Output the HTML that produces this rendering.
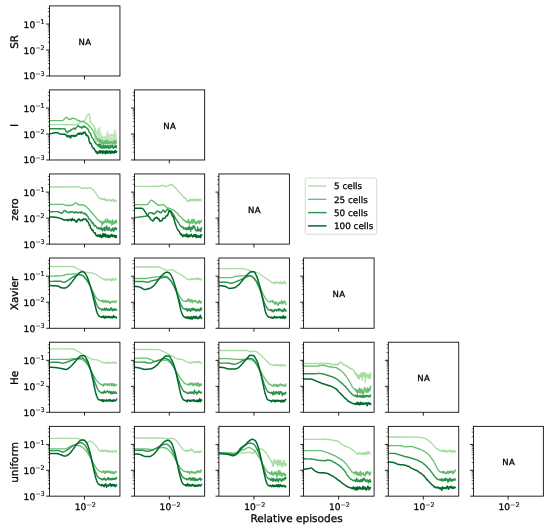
<!DOCTYPE html>
<html lang="en">
<head>
<meta charset="utf-8">
<title>Relative episodes</title>
<style>
html,body{margin:0;padding:0;background:#fff;}
body{width:550px;height:528px;overflow:hidden;}
svg{display:block;}
</style>
</head>
<body>
<svg width="550" height="528" viewBox="0 0 550 528" font-family="'DejaVu Sans', 'Liberation Sans', sans-serif">
<style>text{stroke:#000;stroke-width:0.28px;stroke-linejoin:round;text-rendering:geometricPrecision;}</style>
<rect width="550" height="528" fill="#fff"/>
<text x="84.97" y="44.54" font-size="8.5" letter-spacing="0.4" text-anchor="middle" fill="#000">NA</text>
<rect x="49.5" y="5.9" width="70.45" height="70.08" fill="none" stroke="#000" stroke-width="0.85"/>
<path d="M49.5 75.98h-3.4M49.5 50.01h-3.4M49.5 24.05h-3.4" stroke="#000" stroke-width="0.85" fill="none"/>
<path d="M49.5 68.16h-1.7M49.5 63.59h-1.7M49.5 60.35h-1.7M49.5 57.83h-1.7M49.5 55.77h-1.7M49.5 54.04h-1.7M49.5 52.53h-1.7M49.5 51.2h-1.7M49.5 42.2h-1.7M49.5 37.63h-1.7M49.5 34.38h-1.7M49.5 31.87h-1.7M49.5 29.81h-1.7M49.5 28.07h-1.7M49.5 26.57h-1.7M49.5 25.24h-1.7M49.5 16.23h-1.7M49.5 11.66h-1.7M49.5 8.42h-1.7" stroke="#000" stroke-width="0.6" fill="none"/>
<path d="M84.51 75.98v3.4" stroke="#000" stroke-width="0.85" fill="none"/>
<text x="44.6" y="79.48" font-size="9.1" text-anchor="end" fill="#000">10<tspan dy="-3.4" font-size="6.4" stroke-width="0.15">−3</tspan></text>
<text x="44.6" y="53.51" font-size="9.1" text-anchor="end" fill="#000">10<tspan dy="-3.4" font-size="6.4" stroke-width="0.15">−2</tspan></text>
<text x="44.6" y="27.55" font-size="9.1" text-anchor="end" fill="#000">10<tspan dy="-3.4" font-size="6.4" stroke-width="0.15">−1</tspan></text>
<text transform="translate(17.7 41.84) rotate(-90)" font-size="10.5" text-anchor="middle" fill="#000">SR</text>
<g fill="none" stroke-linejoin="round" stroke-linecap="butt">
<polygon points="94.1,126.9 94.3,126.3 94.5,127.5 94.6,127.2 94.8,127.8 95,129.2 95.1,128.8 95.3,130.1 95.5,130.1 95.6,130.7 95.8,131.9 96,131.4 96.1,132.9 96.3,133.3 96.5,133.2 96.6,132.3 96.8,133.3 97,133.1 97.1,132.8 97.3,131.2 97.5,132.1 97.6,131.2 97.8,129.4 98,129.3 98.1,128.4 98.3,129.2 98.5,129 98.6,128.8 98.8,127.8 99,127.6 99.1,127.4 99.3,127.2 99.5,127.9 99.6,128 99.8,128.6 100,130 100.1,130.2 100.3,132 100.5,132.6 100.6,132.5 100.8,133.7 101,134.1 101.1,133.8 101.3,133.9 101.5,134.4 101.6,134.8 101.8,135.3 102,135.6 102.1,136.5 102.3,135.9 102.5,137.1 102.6,137.1 102.8,137.6 103,137 103.1,136.6 103.3,138 103.5,137.1 103.6,137.1 103.8,138.1 104,138 104.1,137.3 104.3,137.4 104.5,138.5 104.6,137.4 104.8,138 105,136.8 105.1,137.8 105.3,136.5 105.5,137.1 105.6,136.3 105.8,136.9 106,137.2 106.1,135.6 106.3,135.7 106.5,135.9 106.6,135 106.8,133.7 107,133.5 107.1,132.7 107.3,132.8 107.5,131.4 107.6,132.2 107.8,132.1 108,132.8 108.1,132.8 108.3,133.9 108.5,134.5 108.6,134.7 108.8,134.6 109,136.2 109.1,136 109.3,135.2 109.5,136 109.6,135 109.8,135.4 110,135.7 110.1,135.1 110.3,134.5 110.5,134.5 110.6,134 110.8,134.3 111,134.4 111.1,134.2 111.3,134 111.5,134.9 111.6,134.3 111.8,135.2 112,135.4 112.1,134.4 112.3,135.1 112.5,135.3 112.6,134.9 112.8,134.9 113,136.1 113.1,135.5 113.3,136 113.5,134.3 113.6,134.6 113.8,134.3 114,133.6 114.1,131.4 114.3,131.6 114.5,130.5 114.6,130.7 114.8,129.3 115,129.8 115.1,130.8 115.3,130.9 115.5,131.6 115.6,133.1 115.8,132.9 116,133.2 116.1,134.4 116.3,134.5 116.5,134.4 116.6,135.3 116.8,136.1 116.8,141.9 94.1,141.9" fill="#a8dca2" fill-opacity="0.5" stroke="none"/>
<polygon points="94.1,129.6 94.3,129.8 94.5,129.6 94.6,130.3 94.8,131.2 95,131.4 95.1,132.5 95.3,132.4 95.5,132 95.6,133.5 95.8,133.8 96,133.7 96.1,134.9 96.3,135.8 96.5,134.6 96.6,135.6 96.8,136 97,135.2 97.1,134.3 97.3,133.9 97.5,133.9 97.6,133.4 97.8,132.6 98,131.2 98.1,132.3 98.3,132.1 98.5,129.9 98.6,129.9 98.8,129.3 99,130.6 99.1,130.5 99.3,128.5 99.5,129.2 99.6,129.6 99.8,131.2 100,133.4 100.1,132.5 100.3,133.4 100.5,134.7 100.6,135.2 100.8,136.1 101,136 101.1,135.8 101.3,136.7 101.5,138.5 101.6,138.3 101.8,137.3 102,138.8 102.1,137.9 102.3,139.3 102.5,137.9 102.6,140.1 102.8,138.7 103,139.5 103.1,140.2 103.3,140 103.5,139.3 103.6,139.4 103.8,139.6 104,139.2 104.1,139.6 104.3,139.4 104.5,140.2 104.6,139.9 104.8,140.3 105,139.4 105.1,138.7 105.3,139.2 105.5,140.1 105.6,139 105.8,139.1 106,139.6 106.1,138.5 106.3,139.4 106.5,138.9 106.6,136.9 106.8,137 107,135.2 107.1,134.4 107.3,134.5 107.5,134.5 107.6,135.2 107.8,133.6 108,135.3 108.1,135.4 108.3,135.2 108.5,137.6 108.6,137.7 108.8,137 109,138.8 109.1,137.2 109.3,137.2 109.5,137.7 109.6,138.8 109.8,136.9 110,138.5 110.1,137.9 110.3,136.4 110.5,137.4 110.6,137 110.8,137.3 111,137.7 111.1,137.5 111.3,138.3 111.5,136.6 111.6,137.9 111.8,137 112,137.8 112.1,138.1 112.3,138.5 112.5,137.3 112.6,138 112.8,139 113,138.9 113.1,137.7 113.3,138.9 113.5,137.3 113.6,136.7 113.8,136.7 114,135.3 114.1,134.6 114.3,133.7 114.5,133 114.6,131.9 114.8,131.5 115,133.2 115.1,132.9 115.3,133.8 115.5,134.8 115.6,134.2 115.8,135.1 116,135.9 116.1,136.6 116.3,138.1 116.5,137.2 116.6,137.3 116.8,138.1 116.8,141.9 94.1,141.9" fill="#a8dca2" fill-opacity="0.45" stroke="none"/>
<path d="M94.1 126.9L94.3 126.3L94.5 127.5L94.6 127.2L94.8 127.8L95 129.2L95.1 128.8L95.3 130.1L95.5 130.1L95.6 130.7L95.8 131.9L96 131.4L96.1 132.9L96.3 133.3L96.5 133.2L96.6 132.3L96.8 133.3L97 133.1L97.1 132.8L97.3 131.2L97.5 132.1L97.6 131.2L97.8 129.4L98 129.3L98.1 128.4L98.3 129.2L98.5 129L98.6 128.8L98.8 127.8L99 127.6L99.1 127.4L99.3 127.2L99.5 127.9L99.6 128L99.8 128.6L100 130L100.1 130.2L100.3 132L100.5 132.6L100.6 132.5L100.8 133.7L101 134.1L101.1 133.8L101.3 133.9L101.5 134.4L101.6 134.8L101.8 135.3L102 135.6L102.1 136.5L102.3 135.9L102.5 137.1L102.6 137.1L102.8 137.6L103 137L103.1 136.6L103.3 138L103.5 137.1L103.6 137.1L103.8 138.1L104 138L104.1 137.3L104.3 137.4L104.5 138.5L104.6 137.4L104.8 138L105 136.8L105.1 137.8L105.3 136.5L105.5 137.1L105.6 136.3L105.8 136.9L106 137.2L106.1 135.6L106.3 135.7L106.5 135.9L106.6 135L106.8 133.7L107 133.5L107.1 132.7L107.3 132.8L107.5 131.4L107.6 132.2L107.8 132.1L108 132.8L108.1 132.8L108.3 133.9L108.5 134.5L108.6 134.7L108.8 134.6L109 136.2L109.1 136L109.3 135.2L109.5 136L109.6 135L109.8 135.4L110 135.7L110.1 135.1L110.3 134.5L110.5 134.5L110.6 134L110.8 134.3L111 134.4L111.1 134.2L111.3 134L111.5 134.9L111.6 134.3L111.8 135.2L112 135.4L112.1 134.4L112.3 135.1L112.5 135.3L112.6 134.9L112.8 134.9L113 136.1L113.1 135.5L113.3 136L113.5 134.3L113.6 134.6L113.8 134.3L114 133.6L114.1 131.4L114.3 131.6L114.5 130.5L114.6 130.7L114.8 129.3L115 129.8L115.1 130.8L115.3 130.9L115.5 131.6L115.6 133.1L115.8 132.9L116 133.2L116.1 134.4L116.3 134.5L116.5 134.4L116.6 135.3L116.8 136.1" stroke="#a8dca2" stroke-width="0.8" stroke-opacity="0.7"/>
<path d="M49.7 124.7L50 124.7L50.3 124.7L50.7 124.7L51 124.7L51.3 124.7L51.7 124.7L52 124.7L52.3 124.7L52.7 124.7L53 124.7L53.3 124.7L53.7 124.7L54 124.7L54.3 124.7L54.7 124.7L55 124.7L55.3 124.7L55.7 124.7L56 124.7L56.3 124.7L56.7 124.7L57 124.7L57.3 124.7L57.7 124.7L58 124.7L58.3 124.7L58.7 124.7L59 124.7L59.3 124.7L59.7 124.7L60 124.7L60.3 124.7L60.7 124.7L61 124.7L61.3 124.7L61.7 124.7L62 124.7L62.3 124.7L62.7 124.7L63 124.7L63.3 124.7L63.7 124.8L64 124.7L64.3 124.7L64.7 124.8L65 124.8L65.3 124.8L65.7 124.7L66 124.8L66.3 124.7L66.7 124.8L67 124.7L67.3 124.8L67.7 124.7L68 124.8L68.3 124.7L68.7 124.7L69 124.7L69.3 124.5L69.7 124.7L70 124.7L70.3 124.8L70.7 124.8L71 124.7L71.3 124.6L71.7 124.6L72 124.5L72.3 124.6L72.7 124.5L73 124.7L73.3 124.9L73.7 124.8L74 124.7L74.3 124.7L74.7 124.7L75 124.8L75.3 124.7L75.7 124.6L76 124.6L76.3 124.5L76.7 124.3L77 124.3L77.3 124.2L77.7 124L78 123.9L78.3 123.8L78.7 123.8L79 123.6L79.3 123.3L79.7 123.3L80 123L80.3 122.8L80.7 122.6L81 122.4L81.3 122.1L81.7 121.9L82 121.8L82.3 121.7L82.7 121.7L83 121.5L83.3 121.4L83.7 121L84 120.8L84.3 120.5L84.7 120.2L85 119.9L85.3 119.5L85.7 118.9L86 118L86.3 117.2L86.7 116.5L87 115.7L87.3 115.3L87.7 114.8L88 114.3L88.3 114.2L88.7 113.9L89 114.4L89.3 114.9L89.7 116.3L90 118.7L90.3 121.3L90.7 122.5L91 122.9L91.3 123.4L91.7 123.6L92 124L92.3 124.1L92.6 124.4L92.8 124.7L93 125.1L93.1 125.3L93.3 125.5L93.5 125.6L93.6 125.9L93.8 126.3L94 126.5L94.1 127L94.3 127L94.5 127.6L94.6 127.7L94.8 128.2L95 128.8L95.1 129.3L95.3 129.9L95.5 130.3L95.6 130.8L95.8 131.4L96 132" stroke="#a8dca2" stroke-width="1.32"/>
<path d="M98.4 140.5L99.2 141.2L100 141.6L100.8 141.8L101.6 142L102.4 142.2L103.2 142.3L104 142.3L104.8 142.4L105.6 142.4L106.4 142.5L107.2 142.5L108 142.5L108.8 142.6L109.6 142.6L110.4 142.6L111.2 142.7L112 142.7L112.8 142.7L113.6 142.7L114.4 142.7L115.2 142.7L116 142.7L116.8 142.7" stroke="#68be70" stroke-width="2.93" stroke-opacity="0.45"/>
<path d="M49.7 120.6L50 120.6L50.3 120.6L50.7 120.6L51 120.6L51.3 120.6L51.7 120.6L52 120.6L52.3 120.6L52.7 120.6L53 120.6L53.3 120.6L53.7 120.6L54 120.6L54.3 120.6L54.7 120.6L55 120.6L55.3 120.6L55.7 120.6L56 120.6L56.3 120.6L56.7 120.6L57 120.6L57.3 120.6L57.7 120.6L58 120.6L58.3 120.6L58.7 120.6L59 120.6L59.3 120.6L59.7 120.6L60 120.6L60.3 120.6L60.7 120.6L61 120.6L61.3 120.6L61.7 120.6L62 120.6L62.3 120.6L62.7 120.4L63 120.3L63.3 120.1L63.7 119.8L64 119.3L64.3 119L64.7 118.7L65 118.5L65.3 118L65.7 117.6L66 117.5L66.3 117.4L66.7 117.6L67 117.5L67.3 117.7L67.7 118L68 118.2L68.3 118.9L68.7 119.3L69 119.5L69.3 119.2L69.7 119.6L70 119.1L70.3 119.4L70.7 119.1L71 118.9L71.3 118.6L71.7 118.8L72 118.4L72.3 118.2L72.7 118.3L73 118.1L73.3 118.2L73.7 118.4L74 118.6L74.3 118.7L74.7 118.5L75 118.7L75.3 118.9L75.7 119L76 119L76.3 119.6L76.7 120.2L77 120L77.3 120L77.7 120.1L78 120.3L78.3 120.8L78.7 120.5L79 120.8L79.3 120.7L79.7 121.4L80 121.2L80.3 121.4L80.7 121.3L81 121.4L81.3 121.3L81.7 121.2L82 121.3L82.3 121.3L82.7 121.3L83 121.2L83.3 121.8L83.7 121.9L84 122.2L84.3 122.2L84.7 122.4L85 122.5L85.3 122.7L85.7 122.8L86 123.4L86.3 123.2L86.7 123.6L87 124.1L87.3 124.2L87.7 124.4L88 124.7L88.3 124.8L88.7 125.7L89 126L89.3 126L89.7 126.3L90 126.5L90.3 127.2L90.7 127.2L91 127.6L91.3 128.4L91.7 128.7L92 129.3L92.3 129.9L92.7 130.1L93 130.8L93.3 131.6L93.7 132.1L94 132.9L94.3 133.7L94.7 134.5L94.8 134.7L95 134.8L95.2 135L95.3 136L95.5 136.2L95.7 136.5L95.8 136.4L96 137L96.2 137.3L96.3 137.9L96.5 138.2L96.7 138.5L96.8 138.9L97 139.1L97.2 138.9L97.3 138.8L97.5 139.5L97.7 139.7L97.8 139.4L98 139.4L98.2 140.9L98.3 139.9L98.5 140.7L98.7 140.2L98.8 139.2L99 139.5L99.2 139.3L99.3 140.6L99.5 140L99.7 140.9L99.8 140.4L100 141.1L100.2 142.4L100.3 139.9L100.5 140.2L100.7 142.7L100.8 142.2L101 142.3L101.2 141.5L101.3 142.2L101.5 141.2L101.7 143.8L101.8 142.8L102 141.4L102.2 139.9L102.3 143.8L102.5 142.4L102.7 143.4L102.8 145L103 144.5L103.2 144.7L103.3 143.1L103.5 144.6L103.7 142.6L103.8 142.2L104 142.4L104.2 141.5L104.3 143.5L104.5 142.9L104.7 140.8L104.8 141.4L105 142L105.2 142.3L105.3 143.8L105.5 143.7L105.7 143.5L105.8 143L106 142.9L106.2 141.2L106.3 141.7L106.5 139.9L106.7 143.4L106.8 141L107 140.4L107.2 141.7L107.3 141.9L107.5 143.1L107.7 140.8L107.8 141.2L108 143.8L108.2 144L108.3 143.5L108.5 143.3L108.7 142.4L108.8 144.2L109 144.3L109.2 143.4L109.3 142L109.5 142.4L109.7 142.8L109.8 142.4L110 141.5L110.2 142.8L110.3 142.9L110.5 142.5L110.7 142.7L110.8 142.2L111 142.3L111.2 143L111.3 142.8L111.5 141.8L111.7 143.7L111.8 143.4L112 143.7L112.2 144.4L112.3 144.3L112.5 144.5L112.7 144.2L112.8 143.5L113 143.7L113.2 141.6L113.3 143.4L113.5 141.9L113.7 141.6L113.8 140.9L114 141.8L114.2 140.8L114.3 143L114.5 143.6L114.7 143.5L114.8 141.1L115 143.3L115.2 143.2L115.3 140.4L115.5 140.6L115.7 141L115.8 142.1L116 141.3L116.2 142.8L116.3 141.9L116.5 143L116.7 143.3" stroke="#68be70" stroke-width="1.32"/>
<path d="M98.4 145.3L99.2 145.7L100 146L100.8 146.3L101.6 146.4L102.4 146.6L103.2 146.7L104 146.8L104.8 146.9L105.6 146.9L106.4 147L107.2 147L108 147L108.8 147L109.6 147L110.4 147L111.2 147L112 147L112.8 147L113.6 147L114.4 147L115.2 147L116 147L116.8 147" stroke="#2b934b" stroke-width="1.86" stroke-opacity="0.45"/>
<path d="M49.7 128.8L50 128.8L50.3 128.8L50.7 128.8L51 128.8L51.3 128.8L51.7 128.8L52 128.8L52.3 128.8L52.7 128.8L53 128.8L53.3 128.8L53.7 128.8L54 128.8L54.3 128.8L54.7 128.8L55 128.8L55.3 128.8L55.7 128.8L56 128.8L56.3 128.8L56.7 128.8L57 128.8L57.3 128.8L57.7 128.8L58 128.8L58.3 128.8L58.7 128.8L59 128.8L59.3 128.8L59.7 128.8L60 128.8L60.3 128.8L60.7 128.8L61 128.8L61.3 128.8L61.7 128.8L62 128.8L62.3 128.8L62.7 128.8L63 128.9L63.3 128.9L63.7 128.9L64 128.6L64.3 128.5L64.7 128.8L65 128.9L65.3 129.6L65.7 130.5L66 131.5L66.3 131.8L66.7 131.9L67 132.1L67.3 132.8L67.7 132.7L68 132.1L68.3 131.2L68.7 130.9L69 131.1L69.3 131.2L69.7 131.1L70 131.3L70.3 130.6L70.7 129.9L71 130.4L71.3 129.6L71.7 129.7L72 129.1L72.3 129.1L72.7 129L73 128.9L73.3 128.4L73.7 128.3L74 128.1L74.3 128.4L74.7 128.9L75 129.5L75.3 129L75.7 128L76 127.9L76.3 127.9L76.7 127.3L77 126.8L77.3 126.3L77.7 125.9L78 125.6L78.3 125.5L78.7 126.1L79 126.3L79.3 126.5L79.7 127.1L80 126.8L80.3 127.2L80.7 127.2L81 127.4L81.3 127L81.7 127.6L82 128.4L82.3 127.3L82.7 127.4L83 126.2L83.3 126.3L83.7 126.9L84 126.3L84.3 126.5L84.7 127L85 126.3L85.3 127.3L85.7 127.2L86 127.5L86.3 127.7L86.7 127.9L87 128.6L87.3 129.1L87.7 128.8L88 129L88.3 129.6L88.7 130.8L89 131.8L89.3 132.3L89.7 132.9L90 132.8L90.3 132.9L90.7 133.4L91 135.5L91.3 135.8L91.7 137.4L92 137.6L92.3 137.7L92.7 138L93 138.8L93.3 139.4L93.7 139.9L94 140.7L94.3 141.4L94.7 142.2L94.8 141.8L95 142.3L95.2 142.9L95.3 142.4L95.5 143.4L95.7 143.5L95.8 143.6L96 143.2L96.2 143.7L96.3 144L96.5 144.6L96.7 144.2L96.8 144.4L97 144.6L97.2 145.1L97.3 145.1L97.5 145L97.7 145.6L97.8 145.9L98 144.6L98.2 144.9L98.3 145.2L98.5 145.2L98.7 145.1L98.8 146.5L99 144L99.2 143.9L99.3 145.8L99.5 145.5L99.7 146L99.8 146.9L100 145.6L100.2 147.7L100.3 146.5L100.5 144.5L100.7 146.2L100.8 145.9L101 146.8L101.2 147.5L101.3 147.9L101.5 146.1L101.7 147.7L101.8 146.9L102 146.2L102.2 146.8L102.3 146.4L102.5 148.4L102.7 147.2L102.8 146.5L103 147.8L103.2 147.1L103.3 147.7L103.5 145.8L103.7 147.6L103.8 147.8L104 146.1L104.2 146.9L104.3 146.2L104.5 147.5L104.7 145.8L104.8 148.2L105 146.2L105.2 147.5L105.3 147.6L105.5 146.3L105.7 145.3L105.8 147.1L106 145.8L106.2 146.9L106.3 147.2L106.5 147.9L106.7 147L106.8 146.3L107 147.2L107.2 147.8L107.3 147.6L107.5 147.4L107.7 147.2L107.8 145.5L108 147.4L108.2 147.8L108.3 146.8L108.5 148.6L108.7 146.4L108.8 147.7L109 146.6L109.2 146.8L109.3 147.8L109.5 145.9L109.7 147.6L109.8 146.3L110 147.3L110.2 148L110.3 147.1L110.5 146.8L110.7 145.3L110.8 147L111 146.3L111.2 146.7L111.3 146L111.5 147.4L111.7 147.1L111.8 146.5L112 146.1L112.2 146.3L112.3 147.3L112.5 145.4L112.7 147.8L112.8 146.2L113 147.1L113.2 147.4L113.3 147.1L113.5 147.4L113.7 147.7L113.8 148.2L114 146.6L114.2 146.1L114.3 146.8L114.5 146.5L114.7 147.1L114.8 147.3L115 146.9L115.2 144.9L115.3 145.3L115.5 146.9L115.7 146L115.8 147.4L116 146.9L116.2 145.7L116.3 147.3L116.5 147.9L116.7 147.8" stroke="#2b934b" stroke-width="1.4"/>
<path d="M98.4 152.3L99.2 152.3L100 152.4L100.8 152.4L101.6 152.4L102.4 152.4L103.2 152.4L104 152.4L104.8 152.4L105.6 152.4L106.4 152.4L107.2 152.4L108 152.4L108.8 152.4L109.6 152.3L110.4 152.3L111.2 152.3L112 152.3L112.8 152.2L113.6 152.2L114.4 152.2L115.2 152.1L116 152.1L116.8 152" stroke="#00682a" stroke-width="1.2" stroke-opacity="0.45"/>
<path d="M49.7 134L50 133.9L50.3 133.8L50.7 133.7L51 133.6L51.3 133.5L51.7 133.4L52 133.4L52.3 133.3L52.7 133.2L53 133.1L53.3 133.1L53.7 133L54 133L54.3 132.9L54.7 132.9L55 132.8L55.3 132.8L55.7 132.7L56 132.7L56.3 132.7L56.7 132.7L57 132.6L57.3 132.6L57.7 132.7L58 132.9L58.3 133.1L58.7 133.3L59 133.6L59.3 133.8L59.7 133.9L60 134L60.3 134.1L60.7 134.1L61 134.2L61.3 134.2L61.7 134.3L62 134.3L62.3 134.2L62.7 134.3L63 134.4L63.3 134.3L63.7 134.3L64 134.4L64.3 134.1L64.7 134.6L65 134.4L65.3 134.6L65.7 134.5L66 135L66.3 135.2L66.7 136L67 136.7L67.3 135.9L67.7 136.3L68 135.4L68.3 136.4L68.7 136.4L69 137L69.3 136.9L69.7 135.8L70 136.7L70.3 137.1L70.7 138L71 136.4L71.3 135.6L71.7 135.6L72 135.9L72.3 135.9L72.7 135.9L73 135.4L73.3 135.9L73.7 136.2L74 136.7L74.3 135.4L74.7 135.9L75 135.6L75.3 135.4L75.7 136L76 135.9L76.3 135.9L76.7 135.5L77 134.8L77.3 134L77.7 133.8L78 134.4L78.3 133.7L78.7 133.9L79 133L79.3 133.2L79.7 134.3L80 134L80.3 133.8L80.7 133.1L81 133L81.3 134.4L81.7 133.6L82 134L82.3 132.9L82.7 133.2L83 133.6L83.3 133.1L83.7 132.2L84 133L84.3 133L84.7 132L85 132L85.3 132.7L85.7 133.8L86 134.7L86.3 135.5L86.7 134.8L87 135.4L87.3 135.4L87.7 135.6L88 136.5L88.3 137L88.7 138L89 139.6L89.3 141.7L89.7 142.1L90 143.6L90.3 143.4L90.7 143.3L91 143.6L91.3 143.9L91.7 145.7L92 146.2L92.3 146.8L92.7 147.1L93 147.6L93.3 148.6L93.7 148.8L94 148.6L94.3 148.6L94.7 149.9L94.8 149.7L95 150.2L95.2 150.4L95.3 150.6L95.5 151.3L95.7 151.3L95.8 151.1L96 151.8L96.2 152.5L96.3 152.5L96.5 152.8L96.7 152.3L96.8 151.6L97 151.9L97.2 152L97.3 153.3L97.5 153.8L97.7 153.7L97.8 153.3L98 153.4L98.2 152.5L98.3 151.9L98.5 151.9L98.7 151.8L98.8 152.3L99 152.6L99.2 151L99.3 152.5L99.5 151.5L99.7 152.2L99.8 151L100 152.1L100.2 150.7L100.3 152.7L100.5 152.9L100.7 152.4L100.8 151.5L101 150.9L101.2 151.6L101.3 151.6L101.5 151.8L101.7 150.9L101.8 152L102 152.3L102.2 152L102.3 152.8L102.5 152.4L102.7 153.4L102.8 152.3L103 151.5L103.2 151L103.3 150.9L103.5 152.1L103.7 151.2L103.8 152.8L104 152L104.2 152.6L104.3 151.2L104.5 152L104.7 151.5L104.8 152.6L105 152.7L105.2 153.5L105.3 153L105.5 152.6L105.7 153.5L105.8 151.5L106 152L106.2 150.5L106.3 152.1L106.5 151L106.7 151.6L106.8 153.1L107 152.6L107.2 153.3L107.3 153.1L107.5 151.7L107.7 152.8L107.8 151.3L108 151.7L108.2 151.7L108.3 151.9L108.5 152.7L108.7 152.7L108.8 152.5L109 152.9L109.2 152.7L109.3 151L109.5 151L109.7 151.2L109.8 151.4L110 151.1L110.2 151.6L110.3 152.5L110.5 152.3L110.7 152.3L110.8 153.6L111 153.1L111.2 152.2L111.3 151.2L111.5 151.9L111.7 152.5L111.8 152.3L112 152.6L112.2 151.4L112.3 151.2L112.5 151.7L112.7 151.6L112.8 152.7L113 152.7L113.2 151.8L113.3 152.6L113.5 152.9L113.7 151.9L113.8 152.7L114 152.7L114.2 153.1L114.3 153.1L114.5 151.2L114.7 151.9L114.8 151.1L115 151.7L115.2 152L115.3 150.8L115.5 150.6L115.7 151.9L115.8 152.3L116 152.4L116.2 151.4L116.3 152.3L116.5 151.4L116.7 152.2" stroke="#00682a" stroke-width="1.48"/>
</g>
<rect x="49.5" y="89.9" width="70.45" height="70.08" fill="none" stroke="#000" stroke-width="0.85"/>
<path d="M49.5 159.98h-3.4M49.5 134.01h-3.4M49.5 108.05h-3.4" stroke="#000" stroke-width="0.85" fill="none"/>
<path d="M49.5 152.16h-1.7M49.5 147.59h-1.7M49.5 144.35h-1.7M49.5 141.83h-1.7M49.5 139.77h-1.7M49.5 138.04h-1.7M49.5 136.53h-1.7M49.5 135.2h-1.7M49.5 126.2h-1.7M49.5 121.63h-1.7M49.5 118.38h-1.7M49.5 115.87h-1.7M49.5 113.81h-1.7M49.5 112.07h-1.7M49.5 110.57h-1.7M49.5 109.24h-1.7M49.5 100.23h-1.7M49.5 95.66h-1.7M49.5 92.42h-1.7" stroke="#000" stroke-width="0.6" fill="none"/>
<path d="M84.51 159.98v3.4" stroke="#000" stroke-width="0.85" fill="none"/>
<text x="44.6" y="163.48" font-size="9.1" text-anchor="end" fill="#000">10<tspan dy="-3.4" font-size="6.4" stroke-width="0.15">−3</tspan></text>
<text x="44.6" y="137.51" font-size="9.1" text-anchor="end" fill="#000">10<tspan dy="-3.4" font-size="6.4" stroke-width="0.15">−2</tspan></text>
<text x="44.6" y="111.55" font-size="9.1" text-anchor="end" fill="#000">10<tspan dy="-3.4" font-size="6.4" stroke-width="0.15">−1</tspan></text>
<text transform="translate(17.7 125.54) rotate(-90)" font-size="10.5" text-anchor="middle" fill="#000">I</text>
<text x="169.78" y="128.54" font-size="8.5" letter-spacing="0.4" text-anchor="middle" fill="#000">NA</text>
<rect x="134.4" y="89.9" width="70.27" height="70.08" fill="none" stroke="#000" stroke-width="0.85"/>
<path d="M134.4 159.98h-3.4M134.4 134.01h-3.4M134.4 108.05h-3.4" stroke="#000" stroke-width="0.85" fill="none"/>
<path d="M134.4 152.16h-1.7M134.4 147.59h-1.7M134.4 144.35h-1.7M134.4 141.83h-1.7M134.4 139.77h-1.7M134.4 138.04h-1.7M134.4 136.53h-1.7M134.4 135.2h-1.7M134.4 126.2h-1.7M134.4 121.63h-1.7M134.4 118.38h-1.7M134.4 115.87h-1.7M134.4 113.81h-1.7M134.4 112.07h-1.7M134.4 110.57h-1.7M134.4 109.24h-1.7M134.4 100.23h-1.7M134.4 95.66h-1.7M134.4 92.42h-1.7" stroke="#000" stroke-width="0.6" fill="none"/>
<path d="M169.32 159.98v3.4" stroke="#000" stroke-width="0.85" fill="none"/>
<g fill="none" stroke-linejoin="round" stroke-linecap="butt">
<path d="M49.7 187L50 187L50.3 187L50.7 187L51 187L51.3 187L51.7 187L52 187L52.3 187L52.7 187L53 187L53.3 187L53.7 187L54 187L54.3 187L54.7 187L55 187L55.3 187L55.7 187L56 187L56.3 187L56.7 187L57 187L57.3 187L57.7 187L58 187L58.3 187L58.7 187L59 187L59.3 187L59.7 187L60 187L60.3 187L60.7 187L61 187L61.3 187L61.7 187L62 187L62.3 187L62.7 187L63 187L63.3 187L63.7 187L64 187L64.3 186.9L64.7 187L65 187L65.3 187.1L65.7 187L66 187.1L66.3 186.9L66.7 187L67 187L67.3 186.9L67.7 187L68 186.9L68.3 186.9L68.7 186.9L69 187L69.3 186.9L69.7 186.9L70 186.9L70.3 186.8L70.7 186.9L71 187L71.3 187L71.7 186.8L72 186.7L72.3 186.8L72.7 186.8L73 187L73.3 186.9L73.7 186.8L74 186.8L74.3 186.9L74.7 186.7L75 186.6L75.3 186.8L75.7 186.9L76 186.7L76.3 186.8L76.7 186.7L77 186.6L77.3 186.6L77.7 186.3L78 186.4L78.3 186.4L78.7 186.7L79 186.6L79.3 187L79.7 187.3L80 187.5L80.3 187.6L80.7 187.5L81 188.1L81.3 188.1L81.7 188.4L82 188.1L82.3 188.1L82.7 188.3L83 188.3L83.3 188L83.7 188.3L84 187.9L84.3 187.8L84.7 188.1L85 188L85.3 188L85.7 188L86 188L86.3 188.2L86.7 188.2L87 188.4L87.3 188.3L87.7 188.5L88 188.2L88.3 188.3L88.7 188L89 188.2L89.3 188.2L89.7 188.1L90 187.7L90.3 187.7L90.7 187.6L91 187.9L91.3 188.5L91.7 188.7L92 188.9L92.3 188.9L92.7 189.4L93 189.6L93.3 190.2L93.7 190.4L94 190.6L94.3 191.2L94.7 191.5L95 192.2L95.3 192.5L95.7 192.8L96 193.2L96.3 193.9L96.7 194.5L97 195.1L97.3 195.7L97.4 196L97.6 196L97.7 196.3L97.9 196.3L98.1 196.9L98.2 197.3L98.4 197.4L98.6 197.7L98.7 197.8L98.9 197.6L99.1 197.9L99.2 197.8L99.4 198.1L99.6 198.1L99.7 198.4L99.9 198.3L100.1 198.3L100.2 198.6L100.4 198.7L100.6 198.8L100.7 198.9L100.9 198.9L101.1 199L101.2 198.9L101.4 199.4L101.6 199.7L101.7 199.6L101.9 198.6L102.1 199.1L102.2 199.2L102.4 199.2L102.6 199L102.7 199.4L102.9 199.2L103.1 199L103.2 199.6L103.4 199.5L103.6 199.4L103.7 199.4L103.9 198.6L104.1 198.8L104.2 198.5L104.4 198.3L104.6 199.3L104.7 199.1L104.9 199.5L105.1 200.1L105.2 199.6L105.4 199L105.6 199.2L105.7 199.1L105.9 199.5L106.1 199.6L106.2 201L106.4 200.5L106.6 200.5L106.7 200.2L106.9 200.8L107.1 200.5L107.2 200.4L107.4 200.2L107.6 200L107.7 200.4L107.9 200.5L108.1 200.2L108.2 200.2L108.4 199.8L108.6 200L108.7 199.3L108.9 199.5L109.1 200L109.2 199.5L109.4 200.5L109.6 200.4L109.7 200.2L109.9 200.3L110.1 200.2L110.2 200.5L110.4 200.4L110.6 200.5L110.7 200.1L110.9 200.2L111.1 200.2L111.2 200.7L111.4 201.4L111.6 201.2L111.7 201.2L111.9 200.7L112.1 199.8L112.2 199.9L112.4 199.3L112.6 199.8L112.7 199.4L112.9 199.3L113.1 199.7L113.2 199.4L113.4 200.6L113.6 200.9L113.7 201.3L113.9 201.7L114.1 200.9L114.2 201.1L114.4 200.9L114.6 200.8L114.7 200.6L114.9 200L115.1 200.3L115.2 200.4L115.4 200.3L115.6 200.7L115.7 200.8L115.9 201L116.1 201.5L116.2 201.6L116.4 201.6L116.6 201.3L116.7 201.5" stroke="#a8dca2" stroke-width="1.32"/>
<path d="M49.7 204.4L50 204.4L50.3 204.4L50.7 204.4L51 204.4L51.3 204.4L51.7 204.4L52 204.4L52.3 204.4L52.7 204.4L53 204.4L53.3 204.4L53.7 204.4L54 204.4L54.3 204.4L54.7 204.4L55 204.4L55.3 204.4L55.7 204.4L56 204.4L56.3 204.4L56.7 204.4L57 204.4L57.3 204.4L57.7 204.4L58 204.4L58.3 204.4L58.7 204.4L59 204.4L59.3 204.4L59.7 204.4L60 204.4L60.3 204.4L60.7 204.4L61 204.4L61.3 204.4L61.7 204.4L62 204.4L62.3 204.4L62.7 204.4L63 204.4L63.3 204.4L63.7 204.5L64 204.7L64.3 204.8L64.7 205L65 205L65.3 205.2L65.7 205.1L66 205.4L66.3 205.4L66.7 205.7L67 205.5L67.3 205.5L67.7 205.5L68 205.6L68.3 205.3L68.7 205.3L69 205.2L69.3 205.3L69.7 205.7L70 205.4L70.3 205.4L70.7 205.2L71 205.5L71.3 205.3L71.7 205.2L72 205L72.3 205L72.7 204.8L73 204.8L73.3 204.5L73.7 204.2L74 203.9L74.3 203.5L74.7 203.2L75 203L75.3 202.9L75.7 202.9L76 202.8L76.3 202.9L76.7 203.4L77 203.5L77.3 204.2L77.7 204.5L78 204.3L78.3 204.4L78.7 204.5L79 204.6L79.3 204.6L79.7 205L80 205.2L80.3 205L80.7 204.8L81 204.7L81.3 204.7L81.7 204.9L82 205.1L82.3 205.1L82.7 204.7L83 204.7L83.3 205.1L83.7 205.1L84 205.3L84.3 205.5L84.7 205.4L85 205.8L85.3 205.8L85.7 206.3L86 206.4L86.3 206.7L86.7 207L87 207.4L87.3 207.7L87.7 208.1L88 208.3L88.3 208.8L88.7 208.7L89 209.3L89.3 209.6L89.7 210.6L90 210.8L90.3 211.1L90.7 211.2L91 211.6L91.3 212.2L91.7 212.5L92 212.6L92.3 213L92.7 213.4L93 214.3L93.3 214.5L93.7 214.7L94 215.1L94.3 215.7L94.7 216.2L95 216.3L95.3 216.6L95.7 217.1L96 217.5L96.3 217.9L96.7 218.3L97 218.9L97.3 219.6L97.4 219.5L97.6 219.8L97.7 219.7L97.9 219.7L98.1 220L98.2 220.2L98.4 220.2L98.6 220.5L98.7 220.6L98.9 220.9L99.1 220.6L99.2 220.9L99.4 221.3L99.6 221.4L99.7 221.3L99.9 221.4L100.1 221.7L100.2 221.9L100.4 222.1L100.6 222.1L100.7 222.3L100.9 221.7L101.1 221.7L101.2 221.1L101.4 222.3L101.6 221.8L101.7 224.1L101.9 223.4L102.1 225.3L102.2 223.9L102.4 222.9L102.6 223L102.7 221.8L102.9 221.8L103.1 221.7L103.2 222.8L103.4 222.9L103.6 223L103.7 223.7L103.9 221.6L104.1 221.6L104.2 221.2L104.4 221.8L104.6 222.4L104.7 221.9L104.9 221.6L105.1 222.1L105.2 221.9L105.4 219.6L105.6 221.2L105.7 219L105.9 220.2L106.1 221.1L106.2 220.6L106.4 222.2L106.6 222.6L106.7 222L106.9 222.3L107.1 222.2L107.2 221.2L107.4 220.9L107.6 220.2L107.7 219L107.9 221.5L108.1 222.1L108.2 221.4L108.4 222.7L108.6 221.9L108.7 221.5L108.9 222.2L109.1 222.7L109.2 222.8L109.4 222.9L109.6 222.3L109.7 220.5L109.9 221.4L110.1 222L110.2 221.7L110.4 222L110.6 220.9L110.7 221.9L110.9 223L111.1 223.7L111.2 224.2L111.4 223.2L111.6 223.1L111.7 225L111.9 223.2L112.1 223L112.2 221.2L112.4 219.6L112.6 222.3L112.7 222.7L112.9 221.7L113.1 224.2L113.2 221.8L113.4 221.3L113.6 223.5L113.7 221.6L113.9 222.8L114.1 223.1L114.2 223.4L114.4 223L114.6 222L114.7 222.6L114.9 221.1L115.1 221.3L115.2 222.9L115.4 220.4L115.6 221.5L115.7 220.6L115.9 221.3L116.1 221.1L116.2 220.2L116.4 221.6L116.6 222.8L116.7 222.1" stroke="#68be70" stroke-width="1.32"/>
<path d="M49.7 211.9L50 211.8L50.3 211.8L50.7 211.8L51 211.7L51.3 211.7L51.7 211.7L52 211.7L52.3 211.7L52.7 211.6L53 211.6L53.3 211.6L53.7 211.6L54 211.6L54.3 211.6L54.7 211.6L55 211.6L55.3 211.6L55.7 211.6L56 211.6L56.3 211.6L56.7 211.6L57 211.6L57.3 211.6L57.7 211.6L58 211.7L58.3 211.8L58.7 212L59 212.1L59.3 212.3L59.7 212.5L60 212.6L60.3 212.8L60.7 212.9L61 213.1L61.3 213.2L61.7 213.2L62 213.2L62.3 213.1L62.7 212.8L63 212.3L63.3 211.8L63.7 211.3L64 210.8L64.3 210.6L64.7 210.5L65 210.7L65.3 210.8L65.7 210.7L66 211.4L66.3 211.5L66.7 212L67 212.1L67.3 212.4L67.7 212.2L68 212.6L68.3 212.4L68.7 212.8L69 212.4L69.3 212.5L69.7 211.7L70 212.5L70.3 212.3L70.7 212.2L71 211.6L71.3 211.8L71.7 211.5L72 211.8L72.3 212.1L72.7 212.1L73 211.9L73.3 212.2L73.7 212.5L74 212.3L74.3 212.6L74.7 213.2L75 212.7L75.3 212.5L75.7 211.6L76 212.2L76.3 212.1L76.7 212.5L77 212.4L77.3 212.7L77.7 213.1L78 212.2L78.3 212.8L78.7 212.5L79 212.5L79.3 212.2L79.7 212.1L80 212.3L80.3 213L80.7 212.4L81 213L81.3 211.8L81.7 212.5L82 212.1L82.3 212.6L82.7 212.8L83 213.2L83.3 213.4L83.7 213.5L84 213.7L84.3 213.9L84.7 213L85 213.2L85.3 213.6L85.7 213.8L86 214.7L86.3 214.3L86.7 215.1L87 215.2L87.3 216.1L87.7 216.2L88 217.1L88.3 217.8L88.7 217.8L89 219.3L89.3 219.1L89.7 219.1L90 219.5L90.3 220.1L90.7 220.4L91 221.6L91.3 221.7L91.7 221.5L92 222.8L92.3 222.9L92.7 223.6L93 222.6L93.3 224L93.7 224L94 225.6L94.3 225.8L94.7 226.1L95 225.2L95.3 226.1L95.7 225.9L96 226.5L96.3 226.7L96.7 227.2L96.7 227.6L96.9 227.5L97.1 227.9L97.2 228.3L97.4 227.9L97.6 228.1L97.7 228.5L97.9 228.5L98.1 227.9L98.2 228.4L98.4 228.4L98.6 228.5L98.7 228.2L98.9 228.2L99.1 227.5L99.2 228L99.4 228.3L99.6 228.9L99.7 228.4L99.9 229.2L100.1 228.9L100.2 228.9L100.4 228.9L100.6 229.1L100.7 229.2L100.9 228.9L101.1 228.8L101.2 227.1L101.4 228.4L101.6 228.4L101.7 228.8L101.9 229.2L102.1 229.8L102.2 229.4L102.4 230.9L102.6 229.1L102.7 229.7L102.9 228.4L103.1 229.8L103.2 228.5L103.4 229.1L103.6 228.5L103.7 228.6L103.9 228.9L104.1 227.8L104.2 229.3L104.4 230.7L104.6 229.2L104.7 229.3L104.9 227.5L105.1 228L105.2 228.7L105.4 230.2L105.6 227.5L105.7 229.4L105.9 228.7L106.1 229.1L106.2 227.5L106.4 226.6L106.6 225.9L106.7 227L106.9 227.2L107.1 227L107.2 229.5L107.4 229L107.6 229.2L107.7 230.4L107.9 229.7L108.1 230L108.2 230.3L108.4 229.2L108.6 229.2L108.7 228.9L108.9 227.8L109.1 227.4L109.2 228L109.4 228.7L109.6 228.9L109.7 229L109.9 230.1L110.1 229L110.2 230L110.4 229.8L110.6 229.7L110.7 230.2L110.9 230L111.1 231.1L111.2 231.1L111.4 230.8L111.6 230.1L111.7 229.7L111.9 229.7L112.1 230.4L112.2 228.5L112.4 228.7L112.6 227.9L112.7 228.7L112.9 228.6L113.1 228.4L113.2 229.3L113.4 230.6L113.6 231.3L113.7 230L113.9 230L114.1 229L114.2 228.1L114.4 228.9L114.6 228.2L114.7 230L114.9 229.6L115.1 228L115.2 227.7L115.4 228.3L115.6 228L115.7 227.4L115.9 228.2L116.1 229.1L116.2 229.3L116.4 229.6L116.6 228.3L116.7 227.8" stroke="#2b934b" stroke-width="1.4"/>
<path d="M49.7 216.9L50 216.9L50.3 216.9L50.7 216.9L51 216.9L51.3 216.9L51.7 217L52 217L52.3 217L52.7 217L53 217.1L53.3 217.1L53.7 217.1L54 217.1L54.3 217.2L54.7 217.2L55 217.2L55.3 217.3L55.7 217.3L56 217.3L56.3 217.4L56.7 217.4L57 217.5L57.3 217.6L57.7 217.7L58 217.7L58.3 217.8L58.7 217.9L59 218L59.3 218.1L59.7 218.2L60 218.3L60.3 218.4L60.7 218.5L61 218.6L61.3 218.7L61.7 218.9L62 219L62.3 219.1L62.7 219.2L63 219.4L63.3 219.6L63.7 219.9L64 219.9L64.3 220.1L64.7 220.2L65 220L65.3 219.9L65.7 219.8L66 219.9L66.3 219.7L66.7 219.9L67 219.7L67.3 219.9L67.7 219.6L68 220.7L68.3 220.4L68.7 220.1L69 219.5L69.3 219.6L69.7 219.6L70 219.6L70.3 220.1L70.7 219.5L71 220.5L71.3 220.8L71.7 220.1L72 218.8L72.3 218.5L72.7 218.9L73 219.8L73.3 220.2L73.7 220.3L74 220.2L74.3 219.4L74.7 220.4L75 220.6L75.3 221.2L75.7 221.3L76 221L76.3 222.3L76.7 221.6L77 221.6L77.3 220.2L77.7 220.1L78 219.3L78.3 219.3L78.7 219L79 219.7L79.3 219.1L79.7 219.8L80 220.5L80.3 220.2L80.7 220.7L81 220.6L81.3 220.4L81.7 220L82 220.7L82.3 220L82.7 219.5L83 219.3L83.3 218.9L83.7 219.5L84 219.2L84.3 219.5L84.7 219.4L85 219.3L85.3 219.5L85.7 219L86 219.1L86.3 219.3L86.7 220.1L87 221.3L87.3 220.8L87.7 221.5L88 222L88.3 222L88.7 223.3L89 223.9L89.3 225.3L89.7 224.9L90 225.5L90.3 226.7L90.7 228.4L91 228.6L91.3 228.5L91.7 229.2L92 230.2L92.3 229.9L92.7 230.1L93 231L93.3 230.9L93.7 232.1L94 232.4L94.3 232.9L94.7 233.1L95 233L95.3 232.8L95.4 234L95.5 234.1L95.7 234.8L95.9 234.8L96 235.4L96.2 235.4L96.4 235.3L96.5 235.3L96.7 235.8L96.9 235.7L97 235.3L97.2 235.6L97.4 236.1L97.5 236.3L97.7 235.4L97.9 235L98 235.5L98.2 235.6L98.4 236.3L98.5 236L98.7 236L98.9 235.5L99 235.6L99.2 236.3L99.4 235.4L99.5 236.8L99.7 236.5L99.9 235.4L100 234.9L100.2 234.6L100.4 235.7L100.5 236.1L100.7 236.7L100.9 235.9L101 236L101.2 235.7L101.4 236.7L101.5 236L101.7 237.5L101.9 236.6L102 236.7L102.2 237.1L102.4 236.1L102.5 234.7L102.7 234.1L102.9 234.8L103 233.5L103.2 235.4L103.4 234.6L103.5 236.5L103.7 236.4L103.9 236.5L104 235.5L104.2 235.8L104.4 234.1L104.5 235.3L104.7 235L104.9 235.8L105 235.8L105.2 236.4L105.4 234.1L105.5 234.3L105.7 235.6L105.9 236.6L106 236.5L106.2 237L106.4 235.8L106.5 235.5L106.7 236.1L106.9 235.2L107 236.1L107.2 235.3L107.4 236.2L107.5 237L107.7 235.9L107.9 235.9L108 236.2L108.2 236L108.4 235.2L108.5 236L108.7 236.5L108.9 237.6L109 236.3L109.2 236.1L109.4 236.4L109.5 235.7L109.7 237.1L109.9 235.7L110 236L110.2 236.5L110.4 235.9L110.5 236.8L110.7 235.8L110.9 235.5L111 235.1L111.2 234.4L111.4 236L111.5 235.4L111.7 236.1L111.9 234.6L112 234.7L112.2 235.3L112.4 236.5L112.5 235.6L112.7 236.7L112.9 235.6L113 236.1L113.2 236.1L113.4 235.4L113.5 235.6L113.7 235.5L113.9 236L114 235.9L114.2 235.6L114.4 235.3L114.5 235.3L114.7 237.2L114.9 237.2L115 236.6L115.2 235.9L115.4 235.6L115.5 236L115.7 236.6L115.9 237.5L116 237.6L116.2 235.8L116.4 237.1L116.5 236.7L116.7 236.7" stroke="#00682a" stroke-width="1.48"/>
</g>
<rect x="49.5" y="173.95" width="70.45" height="70.15" fill="none" stroke="#000" stroke-width="0.85"/>
<path d="M49.5 244.1h-3.4M49.5 218.11h-3.4M49.5 192.12h-3.4" stroke="#000" stroke-width="0.85" fill="none"/>
<path d="M49.5 236.28h-1.7M49.5 231.7h-1.7M49.5 228.45h-1.7M49.5 225.93h-1.7M49.5 223.87h-1.7M49.5 222.13h-1.7M49.5 220.63h-1.7M49.5 219.3h-1.7M49.5 210.28h-1.7M49.5 205.71h-1.7M49.5 202.46h-1.7M49.5 199.94h-1.7M49.5 197.88h-1.7M49.5 196.14h-1.7M49.5 194.64h-1.7M49.5 193.31h-1.7M49.5 184.29h-1.7M49.5 179.72h-1.7M49.5 176.47h-1.7" stroke="#000" stroke-width="0.6" fill="none"/>
<path d="M84.51 244.1v3.4" stroke="#000" stroke-width="0.85" fill="none"/>
<text x="44.6" y="247.6" font-size="9.1" text-anchor="end" fill="#000">10<tspan dy="-3.4" font-size="6.4" stroke-width="0.15">−3</tspan></text>
<text x="44.6" y="221.61" font-size="9.1" text-anchor="end" fill="#000">10<tspan dy="-3.4" font-size="6.4" stroke-width="0.15">−2</tspan></text>
<text x="44.6" y="195.62" font-size="9.1" text-anchor="end" fill="#000">10<tspan dy="-3.4" font-size="6.4" stroke-width="0.15">−1</tspan></text>
<text transform="translate(17.7 209.47) rotate(-90)" font-size="10.5" text-anchor="middle" fill="#000">zero</text>
<g fill="none" stroke-linejoin="round" stroke-linecap="butt">
<path d="M134.4 186.4L134.7 186.4L135.1 186.4L135.4 186.4L135.7 186.4L136.1 186.4L136.4 186.4L136.7 186.4L137.1 186.4L137.4 186.4L137.7 186.4L138.1 186.4L138.4 186.4L138.7 186.4L139.1 186.4L139.4 186.4L139.7 186.4L140.1 186.4L140.4 186.4L140.7 186.4L141.1 186.4L141.4 186.4L141.7 186.4L142.1 186.4L142.4 186.4L142.7 186.4L143.1 186.4L143.4 186.4L143.7 186.3L144.1 186.3L144.4 186.3L144.7 186.3L145.1 186.3L145.4 186.3L145.7 186.3L146.1 186.3L146.4 186.3L146.7 186.3L147.1 186.3L147.4 186.3L147.7 186.4L148.1 186.4L148.4 186.3L148.7 186.3L149.1 186.2L149.4 186.2L149.7 186.3L150.1 186.4L150.4 186.5L150.7 186.5L151.1 186.4L151.4 186.5L151.7 186.4L152.1 186.4L152.4 186.3L152.7 186.1L153.1 186.1L153.4 186.2L153.7 186.2L154.1 186.1L154.4 186.2L154.7 186L155.1 186.3L155.4 186.1L155.7 186.4L156.1 186.3L156.4 186.5L156.7 186.2L157.1 186.3L157.4 186.3L157.7 186.4L158.1 186.1L158.4 186.4L158.7 186.4L159.1 186.2L159.4 186.1L159.7 186L160.1 185.9L160.4 185.8L160.7 185.7L161.1 185.9L161.4 185.6L161.7 185.4L162.1 185.5L162.4 185.4L162.7 185.6L163.1 185.5L163.4 185.3L163.7 185.8L164.1 186.1L164.4 186.1L164.7 186.4L165.1 186.4L165.4 186.4L165.7 186.6L166.1 186.5L166.4 186.5L166.7 186.1L167.1 186.2L167.4 186.1L167.7 186.2L168.1 186L168.4 185.6L168.7 185.4L169.1 185.3L169.4 185.1L169.7 184.9L170.1 185L170.4 184.8L170.7 184.8L171.1 184.8L171.4 184.5L171.7 184.6L172.1 184.4L172.4 184.9L172.7 185.1L173.1 185.6L173.4 185.9L173.7 186L174.1 186.3L174.4 186.9L174.7 187.3L175.1 187.7L175.4 187.8L175.7 188.1L176.1 188.3L176.4 189L176.7 189.2L177.1 189.5L177.4 190.1L177.7 190.5L178.1 191.1L178.4 191.3L178.7 191.7L179.1 191.9L179.4 192.3L179.7 192.9L180.1 193.1L180.4 193.5L180.7 193.7L181.1 194L181.4 194.6L181.7 194.9L182.1 195.5L182.4 195.8L182.7 196.1L183.1 196.3L183.4 196.5L183.7 197L183.8 197L183.9 197.3L184.1 197.6L184.3 197.5L184.4 197.5L184.6 197.5L184.8 197.6L184.9 198L185.1 198.1L185.3 198.3L185.4 198.4L185.6 198.7L185.8 199L185.9 199.1L186.1 199L186.3 199.4L186.4 199.5L186.6 199.7L186.8 200.1L186.9 200.5L187.1 200.3L187.3 200.9L187.4 201.5L187.6 201.5L187.8 201L187.9 201.2L188.1 200.9L188.3 201.2L188.4 200.7L188.6 200.2L188.8 200.2L188.9 200.6L189.1 201L189.3 200.1L189.4 200.1L189.6 200.6L189.8 199.6L189.9 199.5L190.1 199.9L190.3 199.1L190.4 199.8L190.6 199.8L190.8 200.8L190.9 200.8L191.1 200.1L191.3 199.5L191.4 200.1L191.6 200.2L191.8 200.9L191.9 200.9L192.1 200L192.3 199.6L192.4 199.8L192.6 200.3L192.8 200L192.9 199.4L193.1 199.3L193.3 199.3L193.4 199.7L193.6 199.7L193.8 200.4L193.9 201.1L194.1 200.6L194.3 199.9L194.4 199.3L194.6 199.1L194.8 199.4L194.9 199.2L195.1 200.1L195.3 200.1L195.4 199.5L195.6 199.2L195.8 200.5L195.9 200L196.1 199.7L196.3 199.8L196.4 200.5L196.6 199.8L196.8 200.3L196.9 200L197.1 199.4L197.3 200.6L197.4 200L197.6 200.4L197.8 201.2L197.9 199.8L198.1 200.1L198.3 200.2L198.4 199.6L198.6 199.6L198.8 199.7L198.9 199.4L199.1 199.6L199.3 200.2L199.4 199.6L199.6 199.6L199.8 199.7L199.9 200.5L200.1 200.2L200.3 199.4L200.4 199.2L200.6 200.1L200.8 199.5L200.9 199.7L201.1 200L201.3 200.7L201.4 201L201.6 200.6L201.8 200.6" stroke="#a8dca2" stroke-width="1.32"/>
<path d="M134.4 204.6L134.7 204.6L135.1 204.6L135.4 204.6L135.7 204.6L136.1 204.6L136.4 204.6L136.7 204.6L137.1 204.6L137.4 204.6L137.7 204.6L138.1 204.6L138.4 204.6L138.7 204.6L139.1 204.6L139.4 204.6L139.7 204.6L140.1 204.6L140.4 204.6L140.7 204.6L141.1 204.6L141.4 204.6L141.7 204.6L142.1 204.6L142.4 204.6L142.7 204.6L143.1 204.6L143.4 204.6L143.7 204.6L144.1 204.6L144.4 204.6L144.7 204.6L145.1 204.6L145.4 204.6L145.7 204.6L146.1 204.6L146.4 204.6L146.7 204.7L147.1 204.7L147.4 204.5L147.7 204.3L148.1 203.9L148.4 203.5L148.7 203L149.1 202.5L149.4 202.1L149.7 201.6L150.1 201.2L150.4 200.8L150.7 200.5L151.1 200.3L151.4 200.2L151.7 200.2L152.1 200.3L152.4 200.4L152.7 200.9L153.1 201.2L153.4 201.3L153.7 201.6L154.1 201.9L154.4 202.3L154.7 202.3L155.1 202.8L155.4 202.9L155.7 203.5L156.1 203.8L156.4 203.9L156.7 204.1L157.1 204.4L157.4 204.7L157.7 204.8L158.1 204.9L158.4 205.3L158.7 205.5L159.1 205.3L159.4 205.4L159.7 205.4L160.1 205.2L160.4 204.9L160.7 204.9L161.1 204.9L161.4 204.8L161.7 205L162.1 204.9L162.4 204.7L162.7 204.6L163.1 204.4L163.4 204.6L163.7 204.8L164.1 205L164.4 205.1L164.7 205.4L165.1 205.9L165.4 206.3L165.7 206.6L166.1 206.7L166.4 207.1L166.7 207.3L167.1 207.5L167.4 208.1L167.7 208.1L168.1 208L168.4 208L168.7 208.1L169.1 208.5L169.4 208.5L169.7 208.6L170.1 208.6L170.4 208.6L170.7 208.8L171.1 208.9L171.4 209.2L171.7 209.2L172.1 209.6L172.4 209.7L172.7 209.8L173.1 209.9L173.4 210.2L173.7 210.3L174.1 210.5L174.4 210.7L174.7 210.9L175.1 211.2L175.4 211.6L175.7 212L176.1 212.3L176.4 212.3L176.7 212.9L177.1 212.8L177.4 213.3L177.7 213.7L178.1 214.4L178.4 214.6L178.7 215.2L179.1 215.4L179.4 215.9L179.7 216.1L180.1 216.5L180.4 216.7L180.7 216.9L181.1 217.4L181.4 217.5L181.7 217.9L182.1 218.3L182.4 218.6L182.7 219.4L183.1 219.6L183.1 219.7L183.3 219.4L183.4 219.7L183.6 220.1L183.8 220.3L183.9 220.4L184.1 220.5L184.3 220.3L184.4 220.6L184.6 220.6L184.8 220.5L184.9 220.8L185.1 221L185.3 221.3L185.4 221.1L185.6 221.1L185.8 221.5L185.9 221.8L186.1 221.9L186.3 222.3L186.4 221.5L186.6 221.2L186.8 221.5L186.9 221.6L187.1 221.9L187.3 221.4L187.4 222.4L187.6 221.7L187.8 222.7L187.9 222.2L188.1 220.4L188.3 220.5L188.4 219.5L188.6 219.6L188.8 221.6L188.9 222.4L189.1 223.3L189.3 224.5L189.4 223.4L189.6 223.9L189.8 223.4L189.9 221.6L190.1 222.1L190.3 221.9L190.4 222.4L190.6 222.4L190.8 222.7L190.9 222.4L191.1 222.2L191.3 221.8L191.4 219.8L191.6 220.9L191.8 222.5L191.9 223L192.1 223.4L192.3 223.7L192.4 223.1L192.6 222.4L192.8 222L192.9 219.4L193.1 219.3L193.3 220.1L193.4 221L193.6 222.2L193.8 221.7L193.9 219.9L194.1 220L194.3 220.7L194.4 219.8L194.6 222.4L194.8 222.2L194.9 222.7L195.1 223.5L195.3 221.8L195.4 222.8L195.6 223.8L195.8 222.2L195.9 222.9L196.1 222L196.3 222.1L196.4 222.6L196.6 222.3L196.8 223.8L196.9 222.6L197.1 222L197.3 222.2L197.4 221.5L197.6 221.5L197.8 221L197.9 222.7L198.1 222.7L198.3 221.8L198.4 221.9L198.6 221.4L198.8 221.2L198.9 220.5L199.1 223.3L199.3 223.7L199.4 223.3L199.6 223.5L199.8 222.9L199.9 221.2L200.1 221.4L200.3 222.1L200.4 222.4L200.6 222.2L200.8 222.2L200.9 222.2L201.1 222L201.3 221.7L201.4 220.2L201.6 220.7L201.8 220.7" stroke="#68be70" stroke-width="1.32"/>
<path d="M134.4 217.7L134.7 217.7L135.1 217.6L135.4 217.6L135.7 217.5L136.1 217.5L136.4 217.4L136.7 217.4L137.1 217.4L137.4 217.3L137.7 217.3L138.1 217.2L138.4 217.2L138.7 217.1L139.1 217.1L139.4 217L139.7 217L140.1 216.9L140.4 216.9L140.7 216.8L141.1 216.8L141.4 216.7L141.7 216.7L142.1 216.7L142.4 216.6L142.7 216.6L143.1 216.5L143.4 216.5L143.7 216.5L144.1 216.4L144.4 216.4L144.7 216.4L145.1 216.3L145.4 216.3L145.7 216.2L146.1 216.2L146.4 216.1L146.7 216L147.1 215.9L147.4 215.6L147.7 215.2L148.1 214.5L148.4 214L148.7 213.3L149.1 213L149.4 212.8L149.7 212.8L150.1 212.7L150.4 212.7L150.7 212.6L151.1 212.7L151.4 213L151.7 212.8L152.1 212.8L152.4 212.8L152.7 213.5L153.1 213.7L153.4 214.1L153.7 213.6L154.1 213.6L154.4 213.4L154.7 213.9L155.1 213.5L155.4 212.8L155.7 212.5L156.1 211.7L156.4 211.4L156.7 211.7L157.1 210.9L157.4 211.1L157.7 210.9L158.1 211.3L158.4 211.5L158.7 212L159.1 211.6L159.4 211.7L159.7 212.3L160.1 212.5L160.4 212.3L160.7 212.9L161.1 212.4L161.4 212.3L161.7 211.6L162.1 211.5L162.4 211.1L162.7 211L163.1 210.1L163.4 210.3L163.7 210.3L164.1 210.5L164.4 211.2L164.7 212.2L165.1 212.2L165.4 211.9L165.7 211.5L166.1 211.1L166.4 210.7L166.7 209.8L167.1 209.2L167.4 209.5L167.7 209.2L168.1 210L168.4 210.3L168.7 210.3L169.1 210.2L169.4 210.1L169.7 210.6L170.1 210.6L170.4 211.7L170.7 211.6L171.1 211.4L171.4 211.2L171.7 212.4L172.1 212.9L172.4 213.3L172.7 213.6L173.1 213.9L173.4 214.5L173.7 215.3L174.1 215.3L174.4 216L174.7 216.6L175.1 218.3L175.4 217.9L175.7 218.8L176.1 219.1L176.4 219.6L176.7 220.2L177.1 220.5L177.4 221L177.7 221.9L178.1 222.1L178.4 222.4L178.7 222.8L179.1 223.8L179.4 224.4L179.7 225L180.1 225.2L180.4 226L180.7 226.1L181.1 226L181.4 226.4L181.7 227.1L182.1 227L182.4 227.2L182.4 227.1L182.6 227.4L182.7 227.1L182.9 227L183.1 227L183.2 227.8L183.4 227.7L183.6 228.7L183.7 228.9L183.9 228.6L184.1 228.2L184.2 227.9L184.4 228.5L184.6 228.2L184.7 228.8L184.9 228.4L185.1 228.6L185.2 228.3L185.4 228.9L185.6 228.5L185.7 227.9L185.9 228.1L186.1 229L186.2 229.6L186.4 229.8L186.6 229.1L186.7 228.4L186.9 228.2L187.1 227.7L187.2 227.7L187.4 228.3L187.6 229L187.7 228.7L187.9 229.5L188.1 229.2L188.2 227.9L188.4 228.9L188.6 229.4L188.7 227.4L188.9 227.5L189.1 226.2L189.2 227.9L189.4 228.1L189.6 227.8L189.7 229.3L189.9 227.6L190.1 227.3L190.2 228.5L190.4 229.2L190.6 230.1L190.7 231.2L190.9 229.3L191.1 228.4L191.2 228.7L191.4 228.1L191.6 227.7L191.7 227.5L191.9 227L192.1 229.2L192.2 229.1L192.4 228L192.6 228.5L192.7 228L192.9 227.6L193.1 227.4L193.2 227L193.4 225.6L193.6 226.7L193.7 227.7L193.9 227.1L194.1 227.2L194.2 226.8L194.4 227.1L194.6 227.9L194.7 226.1L194.9 228.7L195.1 228.8L195.2 229.4L195.4 229.5L195.6 229.1L195.7 229.9L195.9 230.7L196.1 230.1L196.2 230L196.4 230.5L196.6 230.5L196.7 230.3L196.9 230.2L197.1 230.6L197.2 231.1L197.4 229.8L197.6 229.7L197.7 226.9L197.9 229.3L198.1 229L198.2 230.1L198.4 229.4L198.6 229.4L198.7 230.9L198.9 229.7L199.1 230L199.2 230.3L199.4 229.5L199.6 230.4L199.7 230L199.9 230.8L200.1 229.5L200.2 229.1L200.4 228.9L200.6 230L200.7 230.9L200.9 231.6L201.1 230.2L201.2 229.4L201.4 227.8L201.6 228.3L201.7 227.5" stroke="#2b934b" stroke-width="1.4"/>
<path d="M134.4 208.2L134.7 208.2L135.1 208.2L135.4 208.2L135.7 208.2L136.1 208.2L136.4 208.2L136.7 208.2L137.1 208.2L137.4 208.2L137.7 208.2L138.1 208.2L138.4 208.2L138.7 208.2L139.1 208.2L139.4 208.2L139.7 208.2L140.1 208.2L140.4 208.2L140.7 208.2L141.1 208.2L141.4 208.2L141.7 208.2L142.1 208.3L142.4 208.5L142.7 208.7L143.1 209L143.4 209.4L143.7 209.8L144.1 210.2L144.4 210.7L144.7 211.2L145.1 211.7L145.4 212.2L145.7 212.7L146.1 213.2L146.4 213.7L146.7 214.2L147.1 214.7L147.4 215.1L147.7 215.5L148.1 215.7L148.4 216.2L148.7 216.6L149.1 216.9L149.4 217.3L149.7 217.8L150.1 218L150.4 218.6L150.7 219.1L151.1 219.6L151.4 220L151.7 220.1L152.1 220L152.4 220.6L152.7 220.8L153.1 221L153.4 220.6L153.7 220.3L154.1 219.8L154.4 218.5L154.7 218.6L155.1 218L155.4 218.2L155.7 218.2L156.1 217.3L156.4 217.4L156.7 217.4L157.1 217.5L157.4 218L157.7 218.7L158.1 218.5L158.4 219.2L158.7 219.1L159.1 219.1L159.4 220.4L159.7 221.2L160.1 221.3L160.4 220.9L160.7 220.8L161.1 220.9L161.4 221L161.7 220.7L162.1 220.3L162.4 219.7L162.7 218.5L163.1 218.5L163.4 218.3L163.7 218.5L164.1 218.2L164.4 218.1L164.7 218L165.1 217.8L165.4 217.8L165.7 216.9L166.1 216.1L166.4 215.8L166.7 215.6L167.1 215.2L167.4 215.6L167.7 215.2L168.1 213.9L168.4 213L168.7 211.9L169.1 211.6L169.4 211.2L169.7 210.9L170.1 210.9L170.4 211L170.7 211.7L171.1 212.9L171.4 212.9L171.7 214.3L172.1 214.9L172.4 216L172.7 216.4L173.1 216.2L173.4 216.5L173.7 217.6L174.1 219.5L174.4 220.4L174.7 221.8L175.1 223.1L175.4 223.5L175.7 225.1L176.1 225.6L176.4 226.8L176.7 227.6L177.1 228.6L177.4 228.9L177.7 229.7L178.1 230.1L178.4 230.4L178.7 230.4L179.1 231.4L179.4 231.4L179.7 232.7L180.1 233L180.4 234.2L180.7 233.8L181 233.6L181.2 234.4L181.4 234.6L181.5 235L181.7 234.5L181.9 234.7L182 234.7L182.2 235.4L182.4 235.5L182.5 236.4L182.7 236.4L182.9 235.8L183 236L183.2 235L183.4 236.1L183.5 235.9L183.7 235.3L183.9 235.6L184 235.4L184.2 235.6L184.4 235.5L184.5 235.1L184.7 235.6L184.9 235.2L185 235.2L185.2 236.5L185.4 235.5L185.5 236.3L185.7 236L185.9 236L186 236L186.2 234.4L186.4 234.4L186.5 234.2L186.7 233.8L186.9 234.5L187 234.8L187.2 236.4L187.4 236L187.5 235.2L187.7 235.1L187.9 235.1L188 237.1L188.2 236.1L188.4 236.3L188.5 237.1L188.7 235.5L188.9 236.9L189 235.6L189.2 236.8L189.4 236.1L189.5 235.9L189.7 235.6L189.9 235.8L190 235.1L190.2 235.2L190.4 235.5L190.5 236L190.7 235.1L190.9 235.9L191 234.9L191.2 234.9L191.4 234.2L191.5 235.6L191.7 235.6L191.9 235.5L192 235.9L192.2 236.2L192.4 236.6L192.5 236.9L192.7 236.4L192.9 236L193 235.8L193.2 236.1L193.4 235.7L193.5 235.5L193.7 236.6L193.9 236.1L194 234.6L194.2 235.8L194.4 235.1L194.5 236.1L194.7 235.7L194.9 235.3L195 235.6L195.2 236.2L195.4 235.8L195.5 235.1L195.7 234.6L195.9 235.4L196 235.9L196.2 237.6L196.4 236L196.5 236.2L196.7 235.2L196.9 235.6L197 237.2L197.2 236.7L197.4 236.9L197.5 237.1L197.7 236.7L197.9 236.1L198 236.8L198.2 236.7L198.4 237.2L198.5 237.1L198.7 236.4L198.9 235.9L199 235.6L199.2 236.3L199.4 236.4L199.5 235.9L199.7 236.7L199.9 236.4L200 237.3L200.2 237.7L200.4 237.6L200.5 237.6L200.7 235.8L200.9 234.8L201 235.9L201.2 235.7L201.4 235.8L201.5 235.6L201.7 234.2" stroke="#00682a" stroke-width="1.48"/>
</g>
<rect x="134.4" y="173.95" width="70.27" height="70.15" fill="none" stroke="#000" stroke-width="0.85"/>
<path d="M134.4 244.1h-3.4M134.4 218.11h-3.4M134.4 192.12h-3.4" stroke="#000" stroke-width="0.85" fill="none"/>
<path d="M134.4 236.28h-1.7M134.4 231.7h-1.7M134.4 228.45h-1.7M134.4 225.93h-1.7M134.4 223.87h-1.7M134.4 222.13h-1.7M134.4 220.63h-1.7M134.4 219.3h-1.7M134.4 210.28h-1.7M134.4 205.71h-1.7M134.4 202.46h-1.7M134.4 199.94h-1.7M134.4 197.88h-1.7M134.4 196.14h-1.7M134.4 194.64h-1.7M134.4 193.31h-1.7M134.4 184.29h-1.7M134.4 179.72h-1.7M134.4 176.47h-1.7" stroke="#000" stroke-width="0.6" fill="none"/>
<path d="M169.32 244.1v3.4" stroke="#000" stroke-width="0.85" fill="none"/>
<text x="254.39" y="212.62" font-size="8.5" letter-spacing="0.4" text-anchor="middle" fill="#000">NA</text>
<rect x="218.9" y="173.95" width="70.49" height="70.15" fill="none" stroke="#000" stroke-width="0.85"/>
<path d="M218.9 244.1h-3.4M218.9 218.11h-3.4M218.9 192.12h-3.4" stroke="#000" stroke-width="0.85" fill="none"/>
<path d="M218.9 236.28h-1.7M218.9 231.7h-1.7M218.9 228.45h-1.7M218.9 225.93h-1.7M218.9 223.87h-1.7M218.9 222.13h-1.7M218.9 220.63h-1.7M218.9 219.3h-1.7M218.9 210.28h-1.7M218.9 205.71h-1.7M218.9 202.46h-1.7M218.9 199.94h-1.7M218.9 197.88h-1.7M218.9 196.14h-1.7M218.9 194.64h-1.7M218.9 193.31h-1.7M218.9 184.29h-1.7M218.9 179.72h-1.7M218.9 176.47h-1.7" stroke="#000" stroke-width="0.6" fill="none"/>
<path d="M253.93 244.1v3.4" stroke="#000" stroke-width="0.85" fill="none"/>
<g fill="none" stroke-linejoin="round" stroke-linecap="butt">
<path d="M49.7 266.5L50.2 266.5L50.7 266.5L51.2 266.5L51.7 266.5L52.2 266.5L52.7 266.5L53.2 266.5L53.7 266.5L54.2 266.5L54.7 266.5L55.2 266.5L55.7 266.5L56.2 266.5L56.7 266.5L57.2 266.5L57.7 266.5L58.2 266.5L58.7 266.5L59.2 266.5L59.7 266.5L60.2 266.5L60.7 266.5L61.2 266.5L61.7 266.5L62.2 266.5L62.7 266.5L63.2 266.5L63.7 266.5L64.2 266.5L64.7 266.5L65.2 266.5L65.7 266.5L66.2 266.6L66.7 266.6L67.2 266.5L67.7 266.5L68.2 266.6L68.7 266.5L69.2 266.6L69.7 266.7L70.2 266.7L70.7 266.6L71.2 266.6L71.7 266.6L72.2 266.5L72.7 266.5L73.2 266.6L73.7 266.7L74.2 266.9L74.7 267.2L75.2 267.4L75.7 267.8L76.2 268.2L76.7 268.5L77.2 268.8L77.7 269L78.2 269.2L78.7 269.3L79.2 269.7L79.7 269.8L80.2 270.1L80.7 270.2L81.2 270.5L81.7 270.6L82.2 270.8L82.7 271L83.2 271.3L83.7 271.6L84.2 271.8L84.7 272L85.2 272.2L85.7 272.3L86.2 272.3L86.7 272.4L87.2 272.4L87.7 272.5L88.2 272.6L88.7 272.5L89.2 272.5L89.7 272.6L90.2 272.7L90.7 272.8L91.2 272.9L91.7 273.1L92.2 273.1L92.7 273.3L93.2 273.4L93.7 273.5L94.2 273.6L94.7 273.8L95.2 274L95.7 274.2L96.2 274.4L96.7 274.8L97.2 275L97.7 275.6L98.2 276L98.7 276.3L99.2 276.7L99.7 277L100.1 277.4L100.3 277.4L100.5 277.4L100.6 277.5L100.8 277.7L101 277.8L101.1 277.8L101.3 278L101.5 278L101.6 278.2L101.8 278.3L102 278.5L102.1 278.6L102.3 278.6L102.5 278.6L102.6 278.9L102.8 279L103 279.1L103.1 279L103.3 278.9L103.5 278.7L103.6 278.7L103.8 278.8L104 279.1L104.1 279.4L104.3 279.2L104.5 279.3L104.6 279.6L104.8 279.5L105 279.6L105.1 280.3L105.3 279.5L105.5 279.7L105.6 279.3L105.8 278.8L106 279.2L106.1 279.5L106.3 279.4L106.5 279.5L106.6 280.2L106.8 279.6L107 279.6L107.1 279.9L107.3 279.4L107.5 279.7L107.6 279.5L107.8 279.6L108 279.8L108.1 279.3L108.3 279.3L108.5 279.4L108.6 279L108.8 279.4L109 279.6L109.1 279.6L109.3 279.6L109.5 279.5L109.6 279.2L109.8 279.5L110 279.8L110.1 280.3L110.3 280L110.5 279.6L110.6 279.4L110.8 279.5L111 279.8L111.1 279.7L111.3 280.3L111.5 280.7L111.6 280.2L111.8 279.9L112 279.5L112.1 279.1L112.3 278.6L112.5 278.7L112.6 279.3L112.8 279.5L113 280L113.1 279.6L113.3 279.5L113.5 279.6L113.6 279.3L113.8 279L114 279L114.1 279.9L114.3 279.7L114.5 280.2L114.6 280.5L114.8 279.6L115 279.5L115.1 279.8L115.3 279L115.5 278.9L115.6 279L115.8 278.5L116 278.9L116.1 278.9L116.3 279.7L116.5 279.6L116.6 279.7" stroke="#a8dca2" stroke-width="1.32"/>
<path d="M49.7 276.1L50.2 276.1L50.7 276.1L51.2 276.1L51.7 276.1L52.2 276.1L52.7 276.1L53.2 276.1L53.7 276.1L54.2 276.1L54.7 276L55.2 276L55.7 276L56.2 276L56.7 276L57.2 276L57.7 276L58.2 275.9L58.7 275.9L59.2 275.9L59.7 275.9L60.2 275.9L60.7 275.8L61.2 275.8L61.7 275.8L62.2 275.7L62.7 275.6L63.2 275.5L63.7 275.3L64.2 275.1L64.7 274.9L65.2 274.8L65.7 274.6L66.2 274.5L66.7 274.4L67.2 274.5L67.7 274.5L68.2 274.4L68.7 274.4L69.2 274.3L69.7 274.2L70.2 274.2L70.7 274.1L71.2 274.1L71.7 274.1L72.2 274.1L72.7 273.9L73.2 274L73.7 274L74.2 273.9L74.7 274L75.2 274.1L75.7 274.1L76.2 274L76.7 274.1L77.2 274.2L77.7 274.3L78.2 274.2L78.7 274.2L79.2 274.3L79.7 274.3L80.2 274.5L80.7 274.6L81.2 274.7L81.7 275L82.2 275.4L82.7 275.8L83.2 276.3L83.7 276.8L84.2 277.3L84.7 277.7L85.2 278.2L85.7 278.7L86.2 279.4L86.7 280.1L87.2 280.8L87.7 281.6L88.2 282.3L88.7 283.1L89.2 284L89.7 284.9L90.2 286L90.7 287.1L91.2 288.1L91.7 289.2L92.2 290.2L92.7 291.2L93.2 292.1L93.7 293.2L94.2 294.1L94.7 295.1L95.2 296L95.7 296.9L96.2 297.4L96.7 298.1L97.2 298.6L97.7 299.1L98.1 299.4L98.3 299.6L98.4 299.8L98.6 299.9L98.8 300L98.9 300.2L99.1 300.2L99.3 300.2L99.4 300.3L99.6 300.5L99.8 300.6L99.9 300.6L100.1 300.6L100.3 300.6L100.4 300.7L100.6 300.6L100.8 300.8L100.9 300.7L101.1 301L101.3 300.9L101.4 301.2L101.6 301.2L101.8 300.9L101.9 300.5L102.1 300.9L102.3 301.4L102.4 300.4L102.6 300.7L102.8 300.4L102.9 300.2L103.1 301.7L103.3 302.5L103.4 301.7L103.6 301.9L103.8 301.7L103.9 301.5L104.1 301.5L104.3 300.8L104.4 300.8L104.6 301.5L104.8 302L104.9 302.3L105.1 301.9L105.3 301.4L105.4 300.4L105.6 301.3L105.8 301.2L105.9 301.1L106.1 300.6L106.3 301.1L106.4 301.4L106.6 302L106.8 302.4L106.9 301.6L107.1 301.7L107.3 301.1L107.4 302L107.6 301.2L107.8 302.3L107.9 301.5L108.1 301.8L108.3 301.5L108.4 302L108.6 301.4L108.8 301.1L108.9 301.5L109.1 301.2L109.3 302.7L109.4 302.4L109.6 302.8L109.8 303.4L109.9 303L110.1 302.7L110.3 302.7L110.4 303.1L110.6 301.9L110.8 302.1L110.9 302L111.1 301.6L111.3 302.1L111.4 301.8L111.6 301.7L111.8 301.7L111.9 301.8L112.1 302.1L112.3 301.1L112.4 301.1L112.6 301.7L112.8 301.4L112.9 301.5L113.1 302L113.3 301.5L113.4 301.9L113.6 301.8L113.8 301.5L113.9 301.1L114.1 301.1L114.3 301.8L114.4 301.4L114.6 302L114.8 302.5L114.9 302.1L115.1 302.8L115.3 302.3L115.4 301.7L115.6 301.9L115.8 301.9L115.9 301.5L116.1 301.8L116.3 301.2L116.4 300.8L116.6 300.6L116.8 301" stroke="#68be70" stroke-width="1.32"/>
<path d="M49.7 281.5L50.2 281.5L50.7 281.5L51.2 281.4L51.7 281.4L52.2 281.4L52.7 281.4L53.2 281.4L53.7 281.3L54.2 281.3L54.7 281.3L55.2 281.3L55.7 281.3L56.2 281.3L56.7 281.3L57.2 281.3L57.7 281.3L58.2 281.3L58.7 281.3L59.2 281.3L59.7 281.3L60.2 281.3L60.7 281.4L61.2 281.5L61.7 281.7L62.2 281.8L62.7 282L63.2 282.1L63.7 282.2L64.2 282.2L64.7 282.1L65.2 282L65.7 281.7L66.2 281.4L66.7 281.1L67.2 280.7L67.7 280.4L68.2 280.2L68.7 279.9L69.2 279.6L69.7 279.2L70.2 279L70.7 278.6L71.2 278.2L71.7 277.8L72.2 277.5L72.7 277.3L73.2 276.9L73.7 276.8L74.2 276.4L74.7 276.3L75.2 276L75.7 275.8L76.2 275.4L76.7 275.3L77.2 275.1L77.7 274.9L78.2 274.8L78.7 274.8L79.2 274.8L79.7 274.8L80.2 274.9L80.7 274.9L81.2 275L81.7 275.1L82.2 275.4L82.7 275.6L83.2 275.9L83.7 276.2L84.2 276.9L84.7 277.4L85.2 278.1L85.7 278.7L86.2 279.4L86.7 280.1L87.2 280.8L87.7 281.6L88.2 282.4L88.7 283.2L89.2 284.2L89.7 285.1L90.2 286.3L90.7 287.3L91.2 288.5L91.7 289.9L92.2 291.3L92.7 292.8L93.2 294.2L93.7 295.7L94.2 297L94.7 298.6L95.2 300.3L95.7 302L96.2 303.4L96.7 304.5L97.2 305.5L97.7 306.4L98.1 307L98.3 307.3L98.4 307.6L98.6 307.8L98.8 308L98.9 308.2L99.1 308.3L99.3 308.4L99.4 308.6L99.6 308.6L99.8 308.6L99.9 308.8L100.1 308.8L100.3 308.8L100.4 308.8L100.6 308.9L100.8 309.2L100.9 309L101.1 309.2L101.3 309.2L101.4 309.3L101.6 310.1L101.8 309.9L101.9 309.8L102.1 309.8L102.3 309.2L102.4 309.7L102.6 309L102.8 309.4L102.9 309.4L103.1 310.1L103.3 309.7L103.4 309.7L103.6 309.5L103.8 309.7L103.9 309.3L104.1 309L104.3 309L104.4 308.7L104.6 308.1L104.8 308.8L104.9 309.9L105.1 309.2L105.3 310.5L105.4 309.9L105.6 309.4L105.8 309L105.9 309.4L106.1 308.8L106.3 308.4L106.4 308.2L106.6 308.7L106.8 308.7L106.9 309L107.1 309.2L107.3 310.3L107.4 309.8L107.6 309.5L107.8 309.7L107.9 309.1L108.1 309.3L108.3 309.1L108.4 309.2L108.6 309.1L108.8 310.3L108.9 310.4L109.1 310.2L109.3 310.2L109.4 310.2L109.6 309.4L109.8 310L109.9 309.5L110.1 310.1L110.3 309.7L110.4 309.6L110.6 309.1L110.8 308.2L110.9 307.7L111.1 308.7L111.3 308.4L111.4 308.3L111.6 309.3L111.8 310L111.9 308.6L112.1 309.3L112.3 309L112.4 309.8L112.6 310.9L112.8 309.9L112.9 310.3L113.1 310.2L113.3 309L113.4 309.3L113.6 309.8L113.8 309.6L113.9 310.3L114.1 310.4L114.3 310.1L114.4 309.6L114.6 309.3L114.8 308.8L114.9 309L115.1 309.9L115.3 309.9L115.4 309.9L115.6 309.5L115.8 309.2L115.9 309.4L116.1 310.3L116.3 309.6L116.4 310.3L116.6 309.7L116.8 308.9" stroke="#2b934b" stroke-width="1.4"/>
<path d="M49.7 285.6L50.2 285.6L50.7 285.6L51.2 285.6L51.7 285.7L52.2 285.7L52.7 285.7L53.2 285.7L53.7 285.7L54.2 285.7L54.7 285.8L55.2 285.8L55.7 285.8L56.2 285.8L56.7 285.9L57.2 285.9L57.7 286L58.2 286.2L58.7 286.4L59.2 286.7L59.7 287L60.2 287.3L60.7 287.5L61.2 287.7L61.7 287.8L62.2 287.9L62.7 287.9L63.2 288L63.7 288.1L64.2 288.1L64.7 288.1L65.2 288L65.7 287.9L66.2 287.6L66.7 287.4L67.2 287L67.7 286.6L68.2 286.2L68.7 285.7L69.2 285.3L69.7 284.7L70.2 284.1L70.7 283.5L71.2 282.8L71.7 282.2L72.2 281.6L72.7 280.9L73.2 280.4L73.7 279.6L74.2 278.9L74.7 278.1L75.2 277.5L75.7 276.8L76.2 276.1L76.7 275.5L77.2 275L77.7 274.5L78.2 273.9L78.7 273.4L79.2 273L79.7 272.7L80.2 272.4L80.7 272.1L81.2 271.9L81.7 271.8L82.2 271.7L82.7 271.6L83.2 271.8L83.7 272.1L84.2 272.4L84.7 272.9L85.2 273.4L85.7 274.1L86.2 275L86.7 276L87.2 277.1L87.7 278.4L88.2 279.6L88.7 281L89.2 282.5L89.7 284.1L90.2 285.9L90.7 287.6L91.2 289.5L91.7 291.3L92.2 293.2L92.7 295.2L93.2 297.2L93.7 299.4L94.2 301.3L94.7 303.5L95.2 305.5L95.7 307.7L96.2 309.7L96.7 311.6L97.2 313.1L97.7 314L98.1 314.8L98.3 315L98.4 315.2L98.6 315.4L98.8 315.6L98.9 315.9L99.1 316L99.3 316.2L99.4 316.4L99.6 316.5L99.8 316.5L99.9 316.6L100.1 316.7L100.3 316.8L100.4 316.7L100.6 316.6L100.8 316.7L100.9 316.8L101.1 316.7L101.3 317L101.4 317L101.6 317.3L101.8 317.2L101.9 316.8L102.1 317.2L102.3 316.9L102.4 316.7L102.6 317.3L102.8 316.9L102.9 316.7L103.1 317L103.3 317.1L103.4 316L103.6 316.3L103.8 316.5L103.9 317.4L104.1 317.5L104.3 317.7L104.4 318.2L104.6 318.1L104.8 317.7L104.9 317.8L105.1 317.6L105.3 317.6L105.4 316.7L105.6 316.1L105.8 316.5L105.9 317.6L106.1 317.5L106.3 317.6L106.4 317.4L106.6 317.3L106.8 316.8L106.9 317L107.1 317.3L107.3 317.4L107.4 317.1L107.6 317.4L107.8 317L107.9 316.6L108.1 316.7L108.3 316.8L108.4 316.5L108.6 316.8L108.8 316.6L108.9 316.8L109.1 317.6L109.3 317.1L109.4 316.7L109.6 316.6L109.8 316.5L109.9 316.6L110.1 317.4L110.3 317.1L110.4 317.1L110.6 317.6L110.8 317.1L110.9 317.9L111.1 317.6L111.3 317.3L111.4 317.5L111.6 317.4L111.8 316.9L111.9 316.7L112.1 317.1L112.3 317.5L112.4 317.6L112.6 317.6L112.8 317.9L112.9 317.2L113.1 316.9L113.3 316.4L113.4 315.8L113.6 315.5L113.8 316.2L113.9 316.5L114.1 316.5L114.3 317.4L114.4 317.4L114.6 316.9L114.8 316.9L114.9 317L115.1 316.8L115.3 317L115.4 317L115.6 317.3L115.8 317.4L115.9 317.3L116.1 317.7L116.3 317.9L116.4 317.6L116.6 317.2L116.8 317.3" stroke="#00682a" stroke-width="1.48"/>
</g>
<rect x="49.5" y="258" width="70.45" height="70.26" fill="none" stroke="#000" stroke-width="0.85"/>
<path d="M49.5 328.26h-3.4M49.5 302.23h-3.4M49.5 276.2h-3.4" stroke="#000" stroke-width="0.85" fill="none"/>
<path d="M49.5 320.42h-1.7M49.5 315.84h-1.7M49.5 312.59h-1.7M49.5 310.06h-1.7M49.5 308h-1.7M49.5 306.26h-1.7M49.5 304.75h-1.7M49.5 303.42h-1.7M49.5 294.39h-1.7M49.5 289.81h-1.7M49.5 286.55h-1.7M49.5 284.03h-1.7M49.5 281.97h-1.7M49.5 280.23h-1.7M49.5 278.72h-1.7M49.5 277.39h-1.7M49.5 268.36h-1.7M49.5 263.78h-1.7M49.5 260.52h-1.7" stroke="#000" stroke-width="0.6" fill="none"/>
<path d="M84.51 328.26v3.4" stroke="#000" stroke-width="0.85" fill="none"/>
<text x="44.6" y="331.76" font-size="9.1" text-anchor="end" fill="#000">10<tspan dy="-3.4" font-size="6.4" stroke-width="0.15">−3</tspan></text>
<text x="44.6" y="305.73" font-size="9.1" text-anchor="end" fill="#000">10<tspan dy="-3.4" font-size="6.4" stroke-width="0.15">−2</tspan></text>
<text x="44.6" y="279.7" font-size="9.1" text-anchor="end" fill="#000">10<tspan dy="-3.4" font-size="6.4" stroke-width="0.15">−1</tspan></text>
<text transform="translate(17.7 293.53) rotate(-90)" font-size="10.5" text-anchor="middle" fill="#000">Xavier</text>
<g fill="none" stroke-linejoin="round" stroke-linecap="butt">
<path d="M134.4 267L134.9 267L135.4 267L135.9 267L136.4 267L136.9 267L137.4 267L137.9 267L138.4 267L138.9 267L139.4 267L139.9 267L140.4 267L140.9 267L141.4 267L141.9 267L142.4 267L142.9 267L143.4 267L143.9 267L144.4 267L144.9 267L145.4 267L145.9 267L146.4 267L146.9 266.9L147.4 267L147.9 267L148.4 267L148.9 267L149.4 267L149.9 266.9L150.4 266.9L150.9 266.9L151.4 267L151.9 267L152.4 267L152.9 266.9L153.4 267L153.9 267L154.4 267.1L154.9 267L155.4 267L155.9 266.9L156.4 267L156.9 266.9L157.4 266.9L157.9 266.9L158.4 267.1L158.9 267.1L159.4 267.2L159.9 267.3L160.4 267.6L160.9 267.8L161.4 268.1L161.9 268.4L162.4 268.6L162.9 268.7L163.4 268.9L163.9 269.1L164.4 269.4L164.9 269.6L165.4 269.9L165.9 270L166.4 270.2L166.9 270.4L167.4 270.4L167.9 270.3L168.4 270.3L168.9 270.1L169.4 270L169.9 269.9L170.4 269.8L170.9 269.6L171.4 269.6L171.9 269.6L172.4 269.6L172.9 270L173.4 270.2L173.9 270.7L174.4 271L174.9 271.3L175.4 271.6L175.9 271.9L176.4 272.1L176.9 272.4L177.4 272.6L177.9 273L178.4 273.4L178.9 273.6L179.4 273.9L179.9 274.2L180.4 274.6L180.9 274.7L181.4 275.1L181.9 275.3L182.4 275.8L182.9 276.1L183.4 276.4L183.9 276.7L184.4 277L184.9 277.3L185.4 277.5L185.8 277.8L186 278L186.2 278.1L186.3 278.3L186.5 278.4L186.7 278.6L186.8 278.8L187 279L187.2 279L187.3 279.2L187.5 279.2L187.7 279.3L187.8 279.4L188 279.4L188.2 279.5L188.3 279.6L188.5 279.5L188.7 279.6L188.8 279.6L189 279.6L189.2 279.7L189.3 279.8L189.5 279.6L189.7 279.4L189.8 279.2L190 279.8L190.2 278.9L190.3 279.2L190.5 279.1L190.7 279.2L190.8 279.3L191 279.3L191.2 278.8L191.3 278.5L191.5 278.7L191.7 278.8L191.8 279.2L192 279.3L192.2 278.7L192.3 279.3L192.5 279L192.7 278.7L192.8 278.6L193 279.2L193.2 279.7L193.3 279.4L193.5 279.2L193.7 279.3L193.8 279.1L194 279L194.2 279L194.3 279.1L194.5 278.9L194.7 278.9L194.8 278.8L195 279.3L195.2 279L195.3 278.9L195.5 279.1L195.7 279.4L195.8 279.2L196 278.6L196.2 278.9L196.3 278.7L196.5 278.9L196.7 278.3L196.8 277.6L197 277.7L197.2 278.2L197.3 279L197.5 279.4L197.7 279.1L197.8 279.1L198 278.8L198.2 278.7L198.3 279.2L198.5 279.1L198.7 278.9L198.8 279.3L199 278.4L199.2 278.3L199.3 278.7L199.5 278.8L199.7 279.1L199.8 279.6L200 279.2L200.2 279.6L200.3 280.1L200.5 279.3L200.7 279.9L200.8 279.8L201 279.5L201.2 279.7L201.3 279.2L201.5 278.7L201.7 279" stroke="#a8dca2" stroke-width="1.32"/>
<path d="M134.4 278.5L134.9 278.5L135.4 278.5L135.9 278.5L136.4 278.5L136.9 278.5L137.4 278.5L137.9 278.5L138.4 278.5L138.9 278.5L139.4 278.5L139.9 278.5L140.4 278.5L140.9 278.5L141.4 278.5L141.9 278.5L142.4 278.5L142.9 278.5L143.4 278.5L143.9 278.5L144.4 278.5L144.9 278.5L145.4 278.5L145.9 278.5L146.4 278.4L146.9 278.4L147.4 278.3L147.9 278.2L148.4 278.1L148.9 278L149.4 277.9L149.9 277.8L150.4 277.6L150.9 277.6L151.4 277.5L151.9 277.4L152.4 277.4L152.9 277.4L153.4 277.3L153.9 277.2L154.4 277.1L154.9 277.1L155.4 277L155.9 277L156.4 277L156.9 277L157.4 276.9L157.9 276.9L158.4 276.8L158.9 276.8L159.4 276.6L159.9 276.7L160.4 276.4L160.9 276.5L161.4 276.3L161.9 276.3L162.4 276.3L162.9 276.2L163.4 276.1L163.9 276.1L164.4 276.1L164.9 276.1L165.4 276.1L165.9 276.2L166.4 276.4L166.9 276.6L167.4 277L167.9 277.5L168.4 278L168.9 278.3L169.4 278.8L169.9 279.3L170.4 279.9L170.9 280.6L171.4 281.3L171.9 282.1L172.4 282.8L172.9 283.7L173.4 284.5L173.9 285.4L174.4 286.3L174.9 287.2L175.4 288.2L175.9 289.1L176.4 290.1L176.9 291L177.4 292L177.9 292.9L178.4 294L178.9 295L179.4 295.9L179.9 296.9L180.4 297.7L180.9 298.5L181.4 299L181.9 299.6L182.4 300.2L182.9 300.6L183.1 300.8L183.3 300.9L183.4 300.9L183.6 301.1L183.8 301.2L183.9 301.2L184.1 301.3L184.3 301.4L184.4 301.3L184.6 301.3L184.8 301.3L184.9 301.4L185.1 301.3L185.3 301.2L185.4 301.2L185.6 301.1L185.8 301L185.9 300.8L186.1 301.3L186.3 301.3L186.4 301.4L186.6 301.6L186.8 301.3L186.9 300.7L187.1 300.9L187.3 299.8L187.4 301.1L187.6 301.3L187.8 301L187.9 300.7L188.1 299.8L188.3 299.7L188.4 298.7L188.6 298.8L188.8 300.4L188.9 299.7L189.1 299.9L189.3 299.3L189.4 299.4L189.6 299.7L189.8 300L189.9 301.9L190.1 302.1L190.3 301.6L190.4 301.3L190.6 301L190.8 300.9L190.9 300.3L191.1 300.3L191.3 300.1L191.4 300.8L191.6 301.5L191.8 299.3L191.9 300.2L192.1 301.6L192.3 302.1L192.4 302.7L192.6 302L192.8 301L192.9 301.5L193.1 302L193.3 301.6L193.4 301.4L193.6 301.4L193.8 300.9L193.9 301L194.1 301.4L194.3 300.8L194.4 301.3L194.6 300.9L194.8 301.5L194.9 301.5L195.1 301.2L195.3 300.7L195.4 300.5L195.6 300.6L195.8 300.8L195.9 301.2L196.1 301.9L196.3 301.8L196.4 301.4L196.6 301.7L196.8 301.8L196.9 301.9L197.1 302.9L197.3 302.1L197.4 302.3L197.6 302.7L197.8 302.1L197.9 303L198.1 302.6L198.3 303.1L198.4 301.7L198.6 302.4L198.8 300.8L198.9 300.9L199.1 300.5L199.3 300.1L199.4 300.5L199.6 301.2L199.8 301.8L199.9 302.3L200.1 301.3L200.3 301.9L200.4 301.6L200.6 302.6L200.8 303.2L200.9 302.8L201.1 301.8L201.3 301.4L201.4 301.3L201.6 301.3L201.8 301.1" stroke="#68be70" stroke-width="1.32"/>
<path d="M134.4 281.5L134.9 281.5L135.4 281.5L135.9 281.5L136.4 281.5L136.9 281.5L137.4 281.5L137.9 281.5L138.4 281.5L138.9 281.5L139.4 281.5L139.9 281.5L140.4 281.5L140.9 281.5L141.4 281.5L141.9 281.5L142.4 281.5L142.9 281.5L143.4 281.5L143.9 281.6L144.4 281.7L144.9 281.8L145.4 281.9L145.9 282.1L146.4 282.2L146.9 282.2L147.4 282.2L147.9 282.1L148.4 282L148.9 281.9L149.4 281.7L149.9 281.5L150.4 281.3L150.9 281.1L151.4 281L151.9 280.9L152.4 280.8L152.9 280.6L153.4 280.4L153.9 280.3L154.4 280.2L154.9 280.1L155.4 280L155.9 279.9L156.4 279.8L156.9 279.7L157.4 279.5L157.9 279.4L158.4 279.1L158.9 278.8L159.4 278.6L159.9 278.4L160.4 278.2L160.9 278.1L161.4 277.9L161.9 277.6L162.4 277.5L162.9 277.4L163.4 277.4L163.9 277.3L164.4 277.3L164.9 277.1L165.4 277.2L165.9 277.2L166.4 277.3L166.9 277.4L167.4 277.7L167.9 278L168.4 278.4L168.9 279L169.4 279.5L169.9 280L170.4 280.5L170.9 281.2L171.4 282L171.9 282.8L172.4 283.6L172.9 284.4L173.4 285.3L173.9 286.3L174.4 287.4L174.9 288.4L175.4 289.6L175.9 290.8L176.4 292L176.9 293.3L177.4 294.6L177.9 296L178.4 297.5L178.9 299L179.4 300.5L179.9 301.9L180.4 303.3L180.9 304.5L181.4 305.5L181.9 306.4L182.4 307.3L182.6 307.6L182.7 307.8L182.9 308.1L183.1 308.3L183.2 308.5L183.4 308.6L183.6 308.8L183.7 308.8L183.9 308.9L184.1 308.9L184.2 308.9L184.4 309L184.6 309L184.7 309.1L184.9 308.9L185.1 308.9L185.2 309.3L185.4 309.2L185.6 309.5L185.7 309.3L185.9 309.1L186.1 309L186.2 309.3L186.4 309.3L186.6 309.7L186.7 309L186.9 308.4L187.1 308.8L187.2 310.3L187.4 311.2L187.6 310.8L187.7 310.4L187.9 309.5L188.1 309.5L188.2 309.5L188.4 309.6L188.6 309.5L188.7 310.3L188.9 310.3L189.1 310.3L189.2 310.2L189.4 308.6L189.6 309.6L189.7 309.2L189.9 309.8L190.1 310.4L190.2 310.2L190.4 311.4L190.6 311.3L190.7 311.3L190.9 309.4L191.1 309.5L191.2 308.7L191.4 308.9L191.6 310.1L191.7 309.7L191.9 309.6L192.1 309.9L192.2 309.7L192.4 308.5L192.6 308.7L192.7 308.9L192.9 308.1L193.1 310.1L193.2 309.9L193.4 310L193.6 309.7L193.7 309L193.9 309.5L194.1 308.8L194.2 309.5L194.4 309.9L194.6 309L194.7 309.5L194.9 309.4L195.1 310.6L195.2 310.8L195.4 309.3L195.6 309.4L195.7 310.6L195.9 310.1L196.1 310.4L196.2 309.9L196.4 309.6L196.6 310.2L196.7 310.5L196.9 309.5L197.1 311.2L197.2 310.2L197.4 309.6L197.6 309.9L197.7 309.2L197.9 309.8L198.1 310.3L198.2 310.2L198.4 309.8L198.6 309.9L198.7 309.4L198.9 309.5L199.1 309.5L199.2 309.8L199.4 310.7L199.6 310.3L199.7 311L199.9 310.2L200.1 310.3L200.2 309.1L200.4 308L200.6 308.9L200.7 309.8L200.9 309.3L201.1 310.2L201.2 309.4L201.4 308.2L201.6 309.2L201.7 308.7" stroke="#2b934b" stroke-width="1.4"/>
<path d="M134.4 286.3L134.9 286.3L135.4 286.4L135.9 286.4L136.4 286.5L136.9 286.5L137.4 286.6L137.9 286.7L138.4 286.8L138.9 286.9L139.4 287L139.9 287.1L140.4 287.3L140.9 287.6L141.4 287.9L141.9 288.2L142.4 288.5L142.9 288.8L143.4 289.1L143.9 289.3L144.4 289.4L144.9 289.5L145.4 289.4L145.9 289.4L146.4 289.3L146.9 289.2L147.4 289.1L147.9 289L148.4 288.8L148.9 288.6L149.4 288.5L149.9 288.3L150.4 288.1L150.9 287.9L151.4 287.6L151.9 287.2L152.4 286.8L152.9 286.4L153.4 286L153.9 285.5L154.4 285L154.9 284.5L155.4 283.8L155.9 283.2L156.4 282.5L156.9 281.8L157.4 281L157.9 280.3L158.4 279.6L158.9 279L159.4 278.4L159.9 277.7L160.4 277.1L160.9 276.5L161.4 275.9L161.9 275.5L162.4 275L162.9 274.6L163.4 274.1L163.9 273.7L164.4 273.3L164.9 272.9L165.4 272.6L165.9 272.4L166.4 272.2L166.9 272.2L167.4 272.3L167.9 272.5L168.4 272.7L168.9 272.8L169.4 273.1L169.9 273.4L170.4 274.1L170.9 274.9L171.4 275.8L171.9 276.9L172.4 277.9L172.9 279.2L173.4 280.6L173.9 282.1L174.4 283.8L174.9 285.5L175.4 287L175.9 288.8L176.4 290.8L176.9 292.9L177.4 295.1L177.9 297.3L178.4 299.5L178.9 301.7L179.4 303.7L179.9 306.1L180.4 308.4L180.9 310.4L181.4 312L181.9 313.3L182.4 314.4L182.6 314.7L182.7 315.1L182.9 315.3L183.1 315.6L183.2 315.9L183.4 316.1L183.6 316.2L183.7 316.5L183.9 316.6L184.1 316.8L184.2 316.9L184.4 317L184.6 317.2L184.7 317.1L184.9 317.2L185.1 317.1L185.2 317.3L185.4 317.3L185.6 317.5L185.7 317.8L185.9 317.8L186.1 317.7L186.2 318.2L186.4 317.9L186.6 317.5L186.7 317.5L186.9 316.9L187.1 316.8L187.2 317.8L187.4 317.6L187.6 318L187.7 318.2L187.9 318L188.1 318L188.2 317.1L188.4 318L188.6 318.5L188.7 318.1L188.9 317.4L189.1 317.8L189.2 317.8L189.4 316.9L189.6 317.9L189.7 317.4L189.9 318.9L190.1 318.8L190.2 318.2L190.4 318.3L190.6 317.9L190.7 317.2L190.9 317.5L191.1 317.4L191.2 316.7L191.4 317.4L191.6 316.9L191.7 318L191.9 318.4L192.1 319.2L192.2 318.3L192.4 318.1L192.6 317.7L192.7 318.1L192.9 318.3L193.1 316.8L193.2 317.1L193.4 316.5L193.6 316.8L193.7 316.8L193.9 317.1L194.1 317.5L194.2 316.4L194.4 317.5L194.6 316.7L194.7 317L194.9 317.9L195.1 318.5L195.2 318.2L195.4 318.1L195.6 317.9L195.7 318.1L195.9 317.1L196.1 316.8L196.2 316.2L196.4 316.7L196.6 316.7L196.7 318.1L196.9 318.1L197.1 318.1L197.2 318.1L197.4 318.2L197.6 317.8L197.7 318L197.9 318.8L198.1 318.6L198.2 317.8L198.4 317.5L198.6 317.6L198.7 317.8L198.9 317.8L199.1 317.4L199.2 318.1L199.4 316.8L199.6 317.6L199.7 317.4L199.9 316.7L200.1 316.6L200.2 316.2L200.4 315.3L200.6 316.6L200.7 317.3L200.9 317L201.1 318.1L201.2 317.6L201.4 317.7L201.6 318.4L201.7 318.2" stroke="#00682a" stroke-width="1.48"/>
</g>
<rect x="134.4" y="258" width="70.27" height="70.26" fill="none" stroke="#000" stroke-width="0.85"/>
<path d="M134.4 328.26h-3.4M134.4 302.23h-3.4M134.4 276.2h-3.4" stroke="#000" stroke-width="0.85" fill="none"/>
<path d="M134.4 320.42h-1.7M134.4 315.84h-1.7M134.4 312.59h-1.7M134.4 310.06h-1.7M134.4 308h-1.7M134.4 306.26h-1.7M134.4 304.75h-1.7M134.4 303.42h-1.7M134.4 294.39h-1.7M134.4 289.81h-1.7M134.4 286.55h-1.7M134.4 284.03h-1.7M134.4 281.97h-1.7M134.4 280.23h-1.7M134.4 278.72h-1.7M134.4 277.39h-1.7M134.4 268.36h-1.7M134.4 263.78h-1.7M134.4 260.52h-1.7" stroke="#000" stroke-width="0.6" fill="none"/>
<path d="M169.32 328.26v3.4" stroke="#000" stroke-width="0.85" fill="none"/>
<g fill="none" stroke-linejoin="round" stroke-linecap="butt">
<path d="M219 268.6L219.5 268.6L220 268.6L220.5 268.6L221 268.6L221.5 268.6L222 268.6L222.5 268.6L223 268.6L223.5 268.6L224 268.6L224.5 268.6L225 268.6L225.5 268.6L226 268.6L226.5 268.6L227 268.6L227.5 268.6L228 268.6L228.5 268.6L229 268.6L229.5 268.6L230 268.6L230.5 268.6L231 268.6L231.5 268.6L232 268.6L232.5 268.6L233 268.6L233.5 268.6L234 268.6L234.5 268.6L235 268.6L235.5 268.5L236 268.6L236.5 268.6L237 268.5L237.5 268.6L238 268.5L238.5 268.6L239 268.6L239.5 268.6L240 268.6L240.5 268.6L241 268.5L241.5 268.6L242 268.6L242.5 268.5L243 268.7L243.5 268.6L244 268.7L244.5 268.8L245 269L245.5 269.2L246 269.3L246.5 269.4L247 269.6L247.5 269.8L248 269.9L248.5 270.1L249 270.3L249.5 270.4L250 270.6L250.5 270.7L251 271L251.5 271L252 271.3L252.5 271.5L253 271.7L253.5 271.8L254 271.8L254.5 272L255 272.1L255.5 272.2L256 272.3L256.5 272.3L257 272.5L257.5 272.6L258 272.9L258.5 273.1L259 273.4L259.5 273.8L260 274.1L260.5 274.6L261 275L261.5 275.3L262 275.7L262.5 276L263 276.3L263.5 276.6L264 277L264.5 277.3L265 277.7L265.5 278L266 278.3L266.5 278.6L267 278.9L267.5 279.3L268 279.6L268.5 279.9L269 280.3L269.5 280.6L269.8 280.9L270 280.9L270.2 281.2L270.3 281.3L270.5 281.5L270.7 281.6L270.8 281.7L271 281.9L271.2 282.1L271.3 282.3L271.5 282.4L271.7 282.5L271.8 282.6L272 282.8L272.2 282.9L272.3 283L272.5 282.9L272.7 282.8L272.8 282.6L273 282.5L273.2 282.4L273.3 282.7L273.5 282.9L273.7 282.9L273.8 283.1L274 283L274.2 282.5L274.3 283.1L274.5 282.9L274.7 283.5L274.8 283.9L275 283L275.2 282.7L275.3 282.1L275.5 282.4L275.7 282.8L275.8 282.7L276 282.2L276.2 282.1L276.3 282L276.5 281.8L276.7 282.7L276.8 282.4L277 282.2L277.2 282.5L277.3 282.1L277.5 282.6L277.7 282.8L277.8 282.6L278 282.4L278.2 282.4L278.3 283.2L278.5 282.1L278.7 282.1L278.8 282.7L279 282.6L279.2 283.2L279.3 283.1L279.5 282.6L279.7 282.9L279.8 283.4L280 283.3L280.2 283.5L280.3 283L280.5 282.7L280.7 281.6L280.8 282L281 282.3L281.2 282.7L281.3 282.9L281.5 283.1L281.7 283L281.8 283.2L282 283.2L282.2 283L282.3 282.8L282.5 282.8L282.7 283.8L282.8 282.7L283 283.5L283.2 282.7L283.3 282.5L283.5 283.5L283.7 283.2L283.8 282.2L284 282L284.2 281.5L284.3 281.2L284.5 281.4L284.7 282.2L284.8 281.8L285 281.9L285.2 283L285.3 282.7L285.5 283.4L285.7 283.8L285.8 283.4L286 283.4L286.2 283.5" stroke="#a8dca2" stroke-width="1.32"/>
<path d="M219 277.7L219.5 277.7L220 277.7L220.5 277.7L221 277.7L221.5 277.7L222 277.7L222.5 277.7L223 277.7L223.5 277.7L224 277.7L224.5 277.7L225 277.7L225.5 277.7L226 277.7L226.5 277.7L227 277.7L227.5 277.7L228 277.7L228.5 277.7L229 277.7L229.5 277.7L230 277.7L230.5 277.7L231 277.7L231.5 277.6L232 277.5L232.5 277.3L233 277.2L233.5 277L234 276.8L234.5 276.6L235 276.5L235.5 276.4L236 276.3L236.5 276.3L237 276.2L237.5 276.1L238 276.1L238.5 276.1L239 276.1L239.5 276L240 276L240.5 275.9L241 275.9L241.5 275.9L242 275.8L242.5 275.8L243 275.8L243.5 275.8L244 275.7L244.5 275.6L245 275.7L245.5 275.6L246 275.5L246.5 275.6L247 275.4L247.5 275.4L248 275.5L248.5 275.4L249 275.4L249.5 275.3L250 275.4L250.5 275.5L251 275.8L251.5 276L252 276.3L252.5 276.7L253 277L253.5 277.4L254 277.9L254.5 278.5L255 279L255.5 279.6L256 280.3L256.5 281.1L257 281.9L257.5 282.8L258 283.6L258.5 284.5L259 285.5L259.5 286.6L260 287.7L260.5 288.6L261 289.7L261.5 290.7L262 291.7L262.5 292.7L263 293.8L263.5 294.8L264 295.7L264.5 296.6L265 297.5L265.5 298.3L266 298.9L266.5 299.5L267 300.1L267.5 300.7L267.8 301L267.9 301.2L268.1 301.2L268.3 301.5L268.4 301.6L268.6 301.6L268.8 301.6L268.9 301.7L269.1 301.7L269.3 301.8L269.4 301.7L269.6 301.7L269.8 301.8L269.9 301.8L270.1 302L270.3 302L270.4 302L270.6 301.7L270.8 301.5L270.9 301.4L271.1 300.8L271.3 301.4L271.4 301.4L271.6 301.3L271.8 300.9L271.9 301.3L272.1 301L272.3 301.3L272.4 300.5L272.6 301.2L272.8 300.4L272.9 302.3L273.1 302.5L273.3 302.5L273.4 302.6L273.6 302.1L273.8 302.8L273.9 301.7L274.1 302.5L274.3 302.6L274.4 303.7L274.6 303.7L274.8 304.4L274.9 304.1L275.1 302.6L275.3 303.2L275.4 303.3L275.6 303L275.8 302.6L275.9 301.6L276.1 302.6L276.3 303.7L276.4 302.2L276.6 302.8L276.8 302.9L276.9 303.1L277.1 304.2L277.3 304.7L277.4 304.3L277.6 305L277.8 304.7L277.9 304.5L278.1 305.4L278.3 305.2L278.4 303.6L278.6 303.9L278.8 302.3L278.9 302.4L279.1 303L279.3 303.8L279.4 303.3L279.6 303.3L279.8 303.2L279.9 302.2L280.1 302.8L280.3 302.7L280.4 303L280.6 302.6L280.8 303.2L280.9 303.2L281.1 302.4L281.3 301.9L281.4 300.7L281.6 300.8L281.8 303.4L281.9 302.7L282.1 303.6L282.3 303.3L282.4 302.4L282.6 301.9L282.8 302.8L282.9 303.9L283.1 303.2L283.3 302.8L283.4 301.9L283.6 301.7L283.8 301.6L283.9 302.4L284.1 302L284.3 302.2L284.4 302.4L284.6 301L284.8 301.1L284.9 302.2L285.1 302.5L285.3 302.2L285.4 303.9L285.6 303.7L285.8 304.3L285.9 303.6L286.1 304" stroke="#68be70" stroke-width="1.32"/>
<path d="M219 282.2L219.5 282.2L220 282.2L220.5 282.2L221 282.2L221.5 282.2L222 282.2L222.5 282.2L223 282.2L223.5 282.2L224 282.2L224.5 282.2L225 282.2L225.5 282.2L226 282.2L226.5 282.2L227 282.3L227.5 282.4L228 282.5L228.5 282.7L229 282.8L229.5 283L230 283.1L230.5 283.2L231 283.2L231.5 283.2L232 283.1L232.5 283L233 282.8L233.5 282.6L234 282.5L234.5 282.3L235 282.1L235.5 281.9L236 281.7L236.5 281.6L237 281.3L237.5 281.1L238 280.8L238.5 280.7L239 280.5L239.5 280.4L240 280.1L240.5 279.9L241 279.6L241.5 279.4L242 279.1L242.5 278.8L243 278.5L243.5 278.2L244 278L244.5 277.7L245 277.5L245.5 277.2L246 277L246.5 276.9L247 276.8L247.5 276.5L248 276.4L248.5 276.4L249 276.2L249.5 276L250 276L250.5 276L251 276L251.5 276.2L252 276.6L252.5 277L253 277.5L253.5 278.1L254 278.6L254.5 279.3L255 279.9L255.5 280.5L256 281.2L256.5 282.1L257 283.2L257.5 284.1L258 285.1L258.5 286.1L259 287.3L259.5 288.5L260 289.9L260.5 291.3L261 292.7L261.5 294.1L262 295.5L262.5 297L263 298.4L263.5 300.1L264 301.6L264.5 303.1L265 304.4L265.5 305.6L266 306.5L266.5 307.2L267 308L267.5 308.6L267.5 308.6L267.7 308.9L267.8 309.1L268 309.3L268.2 309.4L268.3 309.6L268.5 309.6L268.7 309.7L268.8 309.8L269 309.9L269.2 309.9L269.3 310L269.5 310L269.7 310L269.8 310L270 310.2L270.2 310.3L270.3 310L270.5 309.8L270.7 309.9L270.8 310.2L271 310.6L271.2 310L271.3 309.6L271.5 310L271.7 309.6L271.8 310.5L272 310.4L272.2 311.5L272.3 310.5L272.5 311.6L272.7 310.7L272.8 310.4L273 311.4L273.2 311.3L273.3 311.7L273.5 311.5L273.7 310.5L273.8 310.1L274 310.7L274.2 310.5L274.3 311L274.5 310L274.7 309.5L274.8 310.3L275 309.4L275.2 310.1L275.3 310.2L275.5 309.5L275.7 310L275.8 310L276 309.9L276.2 309.7L276.3 310.1L276.5 310.8L276.7 311.2L276.8 310.3L277 309.9L277.2 309.8L277.3 310.1L277.5 309.7L277.7 310L277.8 310.1L278 309.3L278.2 309.7L278.3 310.3L278.5 309.7L278.7 310.8L278.8 309.9L279 308.6L279.2 308.9L279.3 309.9L279.5 309.7L279.7 310.2L279.8 309.6L280 309.2L280.2 309.6L280.3 309.7L280.5 310.5L280.7 310L280.8 309.6L281 309.7L281.2 309.8L281.3 310.6L281.5 310.4L281.7 311.2L281.8 310.7L282 310.8L282.2 311.3L282.3 311.6L282.5 311.2L282.7 310.3L282.8 310.4L283 310L283.2 311.4L283.3 311.4L283.5 311.3L283.7 309.2L283.8 310.5L284 308.8L284.2 309L284.3 310.1L284.5 308.7L284.7 309.3L284.8 310.1L285 310.9L285.2 310.2L285.3 310L285.5 310.3L285.7 309.8L285.8 310.2L286 311.3L286.2 310.7" stroke="#2b934b" stroke-width="1.4"/>
<path d="M219 285.6L219.5 285.6L220 285.7L220.5 285.7L221 285.7L221.5 285.8L222 285.8L222.5 285.9L223 286L223.5 286.1L224 286.2L224.5 286.3L225 286.3L225.5 286.5L226 286.7L226.5 287L227 287.3L227.5 287.6L228 287.9L228.5 288.1L229 288.3L229.5 288.4L230 288.4L230.5 288.3L231 288.3L231.5 288.2L232 288.2L232.5 288.1L233 288L233.5 287.9L234 287.8L234.5 287.7L235 287.5L235.5 287.2L236 286.9L236.5 286.6L237 286.2L237.5 285.8L238 285.4L238.5 285L239 284.6L239.5 284L240 283.4L240.5 282.8L241 282.2L241.5 281.6L242 281L242.5 280.3L243 279.7L243.5 279.1L244 278.5L244.5 277.9L245 277.3L245.5 276.8L246 276.1L246.5 275.6L247 275.1L247.5 274.6L248 274.1L248.5 273.6L249 273L249.5 272.6L250 272.3L250.5 272L251 271.8L251.5 271.8L252 271.9L252.5 271.8L253 271.7L253.5 271.7L254 271.7L254.5 272.1L255 272.9L255.5 273.9L256 274.9L256.5 275.9L257 277.1L257.5 278.4L258 280L258.5 281.7L259 283.4L259.5 285.2L260 287L260.5 289L261 291.2L261.5 293.6L262 295.8L262.5 298.1L263 300.3L263.5 302.8L264 305.2L264.5 307.7L265 310L265.5 312L266 313.4L266.5 314.4L267 315.2L267.5 315.8L267.5 315.9L267.7 316.3L267.8 316.4L268 316.6L268.2 316.8L268.3 316.8L268.5 316.8L268.7 317L268.8 317.2L269 317.3L269.2 317.3L269.3 317.3L269.5 317.3L269.7 317.3L269.8 317.3L270 317.5L270.2 317.5L270.3 317.6L270.5 317.5L270.7 317.5L270.8 317.8L271 317.7L271.2 317.4L271.3 317.6L271.5 317.2L271.7 317.3L271.8 317.9L272 317.6L272.2 317.3L272.3 317.5L272.5 317.7L272.7 318.2L272.8 318.1L273 318L273.2 318.3L273.3 318.1L273.5 317.8L273.7 317.3L273.8 316.9L274 316.7L274.2 316.8L274.3 316.4L274.5 316.9L274.7 316.4L274.8 317.2L275 316.8L275.2 317.1L275.3 317.2L275.5 317.2L275.7 317.2L275.8 317.3L276 318L276.2 317.3L276.3 317.2L276.5 317L276.7 317.2L276.8 317.8L277 317.4L277.2 317.8L277.3 317.3L277.5 317.7L277.7 317.3L277.8 317.3L278 317.7L278.2 317.3L278.3 317.5L278.5 317.2L278.7 317.3L278.8 317.3L279 317.1L279.2 316.8L279.3 317.3L279.5 316.9L279.7 317.4L279.8 317.5L280 317.5L280.2 318L280.3 317.9L280.5 317.9L280.7 317.3L280.8 316.8L281 317L281.2 317L281.3 317.3L281.5 317.3L281.7 317.8L281.8 317.6L282 317.7L282.2 318.3L282.3 317.5L282.5 317.4L282.7 317L282.8 316.5L283 316.8L283.2 316.5L283.3 315.8L283.5 316.8L283.7 316.7L283.8 317.5L284 318.1L284.2 318.5L284.3 318L284.5 317.4L284.7 317.5L284.8 317.6L285 317L285.2 316.9L285.3 316.5L285.5 317L285.7 317.8L285.8 317.5L286 317.4L286.2 317.6" stroke="#00682a" stroke-width="1.48"/>
</g>
<rect x="218.9" y="258" width="70.49" height="70.26" fill="none" stroke="#000" stroke-width="0.85"/>
<path d="M218.9 328.26h-3.4M218.9 302.23h-3.4M218.9 276.2h-3.4" stroke="#000" stroke-width="0.85" fill="none"/>
<path d="M218.9 320.42h-1.7M218.9 315.84h-1.7M218.9 312.59h-1.7M218.9 310.06h-1.7M218.9 308h-1.7M218.9 306.26h-1.7M218.9 304.75h-1.7M218.9 303.42h-1.7M218.9 294.39h-1.7M218.9 289.81h-1.7M218.9 286.55h-1.7M218.9 284.03h-1.7M218.9 281.97h-1.7M218.9 280.23h-1.7M218.9 278.72h-1.7M218.9 277.39h-1.7M218.9 268.36h-1.7M218.9 263.78h-1.7M218.9 260.52h-1.7" stroke="#000" stroke-width="0.6" fill="none"/>
<path d="M253.93 328.26v3.4" stroke="#000" stroke-width="0.85" fill="none"/>
<text x="339.1" y="296.73" font-size="8.5" letter-spacing="0.4" text-anchor="middle" fill="#000">NA</text>
<rect x="303.6" y="258" width="70.5" height="70.26" fill="none" stroke="#000" stroke-width="0.85"/>
<path d="M303.6 328.26h-3.4M303.6 302.23h-3.4M303.6 276.2h-3.4" stroke="#000" stroke-width="0.85" fill="none"/>
<path d="M303.6 320.42h-1.7M303.6 315.84h-1.7M303.6 312.59h-1.7M303.6 310.06h-1.7M303.6 308h-1.7M303.6 306.26h-1.7M303.6 304.75h-1.7M303.6 303.42h-1.7M303.6 294.39h-1.7M303.6 289.81h-1.7M303.6 286.55h-1.7M303.6 284.03h-1.7M303.6 281.97h-1.7M303.6 280.23h-1.7M303.6 278.72h-1.7M303.6 277.39h-1.7M303.6 268.36h-1.7M303.6 263.78h-1.7M303.6 260.52h-1.7" stroke="#000" stroke-width="0.6" fill="none"/>
<path d="M338.64 328.26v3.4" stroke="#000" stroke-width="0.85" fill="none"/>
<g fill="none" stroke-linejoin="round" stroke-linecap="butt">
<path d="M49.7 348.9L50.2 348.9L50.7 348.9L51.2 348.9L51.7 348.9L52.2 348.9L52.7 348.9L53.2 348.9L53.7 348.9L54.2 348.9L54.7 348.9L55.2 348.9L55.7 348.9L56.2 348.9L56.7 348.9L57.2 348.9L57.7 348.9L58.2 348.9L58.7 348.9L59.2 348.9L59.7 348.9L60.2 348.9L60.7 348.9L61.2 348.9L61.7 348.9L62.2 348.9L62.7 348.9L63.2 348.9L63.7 348.9L64.2 348.9L64.7 348.9L65.2 348.9L65.7 349L66.2 348.9L66.7 348.9L67.2 348.9L67.7 348.9L68.2 348.9L68.7 348.8L69.2 348.9L69.7 348.9L70.2 348.9L70.7 348.9L71.2 349L71.7 349L72.2 349L72.7 348.9L73.2 349L73.7 349L74.2 349.2L74.7 349.5L75.2 349.8L75.7 350.1L76.2 350.3L76.7 350.6L77.2 351L77.7 351.3L78.2 351.5L78.7 351.7L79.2 352L79.7 352.3L80.2 352.6L80.7 352.9L81.2 353.3L81.7 353.6L82.2 353.9L82.7 354.2L83.2 354.4L83.7 354.8L84.2 355L84.7 355.3L85.2 355.5L85.7 355.8L86.2 356L86.7 356.4L87.2 356.5L87.7 356.8L88.2 357.1L88.7 357.4L89.2 357.6L89.7 358L90.2 358.3L90.7 358.7L91.2 358.9L91.7 359.2L92.2 359.3L92.7 359.4L93.2 359.5L93.7 359.5L94.2 359.5L94.7 359.6L95.2 359.7L95.7 359.8L96.2 359.8L96.7 359.9L97.2 359.9L97.7 360L98.2 360.3L98.7 360.5L99.2 360.8L99.7 361.1L100.2 361.5L100.7 361.7L101.2 361.9L101.5 362L101.7 362.1L101.8 362.1L102 362.1L102.2 362.2L102.3 362.3L102.5 362.3L102.7 362.4L102.8 362.4L103 362.5L103.2 362.5L103.3 362.6L103.5 362.7L103.7 362.8L103.8 362.7L104 362.8L104.2 362.8L104.3 362.8L104.5 362.9L104.7 362.6L104.8 362.7L105 363L105.2 362.9L105.3 363.2L105.5 363.3L105.7 363.4L105.8 363.2L106 363.2L106.2 362.8L106.3 362.9L106.5 362.8L106.7 362.7L106.8 362.9L107 362.6L107.2 363L107.3 362.4L107.5 362.1L107.7 362.1L107.8 362.6L108 362.9L108.2 363.2L108.3 362.8L108.5 363L108.7 362.8L108.8 362.6L109 362.7L109.2 362.2L109.3 362.4L109.5 362.3L109.7 362.6L109.8 362.5L110 362.6L110.2 362.7L110.3 363L110.5 363.1L110.7 363.1L110.8 362.9L111 362.9L111.2 362.6L111.3 362.6L111.5 362.7L111.7 362.8L111.8 362.3L112 362.6L112.2 362.3L112.3 362.1L112.5 362.4L112.7 362.1L112.8 362.4L113 362.8L113.2 362.7L113.3 362.8L113.5 362.5L113.7 362.8L113.8 362.8L114 362.2L114.2 362.6L114.3 362L114.5 362.4L114.7 362.6L114.8 362.4L115 362.8L115.2 363.5L115.3 363.2L115.5 363.1L115.7 362.9L115.8 362.7L116 362.4L116.2 363.1L116.3 363.2L116.5 363.1L116.7 362.9" stroke="#a8dca2" stroke-width="1.32"/>
<path d="M49.7 359.4L50.2 359.4L50.7 359.4L51.2 359.4L51.7 359.4L52.2 359.4L52.7 359.4L53.2 359.4L53.7 359.4L54.2 359.4L54.7 359.4L55.2 359.4L55.7 359.4L56.2 359.4L56.7 359.4L57.2 359.4L57.7 359.4L58.2 359.4L58.7 359.4L59.2 359.4L59.7 359.4L60.2 359.4L60.7 359.4L61.2 359.4L61.7 359.4L62.2 359.4L62.7 359.4L63.2 359.4L63.7 359.4L64.2 359.4L64.7 359.4L65.2 359.4L65.7 359.4L66.2 359.4L66.7 359.4L67.2 359.5L67.7 359.4L68.2 359.3L68.7 359.3L69.2 359.2L69.7 359.1L70.2 359.1L70.7 359L71.2 358.9L71.7 358.8L72.2 358.7L72.7 358.7L73.2 358.7L73.7 358.7L74.2 358.8L74.7 358.8L75.2 358.7L75.7 358.7L76.2 358.8L76.7 358.9L77.2 358.9L77.7 358.8L78.2 359L78.7 358.9L79.2 359L79.7 359L80.2 359L80.7 359.1L81.2 359.2L81.7 359.5L82.2 359.7L82.7 359.9L83.2 360.4L83.7 360.7L84.2 361.1L84.7 361.4L85.2 361.8L85.7 362.4L86.2 363L86.7 363.6L87.2 364.3L87.7 365L88.2 365.7L88.7 366.5L89.2 367.3L89.7 368.1L90.2 369L90.7 370L91.2 370.9L91.7 371.9L92.2 372.8L92.7 373.8L93.2 374.6L93.7 375.6L94.2 376.5L94.7 377.3L95.2 378.2L95.7 379L96.2 379.8L96.7 380.4L97.2 381.2L97.7 381.7L98.2 382.4L98.7 382.9L98.8 383L98.9 383.2L99.1 383.2L99.3 383.4L99.4 383.5L99.6 383.7L99.8 383.7L99.9 383.9L100.1 384L100.3 384L100.4 384L100.6 384.1L100.8 384.2L100.9 384.3L101.1 384.3L101.3 384.1L101.4 384.2L101.6 384.4L101.8 384.4L101.9 384.9L102.1 384.7L102.3 385.1L102.4 384.5L102.6 385L102.8 385.3L102.9 385.5L103.1 385.2L103.3 385.4L103.4 386.1L103.6 384.8L103.8 384.4L103.9 383.9L104.1 383.9L104.3 384.3L104.4 384.4L104.6 385L104.8 384.7L104.9 384.2L105.1 383.8L105.3 384.6L105.4 384.9L105.6 384.6L105.8 383.8L105.9 383.6L106.1 384.1L106.3 384.2L106.4 384L106.6 384.1L106.8 384.8L106.9 385.2L107.1 384.8L107.3 385.2L107.4 385.2L107.6 385.3L107.8 385L107.9 385.5L108.1 384L108.3 384.6L108.4 384.7L108.6 383.6L108.8 384.9L108.9 384.6L109.1 384.9L109.3 385.2L109.4 384.1L109.6 384.2L109.8 384.8L109.9 385L110.1 384.4L110.3 384.2L110.4 384.1L110.6 383.5L110.8 384.3L110.9 384.4L111.1 383.7L111.3 384.9L111.4 385.2L111.6 384.4L111.8 385L111.9 385.8L112.1 385.2L112.3 384.8L112.4 384.7L112.6 383.7L112.8 384.3L112.9 384L113.1 385L113.3 385.6L113.4 385.6L113.6 385.5L113.8 385.9L113.9 385.1L114.1 385.3L114.3 384.9L114.4 383.6L114.6 384.5L114.8 384.6L114.9 385.9L115.1 385.9L115.3 385.2L115.4 385.5L115.6 384.8L115.8 385L115.9 385.1L116.1 385L116.3 384.6L116.4 385.2L116.6 385L116.8 384.4" stroke="#68be70" stroke-width="1.32"/>
<path d="M49.7 362.5L50.2 362.5L50.7 362.5L51.2 362.4L51.7 362.4L52.2 362.4L52.7 362.3L53.2 362.3L53.7 362.3L54.2 362.3L54.7 362.3L55.2 362.3L55.7 362.3L56.2 362.3L56.7 362.3L57.2 362.3L57.7 362.3L58.2 362.3L58.7 362.4L59.2 362.5L59.7 362.6L60.2 362.7L60.7 362.9L61.2 362.9L61.7 363L62.2 363.1L62.7 363.1L63.2 363.1L63.7 363L64.2 362.9L64.7 362.8L65.2 362.6L65.7 362.5L66.2 362.3L66.7 362.2L67.2 362L67.7 361.8L68.2 361.6L68.7 361.3L69.2 361.3L69.7 361.1L70.2 361L70.7 360.7L71.2 360.3L71.7 360.2L72.2 360L72.7 360L73.2 359.8L73.7 359.6L74.2 359.4L74.7 359.2L75.2 359.1L75.7 358.9L76.2 358.8L76.7 358.6L77.2 358.5L77.7 358.4L78.2 358.2L78.7 358.3L79.2 358.2L79.7 358.1L80.2 358.1L80.7 358.1L81.2 358L81.7 358L82.2 357.9L82.7 358.1L83.2 358.4L83.7 358.8L84.2 359.2L84.7 359.6L85.2 360.1L85.7 360.7L86.2 361.3L86.7 362.1L87.2 363L87.7 363.9L88.2 364.8L88.7 365.8L89.2 366.9L89.7 367.9L90.2 369.1L90.7 370.2L91.2 371.5L91.7 372.7L92.2 374L92.7 375.2L93.2 376.6L93.7 378.2L94.2 379.9L94.7 381.4L95.2 383L95.7 384.4L96.2 385.5L96.7 386.8L97.2 388L97.7 389.1L98.2 390L98.5 390.5L98.7 390.7L98.8 390.9L99 391.1L99.2 391.2L99.3 391.3L99.5 391.5L99.7 391.6L99.8 391.7L100 391.9L100.2 391.9L100.3 392.1L100.5 392.3L100.7 392.3L100.8 392.3L101 392.4L101.2 392.8L101.3 392.7L101.5 393L101.7 393L101.8 392.7L102 392.5L102.2 392.2L102.3 392.3L102.5 392.8L102.7 392.9L102.8 392.8L103 393.4L103.2 392.9L103.3 392.9L103.5 392.7L103.7 392.7L103.8 392.2L104 391.8L104.2 391.3L104.3 390.8L104.5 391.6L104.7 392L104.8 392.1L105 392.7L105.2 391.8L105.3 392.8L105.5 392.1L105.7 392.4L105.8 392.3L106 392.2L106.2 392.3L106.3 392.2L106.5 391.8L106.7 391.7L106.8 391.4L107 391.3L107.2 391.2L107.3 390.9L107.5 391L107.7 391.1L107.8 391.3L108 391.5L108.2 391.8L108.3 392.2L108.5 391.8L108.7 392.7L108.8 392.4L109 392.3L109.2 392.2L109.3 392.1L109.5 391.7L109.7 391.1L109.8 392.1L110 392.1L110.2 392.7L110.3 392.7L110.5 393.4L110.7 393.5L110.8 393.8L111 393.6L111.2 393L111.3 392.1L111.5 391.6L111.7 392.8L111.8 392.5L112 392.2L112.2 393.8L112.3 392.6L112.5 393.3L112.7 393.3L112.8 392.6L113 392.6L113.2 392.7L113.3 391.8L113.5 391.6L113.7 392.1L113.8 392.3L114 393.1L114.2 392.8L114.3 392.6L114.5 392.4L114.7 392.7L114.8 392.3L115 393.4L115.2 392.4L115.3 392L115.5 392.3L115.7 392.1L115.8 391.9L116 392.7L116.2 392.7L116.3 392.7L116.5 393.2L116.7 394" stroke="#2b934b" stroke-width="1.4"/>
<path d="M49.7 367.2L50.2 367.2L50.7 367.2L51.2 367.2L51.7 367.2L52.2 367.3L52.7 367.3L53.2 367.4L53.7 367.4L54.2 367.4L54.7 367.5L55.2 367.5L55.7 367.6L56.2 367.6L56.7 367.7L57.2 367.8L57.7 367.9L58.2 367.9L58.7 368L59.2 368.1L59.7 368.2L60.2 368.3L60.7 368.4L61.2 368.5L61.7 368.6L62.2 368.7L62.7 368.8L63.2 369L63.7 369.1L64.2 369.2L64.7 369.2L65.2 369.3L65.7 369.4L66.2 369.4L66.7 369.3L67.2 369.1L67.7 368.8L68.2 368.5L68.7 368.1L69.2 367.7L69.7 367.4L70.2 367L70.7 366.6L71.2 366.1L71.7 365.6L72.2 365L72.7 364.4L73.2 363.8L73.7 363.2L74.2 362.7L74.7 362.1L75.2 361.6L75.7 361L76.2 360.4L76.7 359.8L77.2 359.3L77.7 358.6L78.2 358.1L78.7 357.4L79.2 357L79.7 356.5L80.2 356.1L80.7 355.9L81.2 355.8L81.7 355.7L82.2 355.7L82.7 355.7L83.2 355.7L83.7 355.6L84.2 355.8L84.7 356.1L85.2 356.7L85.7 357.4L86.2 358.2L86.7 359.1L87.2 360L87.7 361.1L88.2 362.4L88.7 363.8L89.2 365.3L89.7 366.8L90.2 368.5L90.7 370.4L91.2 372.4L91.7 374.6L92.2 376.8L92.7 379L93.2 381.2L93.7 383.5L94.2 386L94.7 388.5L95.2 390.9L95.7 393L96.2 394.6L96.7 396L97.2 397.4L97.4 397.9L97.6 398.2L97.7 398.5L97.9 398.8L98.1 399.1L98.2 399.2L98.4 399.5L98.6 399.4L98.7 399.6L98.9 399.6L99.1 399.8L99.2 399.8L99.4 399.9L99.6 400L99.7 400L99.9 400L100.1 400L100.2 400.2L100.4 400.2L100.6 400.3L100.7 400.3L100.9 400.1L101.1 399.7L101.2 400.3L101.4 400L101.6 400.4L101.7 400.4L101.9 401L102.1 401L102.2 400.5L102.4 400.2L102.6 399.9L102.7 401L102.9 401.4L103.1 401.7L103.2 401.1L103.4 400.2L103.6 399.9L103.7 399.9L103.9 400.2L104.1 401.1L104.2 400.5L104.4 400.1L104.6 400.7L104.7 400.2L104.9 400.5L105.1 400.4L105.2 400.7L105.4 400.6L105.6 400.3L105.7 400.3L105.9 400.7L106.1 400.9L106.2 400.3L106.4 400.6L106.6 400.5L106.7 399.8L106.9 400.3L107.1 400.5L107.2 400.3L107.4 401.1L107.6 400.7L107.7 400.9L107.9 400.8L108.1 400.5L108.2 400.2L108.4 400.7L108.6 400.7L108.7 400.3L108.9 400.6L109.1 399.8L109.2 400.1L109.4 399.4L109.6 399.8L109.7 400.9L109.9 400.3L110.1 400.3L110.2 399.9L110.4 400.5L110.6 400L110.7 400.7L110.9 401L111.1 400.7L111.2 400.8L111.4 401.1L111.6 401.2L111.7 401.1L111.9 400.4L112.1 400.9L112.2 401L112.4 401L112.6 401.3L112.7 401L112.9 400.6L113.1 400.7L113.2 400.5L113.4 399.7L113.6 400.9L113.7 400.6L113.9 400.4L114.1 400.4L114.2 399.9L114.4 400.6L114.6 400.7L114.7 400.3L114.9 400.5L115.1 400.8L115.2 400.7L115.4 400.5L115.6 400.9L115.7 400.6L115.9 400.4L116.1 400L116.2 399.7L116.4 399L116.6 399.4L116.7 400.3" stroke="#00682a" stroke-width="1.48"/>
</g>
<rect x="49.5" y="342.2" width="70.45" height="70.06" fill="none" stroke="#000" stroke-width="0.85"/>
<path d="M49.5 412.26h-3.4M49.5 386.3h-3.4M49.5 360.34h-3.4" stroke="#000" stroke-width="0.85" fill="none"/>
<path d="M49.5 404.45h-1.7M49.5 399.87h-1.7M49.5 396.63h-1.7M49.5 394.12h-1.7M49.5 392.06h-1.7M49.5 390.32h-1.7M49.5 388.82h-1.7M49.5 387.49h-1.7M49.5 378.49h-1.7M49.5 373.92h-1.7M49.5 370.67h-1.7M49.5 368.16h-1.7M49.5 366.1h-1.7M49.5 364.36h-1.7M49.5 362.86h-1.7M49.5 361.53h-1.7M49.5 352.53h-1.7M49.5 347.96h-1.7M49.5 344.72h-1.7" stroke="#000" stroke-width="0.6" fill="none"/>
<path d="M84.51 412.26v3.4" stroke="#000" stroke-width="0.85" fill="none"/>
<text x="44.6" y="415.76" font-size="9.1" text-anchor="end" fill="#000">10<tspan dy="-3.4" font-size="6.4" stroke-width="0.15">−3</tspan></text>
<text x="44.6" y="389.8" font-size="9.1" text-anchor="end" fill="#000">10<tspan dy="-3.4" font-size="6.4" stroke-width="0.15">−2</tspan></text>
<text x="44.6" y="363.84" font-size="9.1" text-anchor="end" fill="#000">10<tspan dy="-3.4" font-size="6.4" stroke-width="0.15">−1</tspan></text>
<text transform="translate(17.7 377.93) rotate(-90)" font-size="10.5" text-anchor="middle" fill="#000">He</text>
<g fill="none" stroke-linejoin="round" stroke-linecap="butt">
<path d="M134.4 349.5L134.9 349.5L135.4 349.5L135.9 349.5L136.4 349.5L136.9 349.5L137.4 349.5L137.9 349.5L138.4 349.5L138.9 349.5L139.4 349.5L139.9 349.5L140.4 349.5L140.9 349.5L141.4 349.5L141.9 349.5L142.4 349.5L142.9 349.5L143.4 349.5L143.9 349.5L144.4 349.5L144.9 349.5L145.4 349.5L145.9 349.5L146.4 349.5L146.9 349.5L147.4 349.5L147.9 349.5L148.4 349.5L148.9 349.5L149.4 349.5L149.9 349.5L150.4 349.5L150.9 349.5L151.4 349.5L151.9 349.5L152.4 349.5L152.9 349.6L153.4 349.6L153.9 349.5L154.4 349.6L154.9 349.6L155.4 349.6L155.9 349.5L156.4 349.6L156.9 349.6L157.4 349.6L157.9 349.7L158.4 349.7L158.9 349.8L159.4 349.9L159.9 350.1L160.4 350.2L160.9 350.4L161.4 350.6L161.9 350.9L162.4 351.1L162.9 351.4L163.4 351.6L163.9 351.8L164.4 352.1L164.9 352.3L165.4 352.5L165.9 352.8L166.4 353L166.9 353.3L167.4 353.5L167.9 353.9L168.4 354.1L168.9 354.4L169.4 354.6L169.9 354.8L170.4 355.1L170.9 355.4L171.4 355.6L171.9 355.9L172.4 356.1L172.9 356.3L173.4 356.7L173.9 356.9L174.4 357.1L174.9 357.5L175.4 357.9L175.9 358.2L176.4 358.5L176.9 358.7L177.4 358.9L177.9 359.1L178.4 359.1L178.9 359.1L179.4 359.2L179.9 359.2L180.4 359.4L180.9 359.3L181.4 359.4L181.9 359.4L182.4 359.6L182.9 359.6L183.4 360L183.9 360.4L184.4 360.7L184.9 360.9L185.4 361.3L185.9 361.5L186.4 361.7L186.5 361.6L186.7 361.8L186.8 361.9L187 362L187.2 362.2L187.3 362.3L187.5 362.3L187.7 362.4L187.8 362.5L188 362.6L188.2 362.5L188.3 362.6L188.5 362.7L188.7 362.7L188.8 362.7L189 362.8L189.2 362.8L189.3 362.8L189.5 362.6L189.7 362.5L189.8 362.6L190 362.4L190.2 362.8L190.3 363L190.5 362.9L190.7 362.9L190.8 362.6L191 363.1L191.2 362.4L191.3 362.7L191.5 363.1L191.7 362.6L191.8 362.1L192 362.2L192.2 362L192.3 362.3L192.5 362.2L192.7 362.5L192.8 362.4L193 362.5L193.2 362.2L193.3 362.5L193.5 362.1L193.7 361.7L193.8 362.2L194 362.2L194.2 362L194.3 362.3L194.5 362.3L194.7 361.9L194.8 361.7L195 362L195.2 362.1L195.3 362.3L195.5 362.6L195.7 362.4L195.8 362.3L196 362.3L196.2 362L196.3 362.6L196.5 362.7L196.7 362.4L196.8 362.3L197 361.9L197.2 361.4L197.3 361.6L197.5 361.6L197.7 361.6L197.8 362L198 361.9L198.2 361.8L198.3 362.3L198.5 362.4L198.7 361.7L198.8 362.3L199 361.8L199.2 361.8L199.3 361.4L199.5 361.6L199.7 361.8L199.8 362.3L200 362.3L200.2 362.6L200.3 363.1L200.5 362.7L200.7 362.5L200.8 362.6L201 362.5L201.2 362.7L201.3 362.7L201.5 362.8L201.7 362.7" stroke="#a8dca2" stroke-width="1.32"/>
<path d="M134.4 358.5L134.9 358.4L135.4 358.4L135.9 358.4L136.4 358.3L136.9 358.3L137.4 358.3L137.9 358.3L138.4 358.3L138.9 358.2L139.4 358.2L139.9 358.2L140.4 358.2L140.9 358.2L141.4 358.2L141.9 358.2L142.4 358.2L142.9 358.2L143.4 358.2L143.9 358.2L144.4 358.2L144.9 358.2L145.4 358.2L145.9 358.2L146.4 358.2L146.9 358.2L147.4 358.3L147.9 358.5L148.4 358.7L148.9 358.9L149.4 359.1L149.9 359.2L150.4 359.4L150.9 359.6L151.4 359.8L151.9 360L152.4 360.3L152.9 360.6L153.4 360.9L153.9 361L154.4 361.3L154.9 361.3L155.4 361.4L155.9 361.5L156.4 361.3L156.9 361.4L157.4 361.2L157.9 360.9L158.4 360.7L158.9 360.6L159.4 360.4L159.9 360.4L160.4 360.2L160.9 360.1L161.4 360.1L161.9 360.1L162.4 360.1L162.9 360.1L163.4 360.1L163.9 360.1L164.4 360.1L164.9 360.1L165.4 360.1L165.9 360L166.4 360L166.9 360.1L167.4 360.4L167.9 360.8L168.4 361.3L168.9 361.8L169.4 362.1L169.9 362.7L170.4 363L170.9 363.5L171.4 364L171.9 364.7L172.4 365.3L172.9 366L173.4 366.6L173.9 367.4L174.4 368.1L174.9 369L175.4 369.8L175.9 370.7L176.4 371.7L176.9 372.6L177.4 373.4L177.9 374.2L178.4 375L178.9 375.8L179.4 376.6L179.9 377.4L180.4 378.1L180.9 378.8L181.4 379.4L181.9 380.1L182.4 380.7L182.9 381.3L183.4 381.9L183.9 382.5L184.4 383L184.5 382.9L184.6 383.2L184.8 383.4L185 383.4L185.1 383.6L185.3 383.7L185.5 383.8L185.6 383.8L185.8 383.9L186 383.9L186.1 384L186.3 384.2L186.5 384.2L186.6 384.3L186.8 384.4L187 384.4L187.1 384.4L187.3 384.3L187.5 384.5L187.6 384.5L187.8 384.5L188 384.8L188.1 384.9L188.3 384.6L188.5 385L188.6 384.8L188.8 383.7L189 383.9L189.1 384.4L189.3 384.7L189.5 384.9L189.6 384.8L189.8 384.4L190 384L190.1 383.9L190.3 383.1L190.5 384L190.6 384.2L190.8 384.3L191 384.9L191.1 384.8L191.3 384.1L191.5 382.9L191.6 383.7L191.8 383L192 383L192.1 383.5L192.3 383.5L192.5 383.8L192.6 384.3L192.8 385.4L193 385L193.1 383.7L193.3 383.9L193.5 385.8L193.6 385.5L193.8 385L194 385.2L194.1 384.3L194.3 384.1L194.5 384.3L194.6 383.7L194.8 383.5L195 383.5L195.1 383.3L195.3 383.2L195.5 383.6L195.6 384.7L195.8 384.8L196 385.3L196.1 385.5L196.3 384L196.5 383.7L196.6 384.4L196.8 384.3L197 385.5L197.1 384.4L197.3 384.9L197.5 383.1L197.6 382.8L197.8 383.6L198 382.9L198.1 384.4L198.3 385.9L198.5 386.1L198.6 386L198.8 384.3L199 383.7L199.1 385L199.3 384.5L199.5 386L199.6 386.3L199.8 385.2L200 386.1L200.1 385.3L200.3 384.4L200.5 384.4L200.6 384L200.8 384.9L201 385.2L201.1 384.8L201.3 384.3L201.5 384L201.6 385.2" stroke="#68be70" stroke-width="1.32"/>
<path d="M134.4 362.1L134.9 362.1L135.4 362.1L135.9 362.1L136.4 362.1L136.9 362.1L137.4 362.1L137.9 362.1L138.4 362.1L138.9 362.1L139.4 362.1L139.9 362.1L140.4 362.1L140.9 362.1L141.4 362.1L141.9 362.1L142.4 362.1L142.9 362.1L143.4 362.1L143.9 362.1L144.4 362.2L144.9 362.3L145.4 362.4L145.9 362.5L146.4 362.6L146.9 362.8L147.4 362.9L147.9 363L148.4 363.1L148.9 363.1L149.4 363.1L149.9 363.1L150.4 363L150.9 362.9L151.4 362.7L151.9 362.6L152.4 362.4L152.9 362.2L153.4 362L153.9 361.9L154.4 361.7L154.9 361.5L155.4 361.4L155.9 361.2L156.4 361.1L156.9 360.9L157.4 360.7L157.9 360.5L158.4 360.3L158.9 360.1L159.4 360L159.9 359.8L160.4 359.7L160.9 359.5L161.4 359.3L161.9 359L162.4 358.9L162.9 358.8L163.4 358.6L163.9 358.5L164.4 358.4L164.9 358.4L165.4 358.4L165.9 358.6L166.4 358.8L166.9 358.9L167.4 359L167.9 359.3L168.4 359.5L168.9 359.9L169.4 360.3L169.9 360.9L170.4 361.4L170.9 362L171.4 362.7L171.9 363.4L172.4 364.2L172.9 365.2L173.4 366.1L173.9 367.3L174.4 368.5L174.9 369.7L175.4 370.8L175.9 372.3L176.4 373.5L176.9 375L177.4 376.6L177.9 378.1L178.4 379.5L178.9 380.9L179.4 382.3L179.9 383.7L180.4 385L180.9 386.2L181.4 387.4L181.9 388.4L182.4 389.3L182.9 390.1L183.4 390.9L183.5 391L183.7 391.1L183.8 391.2L184 391.4L184.2 391.6L184.3 391.7L184.5 391.7L184.7 391.7L184.8 391.8L185 391.9L185.2 392L185.3 392.1L185.5 392.3L185.7 392.3L185.8 392.2L186 392.4L186.2 392.5L186.3 392.5L186.5 392.3L186.7 392.8L186.8 392.7L187 392.9L187.2 393.2L187.3 393.6L187.5 393.2L187.7 393.2L187.8 393.2L188 393L188.2 393.4L188.3 393.2L188.5 393.2L188.7 393.1L188.8 392.8L189 393.1L189.2 392.7L189.3 392L189.5 392.2L189.7 392.2L189.8 392.7L190 393.1L190.2 392.7L190.3 392.8L190.5 392.6L190.7 392.3L190.8 393.1L191 393.3L191.2 392.6L191.3 393.3L191.5 392.7L191.7 392L191.8 392.3L192 392.2L192.2 392.6L192.3 393L192.5 392.6L192.7 393L192.8 392.6L193 392.3L193.2 392.7L193.3 392.1L193.5 393.5L193.7 394L193.8 393.1L194 393.1L194.2 392.1L194.3 391.4L194.5 390L194.7 391.2L194.8 391.3L195 391.6L195.2 392.5L195.3 392.2L195.5 392.4L195.7 392.2L195.8 392.1L196 391.9L196.2 392.3L196.3 393.2L196.5 394L196.7 393.2L196.8 394.1L197 393L197.2 392.4L197.3 392.1L197.5 392.7L197.7 392.6L197.8 393.1L198 393.1L198.2 392.6L198.3 392L198.5 391.8L198.7 391.5L198.8 390.8L199 390.7L199.2 391.2L199.3 392L199.5 392.4L199.7 392.3L199.8 392.5L200 392.4L200.2 392.3L200.3 392.6L200.5 392.1L200.7 392.3L200.8 393L201 392.7L201.2 393.2L201.3 392.8L201.5 392.2L201.7 392.5" stroke="#2b934b" stroke-width="1.4"/>
<path d="M134.4 367.2L134.9 367.2L135.4 367.3L135.9 367.4L136.4 367.5L136.9 367.5L137.4 367.6L137.9 367.7L138.4 367.8L138.9 367.9L139.4 368L139.9 368.1L140.4 368.2L140.9 368.4L141.4 368.6L141.9 368.7L142.4 368.9L142.9 369L143.4 369.2L143.9 369.3L144.4 369.3L144.9 369.4L145.4 369.4L145.9 369.3L146.4 369.3L146.9 369.3L147.4 369.3L147.9 369.2L148.4 369.2L148.9 369.1L149.4 369.1L149.9 369L150.4 368.9L150.9 368.8L151.4 368.7L151.9 368.5L152.4 368.3L152.9 368.1L153.4 367.7L153.9 367.4L154.4 367.3L154.9 366.8L155.4 366.5L155.9 366.1L156.4 365.6L156.9 365.2L157.4 364.7L157.9 364.2L158.4 363.6L158.9 363.1L159.4 362.5L159.9 361.9L160.4 361.3L160.9 360.7L161.4 360.1L161.9 359.5L162.4 358.9L162.9 358.5L163.4 358L163.9 357.4L164.4 356.9L164.9 356.5L165.4 356.1L165.9 356L166.4 356L166.9 356L167.4 355.9L167.9 356L168.4 356.1L168.9 356L169.4 356.2L169.9 356.8L170.4 357.5L170.9 358.5L171.4 359.4L171.9 360.3L172.4 361.3L172.9 362.5L173.4 363.8L173.9 365.2L174.4 366.7L174.9 368.3L175.4 370.1L175.9 372.2L176.4 374.4L176.9 376.7L177.4 379.1L177.9 381.4L178.4 383.6L178.9 385.9L179.4 388.4L179.9 390.7L180.4 392.8L180.9 394.5L181.4 395.9L181.9 397.2L182.4 398.2L182.6 398.5L182.7 398.9L182.9 399.2L183.1 399.5L183.2 399.7L183.4 399.7L183.6 399.8L183.7 400L183.9 400L184.1 400.1L184.2 400.2L184.4 400.2L184.6 400.3L184.7 400.2L184.9 400.4L185.1 400.5L185.2 400.6L185.4 400.5L185.6 400.7L185.7 400.2L185.9 400.7L186.1 400.9L186.2 401L186.4 401.5L186.6 400.6L186.7 400.5L186.9 401.1L187.1 401.2L187.2 401.7L187.4 401L187.6 400.8L187.7 400.2L187.9 400.6L188.1 400.2L188.2 400.2L188.4 400.4L188.6 400.1L188.7 400.4L188.9 400.5L189.1 400.6L189.2 400.7L189.4 400.4L189.6 400.5L189.7 401.5L189.9 401.3L190.1 400.4L190.2 400.7L190.4 400.9L190.6 401L190.7 401.2L190.9 400.8L191.1 400.3L191.2 401L191.4 400.3L191.6 400.9L191.7 400.9L191.9 400.4L192.1 399.9L192.2 400.2L192.4 400.2L192.6 400.2L192.7 400.3L192.9 400.2L193.1 400.5L193.2 400.4L193.4 400.4L193.6 401L193.7 400L193.9 399.8L194.1 399.7L194.2 400.2L194.4 400.8L194.6 400.4L194.7 400.7L194.9 401.1L195.1 400.8L195.2 401.3L195.4 401.3L195.6 401.4L195.7 401.4L195.9 401.3L196.1 401.1L196.2 400.7L196.4 401L196.6 400.3L196.7 401.3L196.9 400.7L197.1 401L197.2 401L197.4 400.4L197.6 401.3L197.7 401.8L197.9 400.9L198.1 401.4L198.2 401.2L198.4 399.9L198.6 400.6L198.7 400.9L198.9 400.9L199.1 401.4L199.2 400.5L199.4 400.2L199.6 399.4L199.7 398.8L199.9 399.8L200.1 400.1L200.2 400.5L200.4 401.8L200.6 401.1L200.7 401.1L200.9 400.9L201.1 399.7L201.2 399.8L201.4 399.9L201.6 400.7L201.7 401.1" stroke="#00682a" stroke-width="1.48"/>
</g>
<rect x="134.4" y="342.2" width="70.27" height="70.06" fill="none" stroke="#000" stroke-width="0.85"/>
<path d="M134.4 412.26h-3.4M134.4 386.3h-3.4M134.4 360.34h-3.4" stroke="#000" stroke-width="0.85" fill="none"/>
<path d="M134.4 404.45h-1.7M134.4 399.87h-1.7M134.4 396.63h-1.7M134.4 394.12h-1.7M134.4 392.06h-1.7M134.4 390.32h-1.7M134.4 388.82h-1.7M134.4 387.49h-1.7M134.4 378.49h-1.7M134.4 373.92h-1.7M134.4 370.67h-1.7M134.4 368.16h-1.7M134.4 366.1h-1.7M134.4 364.36h-1.7M134.4 362.86h-1.7M134.4 361.53h-1.7M134.4 352.53h-1.7M134.4 347.96h-1.7M134.4 344.72h-1.7" stroke="#000" stroke-width="0.6" fill="none"/>
<path d="M169.32 412.26v3.4" stroke="#000" stroke-width="0.85" fill="none"/>
<g fill="none" stroke-linejoin="round" stroke-linecap="butt">
<path d="M219 350.5L219.5 350.5L220 350.5L220.5 350.5L221 350.5L221.5 350.5L222 350.5L222.5 350.5L223 350.5L223.5 350.5L224 350.5L224.5 350.5L225 350.5L225.5 350.5L226 350.5L226.5 350.5L227 350.5L227.5 350.5L228 350.5L228.5 350.5L229 350.5L229.5 350.5L230 350.5L230.5 350.5L231 350.5L231.5 350.6L232 350.5L232.5 350.5L233 350.6L233.5 350.5L234 350.5L234.5 350.5L235 350.6L235.5 350.6L236 350.6L236.5 350.5L237 350.5L237.5 350.5L238 350.5L238.5 350.5L239 350.6L239.5 350.5L240 350.5L240.5 350.6L241 350.6L241.5 350.5L242 350.6L242.5 350.5L243 350.6L243.5 350.5L244 350.5L244.5 350.4L245 350.5L245.5 350.5L246 350.6L246.5 350.6L247 350.7L247.5 350.8L248 351.1L248.5 351.3L249 351.5L249.5 351.5L250 351.6L250.5 351.7L251 351.6L251.5 351.6L252 351.5L252.5 351.4L253 351.4L253.5 351.3L254 351.3L254.5 351.1L255 351.2L255.5 351.3L256 351.5L256.5 351.8L257 352.1L257.5 352.4L258 352.8L258.5 353.2L259 353.5L259.5 353.9L260 354.3L260.5 354.9L261 355.4L261.5 355.7L262 356.2L262.5 356.7L263 357.2L263.5 357.8L264 358.4L264.5 358.9L265 359.4L265.5 359.8L266 360.3L266.5 360.9L267 361.3L267.5 361.8L268 362.3L268.5 362.8L269 363.4L269.1 363.5L269.3 363.7L269.5 363.9L269.6 363.9L269.8 364.1L270 364.3L270.1 364.4L270.3 364.5L270.5 364.5L270.6 364.5L270.8 364.6L271 364.5L271.1 364.7L271.3 364.7L271.5 364.6L271.6 364.7L271.8 364.8L272 364.8L272.1 364.9L272.3 364.9L272.5 365.2L272.6 365.1L272.8 365.1L273 365.3L273.1 365.5L273.3 365.1L273.5 365.7L273.6 365.3L273.8 365.3L274 364.7L274.1 365.2L274.3 364.8L274.5 364.7L274.6 364.8L274.8 365L275 364.9L275.1 364.9L275.3 364.7L275.5 365L275.6 365L275.8 365.4L276 364.7L276.1 365.3L276.3 365.1L276.5 365.4L276.6 365.4L276.8 365.4L277 365.3L277.1 365L277.3 365L277.5 364.6L277.6 365.4L277.8 364.7L278 365L278.1 365.3L278.3 365.3L278.5 365.9L278.6 365.5L278.8 365.3L279 365.5L279.1 365.4L279.3 365.4L279.5 365.6L279.6 365.1L279.8 364.7L280 364.7L280.1 365.3L280.3 365.6L280.5 366.1L280.6 366.2L280.8 365.5L281 365.5L281.1 365L281.3 364.9L281.5 364.4L281.6 364.5L281.8 364.4L282 364.9L282.1 365.1L282.3 365.1L282.5 365.4L282.6 365.4L282.8 365.2L283 365.4L283.1 365.8L283.3 365.5L283.5 365.6L283.6 365.4L283.8 364.9L284 365.1L284.1 365.4L284.3 365L284.5 364.9L284.6 365.2L284.8 365.1L285 365L285.1 365.6L285.3 365.4L285.5 365.3L285.6 365.6L285.8 365.6L286 365.3L286.1 365.1" stroke="#a8dca2" stroke-width="1.32"/>
<path d="M219 358.7L219.5 358.7L220 358.7L220.5 358.7L221 358.7L221.5 358.7L222 358.7L222.5 358.7L223 358.7L223.5 358.7L224 358.7L224.5 358.7L225 358.7L225.5 358.7L226 358.7L226.5 358.7L227 358.7L227.5 358.7L228 358.7L228.5 358.7L229 358.7L229.5 358.7L230 358.8L230.5 358.8L231 358.9L231.5 358.9L232 359L232.5 359.1L233 359.1L233.5 359.2L234 359.3L234.5 359.3L235 359.3L235.5 359.4L236 359.4L236.5 359.4L237 359.4L237.5 359.4L238 359.5L238.5 359.4L239 359.4L239.5 359.4L240 359.5L240.5 359.5L241 359.4L241.5 359.4L242 359.4L242.5 359.4L243 359.3L243.5 359.4L244 359.4L244.5 359.4L245 359.5L245.5 359.4L246 359.5L246.5 359.4L247 359.4L247.5 359.4L248 359.3L248.5 359.4L249 359.5L249.5 359.4L250 359.5L250.5 359.6L251 359.8L251.5 360L252 360.2L252.5 360.6L253 360.9L253.5 361.2L254 361.5L254.5 362L255 362.6L255.5 363.3L256 363.9L256.5 364.6L257 365.3L257.5 366L258 366.9L258.5 367.6L259 368.5L259.5 369.2L260 370.1L260.5 371L261 371.9L261.5 372.7L262 373.6L262.5 374.5L263 375.5L263.5 376.3L264 377L264.5 377.9L265 378.7L265.5 379.5L266 380.1L266.5 380.8L267 381.5L267.5 382.3L268 382.9L268.5 383.6L268.6 383.7L268.8 383.8L269 383.9L269.1 384L269.3 384.1L269.5 384.2L269.6 384.3L269.8 384.4L270 384.5L270.1 384.6L270.3 384.7L270.5 384.6L270.6 384.8L270.8 384.9L271 385L271.1 385.1L271.3 385.2L271.5 385.3L271.6 385.3L271.8 385.1L272 385.3L272.1 385.6L272.3 385.9L272.5 386.1L272.6 385.4L272.8 385.7L273 385.2L273.1 385.8L273.3 385.2L273.5 384.6L273.6 385.2L273.8 384.7L274 384.3L274.1 385L274.3 385.7L274.5 385.6L274.6 386L274.8 385.6L275 386L275.1 385.6L275.3 385.7L275.5 385.2L275.6 385.7L275.8 384.5L276 385.5L276.1 385.3L276.3 385.9L276.5 386.3L276.6 385.9L276.8 385.6L277 384.5L277.1 385.8L277.3 385.3L277.5 386.2L277.6 386.6L277.8 385.5L278 385.2L278.1 385.1L278.3 385.4L278.5 386.5L278.6 386.5L278.8 386L279 385.2L279.1 384.8L279.3 385L279.5 384.1L279.6 384.1L279.8 384.9L280 384.4L280.1 385L280.3 384.9L280.5 384.4L280.6 384L280.8 384L281 384.5L281.1 385.4L281.3 385.4L281.5 385.6L281.6 385.3L281.8 385L282 385.3L282.1 384.6L282.3 384.7L282.5 384.9L282.6 385.3L282.8 385L283 385.7L283.1 385.6L283.3 385.4L283.5 386L283.6 386L283.8 385.3L284 385.9L284.1 385L284.3 385.1L284.5 385.1L284.6 385.5L284.8 385.6L285 385.7L285.1 386.5L285.3 385.8L285.5 385.6L285.6 385.1L285.8 384L286 384.1L286.1 384.3" stroke="#68be70" stroke-width="1.32"/>
<path d="M219 363.1L219.5 363.1L220 363.1L220.5 363.1L221 363.1L221.5 363.1L222 363.1L222.5 363.1L223 363.1L223.5 363.1L224 363.1L224.5 363.1L225 363.1L225.5 363.1L226 363.1L226.5 363.1L227 363.1L227.5 363.1L228 363.1L228.5 363.1L229 363.2L229.5 363.3L230 363.4L230.5 363.5L231 363.6L231.5 363.8L232 363.9L232.5 364L233 364L233.5 364.1L234 364.2L234.5 364.2L235 364.1L235.5 364.1L236 363.9L236.5 363.7L237 363.5L237.5 363.3L238 363.1L238.5 362.8L239 362.6L239.5 362.4L240 362.1L240.5 361.8L241 361.5L241.5 361.1L242 361L242.5 360.7L243 360.5L243.5 360.3L244 360.1L244.5 359.9L245 359.6L245.5 359.4L246 359.2L246.5 359L247 358.9L247.5 358.7L248 358.6L248.5 358.4L249 358.4L249.5 358.5L250 358.4L250.5 358.5L251 358.6L251.5 358.6L252 358.7L252.5 358.8L253 359.2L253.5 359.6L254 360.2L254.5 360.8L255 361.4L255.5 362L256 362.8L256.5 363.6L257 364.5L257.5 365.6L258 366.7L258.5 367.9L259 369.1L259.5 370.3L260 371.6L260.5 373L261 374.5L261.5 376L262 377.5L262.5 378.8L263 380.4L263.5 381.9L264 383.5L264.5 385L265 386.3L265.5 387.5L266 388.4L266.5 389.3L267 390.3L267.5 391.2L267.5 391.4L267.7 391.6L267.8 391.8L268 391.9L268.2 392L268.3 392.2L268.5 392.1L268.7 392.2L268.8 392.2L269 392.3L269.2 392.3L269.3 392.4L269.5 392.4L269.7 392.4L269.8 392.7L270 392.7L270.2 392.8L270.3 393L270.5 393.1L270.7 392.7L270.8 392.8L271 393.1L271.2 393.1L271.3 393.1L271.5 392.3L271.7 392.2L271.8 393L272 392.7L272.2 393.7L272.3 393.2L272.5 394.7L272.7 393.4L272.8 393.8L273 394.8L273.2 393.7L273.3 392.1L273.5 392.5L273.7 391.4L273.8 391.4L274 392.1L274.2 392.5L274.3 393.1L274.5 393.6L274.7 394.3L274.8 393.6L275 393.5L275.2 393.2L275.3 392.7L275.5 393.8L275.7 392.6L275.8 393.1L276 392.8L276.2 391.4L276.3 391.9L276.5 392.2L276.7 392.5L276.8 392.8L277 393.3L277.2 392.7L277.3 393.2L277.5 393.6L277.7 393.3L277.8 392.2L278 393.2L278.2 393.2L278.3 393.7L278.5 392.8L278.7 392.2L278.8 392L279 391.6L279.2 393.4L279.3 394.3L279.5 392.6L279.7 392.5L279.8 393.2L280 392.5L280.2 391.8L280.3 392.4L280.5 391.6L280.7 392.8L280.8 392.5L281 392.1L281.2 392.7L281.3 392L281.5 391.9L281.7 392.3L281.8 394L282 394.2L282.2 395.5L282.3 395.1L282.5 393.6L282.7 394.7L282.8 393.7L283 394.5L283.2 394.4L283.3 393.2L283.5 393.2L283.7 392.9L283.8 393.1L284 393.5L284.2 393.5L284.3 393.2L284.5 394.1L284.7 394.4L284.8 393.9L285 394.1L285.2 392.9L285.3 392.6L285.5 393L285.7 392.5L285.8 392.1L286 393L286.2 392.9" stroke="#2b934b" stroke-width="1.4"/>
<path d="M219 367.2L219.5 367.2L220 367.2L220.5 367.3L221 367.3L221.5 367.3L222 367.4L222.5 367.5L223 367.5L223.5 367.6L224 367.7L224.5 367.8L225 367.9L225.5 368.1L226 368.3L226.5 368.5L227 368.6L227.5 368.8L228 368.9L228.5 368.9L229 369L229.5 369L230 369L230.5 369L231 369L231.5 369L232 369L232.5 369L233 369L233.5 368.9L234 368.9L234.5 369L235 369L235.5 368.9L236 368.8L236.5 368.6L237 368.4L237.5 368.2L238 367.9L238.5 367.7L239 367.2L239.5 366.8L240 366.3L240.5 365.8L241 365.3L241.5 364.8L242 364.1L242.5 363.6L243 363L243.5 362.5L244 361.9L244.5 361.4L245 360.7L245.5 360.1L246 359.5L246.5 359L247 358.4L247.5 357.8L248 357.2L248.5 356.6L249 356.2L249.5 355.7L250 355.4L250.5 355.3L251 355.2L251.5 355.3L252 355.4L252.5 355.5L253 355.6L253.5 355.8L254 356L254.5 356.6L255 357.3L255.5 358.1L256 359L256.5 360L257 361.1L257.5 362.2L258 363.5L258.5 365.1L259 366.8L259.5 368.6L260 370.3L260.5 372.3L261 374.5L261.5 376.8L262 379.2L262.5 381.5L263 383.9L263.5 386.1L264 388.6L264.5 390.9L265 392.9L265.5 394.8L266 396L266.5 397.4L267 398.5L267.1 398.8L267.3 399.1L267.4 399.4L267.6 399.6L267.8 399.8L267.9 399.8L268.1 399.9L268.3 399.9L268.4 400.1L268.6 400.2L268.8 400.1L268.9 400.3L269.1 400.3L269.3 400.4L269.4 400.4L269.6 400.6L269.8 400.6L269.9 400.6L270.1 400.6L270.3 400.6L270.4 400.8L270.6 400.8L270.8 401L270.9 400.9L271.1 401.1L271.3 401.4L271.4 401.7L271.6 401.2L271.8 400.9L271.9 401.4L272.1 400.6L272.3 400.9L272.4 400.3L272.6 400.7L272.8 400.5L272.9 400.6L273.1 401.1L273.3 400.4L273.4 400.8L273.6 400.5L273.8 400L273.9 400.3L274.1 400.2L274.3 400.4L274.4 401L274.6 401.1L274.8 401.7L274.9 400.9L275.1 401L275.3 400.8L275.4 401.3L275.6 401.6L275.8 401.2L275.9 400.6L276.1 400.2L276.3 400.2L276.4 401.1L276.6 400.8L276.8 401L276.9 400.8L277.1 400.5L277.3 400.9L277.4 400.9L277.6 401.2L277.8 401.3L277.9 400.6L278.1 400.2L278.3 400.9L278.4 400.7L278.6 400.8L278.8 400.6L278.9 400.9L279.1 401L279.3 400.8L279.4 401.1L279.6 400.7L279.8 401.2L279.9 400.8L280.1 400.6L280.3 400.5L280.4 401L280.6 401.1L280.8 401.3L280.9 401.9L281.1 401.5L281.3 401.6L281.4 401.3L281.6 401.9L281.8 401.1L281.9 400.2L282.1 400.6L282.3 400.6L282.4 400.6L282.6 400.5L282.8 400.6L282.9 400.3L283.1 401.5L283.3 401.6L283.4 401.9L283.6 401.8L283.8 400.9L283.9 400.8L284.1 400.4L284.3 400.8L284.4 400.9L284.6 401.2L284.8 400.6L284.9 400.8L285.1 399.9L285.3 400L285.4 399.6L285.6 399.6L285.8 399.6L285.9 399.5L286.1 400" stroke="#00682a" stroke-width="1.48"/>
</g>
<rect x="218.9" y="342.2" width="70.49" height="70.06" fill="none" stroke="#000" stroke-width="0.85"/>
<path d="M218.9 412.26h-3.4M218.9 386.3h-3.4M218.9 360.34h-3.4" stroke="#000" stroke-width="0.85" fill="none"/>
<path d="M218.9 404.45h-1.7M218.9 399.87h-1.7M218.9 396.63h-1.7M218.9 394.12h-1.7M218.9 392.06h-1.7M218.9 390.32h-1.7M218.9 388.82h-1.7M218.9 387.49h-1.7M218.9 378.49h-1.7M218.9 373.92h-1.7M218.9 370.67h-1.7M218.9 368.16h-1.7M218.9 366.1h-1.7M218.9 364.36h-1.7M218.9 362.86h-1.7M218.9 361.53h-1.7M218.9 352.53h-1.7M218.9 347.96h-1.7M218.9 344.72h-1.7" stroke="#000" stroke-width="0.6" fill="none"/>
<path d="M253.93 412.26v3.4" stroke="#000" stroke-width="0.85" fill="none"/>
<g fill="none" stroke-linejoin="round" stroke-linecap="butt">
<path d="M303.7 363.5L304 363.5L304.3 363.5L304.7 363.5L305 363.5L305.3 363.5L305.7 363.5L306 363.5L306.3 363.5L306.7 363.5L307 363.5L307.3 363.5L307.7 363.5L308 363.5L308.3 363.5L308.7 363.5L309 363.5L309.3 363.5L309.7 363.5L310 363.5L310.3 363.5L310.7 363.5L311 363.5L311.3 363.5L311.7 363.5L312 363.5L312.3 363.5L312.7 363.5L313 363.5L313.3 363.5L313.7 363.5L314 363.5L314.3 363.5L314.7 363.5L315 363.5L315.3 363.5L315.7 363.5L316 363.5L316.3 363.5L316.7 363.6L317 363.5L317.3 363.6L317.7 363.5L318 363.5L318.3 363.5L318.7 363.7L319 363.8L319.3 363.5L319.7 363.9L320 363.6L320.3 363.4L320.7 363.2L321 363.2L321.3 363.4L321.7 363.7L322 363.3L322.3 363.6L322.7 363.5L323 363.7L323.3 363.7L323.7 364L324 364.2L324.3 363.7L324.7 363.3L325 363.7L325.3 363.8L325.7 363.3L326 363.5L326.3 363.6L326.7 363.3L327 363.3L327.3 363.4L327.7 363.3L328 363.2L328.3 363.8L328.7 363.4L329 363.6L329.3 363.7L329.7 363.4L330 363.9L330.3 364.2L330.7 363.8L331 364.2L331.3 364.3L331.7 364.5L332 364.6L332.3 364.3L332.7 364.8L333 364.6L333.3 364.9L333.7 364.3L334 364.4L334.3 364.5L334.7 364.9L335 364.3L335.3 363.8L335.7 364.3L336 364.4L336.3 364.8L336.7 364.9L337 364.9L337.3 364.2L337.7 364.6L338 364.9L338.3 364.7L338.7 363.8L339 363.3L339.3 363.1L339.7 362.3L340 362.4L340.3 362.2L340.7 362L341 362.4L341.3 362.3L341.7 362.9L342 363.1L342.3 363.4L342.7 363.1L343 363.8L343.3 365.1L343.7 365.1L344 364.9L344.3 365L344.7 365L345 364.9L345.3 365.1L345.7 365.4L346 366.3L346.3 366L346.7 366.2L347 365.8L347.3 366L347.7 366.9L348 366.5L348.3 367.2L348.7 367.3L349 367.1L349.3 367.8L349.7 368.5L350 368.2L350.3 368.7L350.7 368.2L351 368.6L351.3 369L351.7 369.1L352 369.1L352.3 369L352.7 369.3L353 369.7L353.3 370.6L353.5 370.4L353.6 370.5L353.8 370.6L354 370.9L354.1 371L354.3 371.2L354.5 371.8L354.6 372.3L354.8 371.9L355 372.2L355.1 373L355.3 374.1L355.5 373.8L355.6 373.6L355.8 373.4L356 373.5L356.1 373.5L356.3 374.1L356.5 375.3L356.6 375.7L356.8 375.3L357 376.3L357.1 376.3L357.3 374.3L357.5 376.9L357.6 376.2L357.8 374.9L358 378.5L358.1 377.1L358.3 377.6L358.5 376.7L358.6 375.1L358.8 375.9L359 375.4L359.1 377L359.3 378.9L359.5 377.4L359.6 377.9L359.8 377.1L360 376.8L360.1 375.1L360.3 374.3L360.5 373.9L360.6 373.9L360.8 374.8L361 375.2L361.1 376.6L361.3 374.8L361.5 375.9L361.6 373L361.8 372.4L362 375L362.1 377.8L362.3 380.2L362.5 376.8L362.6 377.8L362.8 375.3L363 374.8L363.1 373.6L363.3 372.7L363.5 375.5L363.6 374.1L363.8 374.6L364 374.8L364.1 374.1L364.3 372.6L364.5 372.6L364.6 376.1L364.8 377L365 378.7L365.1 382L365.3 379L365.5 378.4L365.6 378L365.8 374.6L366 373.1L366.1 373.6L366.3 374.6L366.5 375.9L366.6 375.9L366.8 376.2L367 375.9L367.1 376.4L367.3 374.8L367.5 375L367.6 374.9L367.8 376.2L368 376.1L368.1 378.5L368.3 378.3L368.5 378L368.6 375.4L368.8 375.8L369 375L369.1 373.9L369.3 376.6L369.5 375.4L369.6 378.1L369.8 378.4L370 377.2L370.1 375.8L370.3 378.1L370.5 375.6L370.6 372.5" stroke="#a8dca2" stroke-width="1.32"/>
<path d="M303.7 366.2L304 366.2L304.3 366.2L304.7 366.2L305 366.2L305.3 366.2L305.7 366.2L306 366.2L306.3 366.2L306.7 366.2L307 366.2L307.3 366.2L307.7 366.2L308 366.2L308.3 366.2L308.7 366.2L309 366.2L309.3 366.2L309.7 366.2L310 366.2L310.3 366.2L310.7 366.2L311 366.2L311.3 366.2L311.7 366.2L312 366.2L312.3 366.2L312.7 366.2L313 366.2L313.3 366.2L313.7 366.2L314 366.2L314.3 366.2L314.7 366.2L315 366.2L315.3 366.2L315.7 366.2L316 366.2L316.3 366.2L316.7 366.2L317 366.2L317.3 366.1L317.7 366L318 365.9L318.3 365.9L318.7 365.8L319 365.7L319.3 365.5L319.7 365.4L320 365.4L320.3 365.4L320.7 365.3L321 365.4L321.3 365.3L321.7 365.3L322 365.4L322.3 365.5L322.7 365.4L323 365.3L323.3 365.4L323.7 365.3L324 365.4L324.3 365.5L324.7 365.6L325 365.8L325.3 365.7L325.7 365.7L326 365.7L326.3 365.8L326.7 366.1L327 366.1L327.3 366.2L327.7 366.4L328 366.5L328.3 366.5L328.7 366.7L329 366.8L329.3 366.8L329.7 366.7L330 366.8L330.3 366.7L330.7 366.9L331 367L331.3 366.9L331.7 367L332 367.1L332.3 367.1L332.7 367.1L333 367.2L333.3 367.3L333.7 367.5L334 367.4L334.3 367.5L334.7 367.4L335 367.3L335.3 367.3L335.7 367.4L336 367.4L336.3 367.6L336.7 367.9L337 368L337.3 368.3L337.7 368.3L338 368.6L338.3 369L338.7 369.4L339 369.4L339.3 369.5L339.7 369.5L340 369.8L340.3 370L340.7 370.3L341 370.6L341.3 370.9L341.7 371.3L342 371.6L342.3 372L342.7 372.3L343 372.7L343.3 372.9L343.7 373.1L344 373.6L344.3 374L344.7 374.5L345 374.9L345.3 375.3L345.7 375.5L346 375.9L346.3 376.5L346.7 377.2L347 377.6L347.3 378.1L347.7 378.7L348 379.3L348.3 379.6L348.7 380.1L349 380.7L349.3 381.2L349.7 381.7L350 382.4L350.3 383L350.7 383.7L351 384.4L351.3 385.1L351.7 385.4L352 386.1L352.1 386.3L352.3 386.6L352.4 386.8L352.6 387.1L352.8 387.3L352.9 387.6L353.1 387.7L353.3 387.9L353.4 388L353.6 388.4L353.8 388.5L353.9 388.9L354.1 388.9L354.3 389.1L354.4 389.4L354.6 389.1L354.8 389.8L354.9 389.3L355.1 389.9L355.3 389.6L355.4 389.9L355.6 389L355.8 391L355.9 390L356.1 390.8L356.3 390.5L356.4 390.7L356.6 391.6L356.8 390L356.9 390.6L357.1 391.7L357.3 390.9L357.4 393.6L357.6 392.8L357.8 391.7L357.9 389.8L358.1 389.8L358.3 391.3L358.4 390.4L358.6 391L358.8 392.3L358.9 390.5L359.1 389.9L359.3 390.8L359.4 387.8L359.6 388.7L359.8 389.9L359.9 389.6L360.1 393.1L360.3 391.5L360.4 390.6L360.6 390.6L360.8 391.4L360.9 391.6L361.1 391.4L361.3 388.8L361.4 391.3L361.6 392.3L361.8 389.1L361.9 392.8L362.1 391.2L362.3 389.7L362.4 393.1L362.6 391L362.8 393.1L362.9 393.7L363.1 392.5L363.3 394.1L363.4 394.2L363.6 391.3L363.8 392.8L363.9 393.3L364.1 389.7L364.3 388.7L364.4 387.4L364.6 388.1L364.8 389.6L364.9 390.1L365.1 388.4L365.3 389.1L365.4 389.6L365.6 390.4L365.8 391.1L365.9 391.4L366.1 392.4L366.3 391.9L366.4 391.8L366.6 391.6L366.8 391.7L366.9 390.4L367.1 389.1L367.3 387.8L367.4 388.9L367.6 391.4L367.8 392L367.9 392.4L368.1 392L368.3 391.1L368.4 390.1L368.6 390.6L368.8 388.3L368.9 391.2L369.1 391L369.3 390.3L369.4 390.2L369.6 390.5L369.8 389.3L369.9 389.1L370.1 389.9L370.3 386.4L370.4 388.2L370.6 386.3L370.8 387.9" stroke="#68be70" stroke-width="1.32"/>
<path d="M303.7 373.7L304 373.7L304.3 373.7L304.7 373.7L305 373.7L305.3 373.7L305.7 373.7L306 373.7L306.3 373.7L306.7 373.7L307 373.7L307.3 373.7L307.7 373.7L308 373.7L308.3 373.7L308.7 373.7L309 373.7L309.3 373.7L309.7 373.7L310 373.7L310.3 373.7L310.7 373.7L311 373.7L311.3 373.7L311.7 373.7L312 373.7L312.3 373.7L312.7 373.7L313 373.7L313.3 373.7L313.7 373.7L314 373.7L314.3 373.7L314.7 373.7L315 373.7L315.3 373.7L315.7 373.7L316 373.6L316.3 373.6L316.7 373.6L317 373.6L317.3 373.5L317.7 373.5L318 373.5L318.3 373.5L318.7 373.5L319 373.4L319.3 373.4L319.7 373.4L320 373.5L320.3 373.4L320.7 373.6L321 373.6L321.3 373.6L321.7 373.7L322 373.7L322.3 373.9L322.7 373.8L323 373.8L323.3 374L323.7 374.2L324 374.1L324.3 374.1L324.7 374.3L325 374.4L325.3 374.5L325.7 374.6L326 374.6L326.3 374.8L326.7 375.2L327 375.2L327.3 375.2L327.7 375.2L328 375.3L328.3 375.4L328.7 375.7L329 375.9L329.3 375.9L329.7 375.9L330 376.1L330.3 376.3L330.7 376.3L331 376.4L331.3 376.5L331.7 376.7L332 376.6L332.3 376.7L332.7 376.7L333 377.1L333.3 377.4L333.7 377.5L334 377.7L334.3 377.8L334.7 377.9L335 378.2L335.3 378.3L335.7 378.3L336 378.5L336.3 378.7L336.7 379L337 379.3L337.3 379.4L337.7 379.6L338 380.2L338.3 380.2L338.7 380.6L339 380.7L339.3 381.1L339.7 381.4L340 381.8L340.3 381.9L340.7 382.3L341 382.6L341.3 382.7L341.7 382.8L342 383.3L342.3 383.4L342.7 384L343 384.2L343.3 384.8L343.7 385.1L344 385.3L344.3 385.6L344.7 385.7L345 386.1L345.3 386.5L345.7 386.7L346 387.4L346.3 387.7L346.7 388.2L347 388.5L347.3 388.7L347.7 389.2L348 389.6L348.3 390.1L348.7 390.5L349 390.9L349.3 391.5L349.7 391.7L350 392L350.3 392.4L350.7 392.9L351 393.1L351.3 393.4L351.7 393.7L352 394.2L352.1 394.2L352.3 394.3L352.4 394.4L352.6 394.6L352.8 394.7L352.9 394.8L353.1 394.9L353.3 395.1L353.4 395.2L353.6 395.2L353.8 395.6L353.9 395.6L354.1 395.5L354.3 395.4L354.4 395.5L354.6 395.7L354.8 395.8L354.9 395.9L355.1 396.2L355.3 396L355.4 395.8L355.6 395.4L355.8 395.2L355.9 395.7L356.1 395.5L356.3 396.5L356.4 396L356.6 396.6L356.8 396.9L356.9 396.3L357.1 395.6L357.3 395L357.4 395.2L357.6 396.1L357.8 396L357.9 396.8L358.1 396.3L358.3 396.6L358.4 396.6L358.6 396.3L358.8 396.1L358.9 396.2L359.1 396.6L359.3 396.1L359.4 396.7L359.6 395.9L359.8 395.6L359.9 395.9L360.1 396.7L360.3 396.9L360.4 396.5L360.6 396.7L360.8 396.7L360.9 396.2L361.1 396L361.3 395.8L361.4 395.3L361.6 395.8L361.8 396.5L361.9 396.6L362.1 397.4L362.3 396.3L362.4 396.7L362.6 396.9L362.8 395.9L362.9 395.8L363.1 395.6L363.3 395.7L363.4 396.6L363.6 396.2L363.8 397.2L363.9 397.6L364.1 396.7L364.3 397L364.4 396.3L364.6 395.8L364.8 396.3L364.9 396.8L365.1 395.8L365.3 396.6L365.4 396.2L365.6 396.1L365.8 396.7L365.9 396.1L366.1 395.7L366.3 395.9L366.4 395.6L366.6 395.3L366.8 395.5L366.9 396.3L367.1 396.3L367.3 395.8L367.4 396L367.6 396.2L367.8 396L367.9 396.5L368.1 396.3L368.3 396.4L368.4 396.1L368.6 396.8L368.8 396.2L368.9 395.7L369.1 396.6L369.3 396.3L369.4 396.3L369.6 396.6L369.8 397.1L369.9 396.6L370.1 396.1L370.3 395.9L370.4 394.9L370.6 395.6L370.8 394.8" stroke="#2b934b" stroke-width="1.4"/>
<path d="M303.7 378.9L304 378.9L304.3 378.9L304.7 378.9L305 378.9L305.3 378.9L305.7 378.9L306 378.9L306.3 378.9L306.7 379L307 379L307.3 379L307.7 379L308 379L308.3 379L308.7 379L309 379.1L309.3 379.1L309.7 379.1L310 379.1L310.3 379.1L310.7 379.1L311 379.2L311.3 379.2L311.7 379.2L312 379.3L312.3 379.4L312.7 379.5L313 379.6L313.3 379.7L313.7 379.9L314 380L314.3 380.2L314.7 380.3L315 380.5L315.3 380.7L315.7 380.8L316 381L316.3 381.1L316.7 381.2L317 381.4L317.3 381.5L317.7 381.6L318 381.8L318.3 381.9L318.7 382.1L319 382.3L319.3 382.4L319.7 382.4L320 382.6L320.3 382.6L320.7 382.9L321 383L321.3 383.2L321.7 383.5L322 383.5L322.3 383.7L322.7 383.7L323 383.7L323.3 383.8L323.7 383.8L324 384L324.3 384.1L324.7 384.3L325 384.4L325.3 384.6L325.7 384.6L326 384.6L326.3 384.9L326.7 385.1L327 385.2L327.3 385L327.7 385.1L328 385.3L328.3 385.5L328.7 385.8L329 385.5L329.3 385.6L329.7 385.7L330 385.8L330.3 386L330.7 386L331 386.2L331.3 386.4L331.7 386.6L332 386.7L332.3 386.7L332.7 387L333 387.2L333.3 387.4L333.7 387.6L334 387.7L334.3 387.9L334.7 388.1L335 388.4L335.3 388.6L335.7 388.6L336 388.9L336.3 389.1L336.7 389.4L337 389.7L337.3 390L337.7 390.5L338 391L338.3 391.4L338.7 391.8L339 392L339.3 392.3L339.7 392.6L340 393.1L340.3 393.4L340.7 393.8L341 394.1L341.3 394.3L341.7 394.8L342 395L342.3 395.4L342.7 395.6L343 396.1L343.3 396.3L343.7 396.8L344 397.2L344.3 397.5L344.7 397.8L345 398.2L345.3 398.3L345.7 398.6L346 398.9L346.3 399.2L346.7 399.5L347 399.8L347.3 400.2L347.7 400.7L348 400.8L348.3 401.2L348.7 401.3L349 401.6L349.3 401.7L349.7 401.9L350 402.2L350.3 402.3L350.7 402.3L351 402.6L351.3 402.7L351.4 402.7L351.6 402.8L351.7 403L351.9 403L352.1 403.4L352.2 403.3L352.4 403.4L352.6 403.3L352.7 403.4L352.9 403.4L353.1 403.4L353.2 403.5L353.4 403.5L353.6 403.5L353.7 403.6L353.9 403.7L354.1 403.6L354.2 403.8L354.4 403.6L354.6 403.7L354.7 404L354.9 404L355.1 404.1L355.2 404L355.4 403.9L355.6 404.5L355.7 404.6L355.9 404.2L356.1 404.3L356.2 403.1L356.4 403.5L356.6 403.3L356.7 403.6L356.9 403.9L357.1 403.6L357.2 403.5L357.4 403L357.6 402.3L357.7 402.6L357.9 403.5L358.1 404.6L358.2 404.4L358.4 404L358.6 403.9L358.7 403.5L358.9 403.2L359.1 403.6L359.2 404.7L359.4 403.9L359.6 403.3L359.7 403.9L359.9 403.7L360.1 403.2L360.2 403L360.4 402.2L360.6 402.8L360.7 403.8L360.9 404.5L361.1 404.3L361.2 404.3L361.4 404.3L361.6 403.6L361.7 403.8L361.9 403.7L362.1 402.7L362.2 403.5L362.4 403.1L362.6 403.2L362.7 403.9L362.9 404L363.1 404.3L363.2 403.8L363.4 403.3L363.6 403.8L363.7 404L363.9 403.3L364.1 403.4L364.2 403.5L364.4 404.1L364.6 404.2L364.7 404.2L364.9 403.9L365.1 402.9L365.2 403.2L365.4 403.5L365.6 403.5L365.7 403.6L365.9 403.2L366.1 403.4L366.2 403.5L366.4 403.2L366.6 402.8L366.7 403.6L366.9 405L367.1 405.7L367.2 405.1L367.4 405L367.6 405L367.7 403.8L367.9 403.1L368.1 402.9L368.2 403.6L368.4 403.2L368.6 403.6L368.7 403.3L368.9 402.6L369.1 403.3L369.2 404L369.4 403.8L369.6 403.9L369.7 403.8L369.9 403.7L370.1 403.6L370.2 404.4L370.4 403.5L370.6 404.6L370.7 403.4" stroke="#00682a" stroke-width="1.48"/>
</g>
<rect x="303.6" y="342.2" width="70.5" height="70.06" fill="none" stroke="#000" stroke-width="0.85"/>
<path d="M303.6 412.26h-3.4M303.6 386.3h-3.4M303.6 360.34h-3.4" stroke="#000" stroke-width="0.85" fill="none"/>
<path d="M303.6 404.45h-1.7M303.6 399.87h-1.7M303.6 396.63h-1.7M303.6 394.12h-1.7M303.6 392.06h-1.7M303.6 390.32h-1.7M303.6 388.82h-1.7M303.6 387.49h-1.7M303.6 378.49h-1.7M303.6 373.92h-1.7M303.6 370.67h-1.7M303.6 368.16h-1.7M303.6 366.1h-1.7M303.6 364.36h-1.7M303.6 362.86h-1.7M303.6 361.53h-1.7M303.6 352.53h-1.7M303.6 347.96h-1.7M303.6 344.72h-1.7" stroke="#000" stroke-width="0.6" fill="none"/>
<path d="M338.64 412.26v3.4" stroke="#000" stroke-width="0.85" fill="none"/>
<text x="423.77" y="380.83" font-size="8.5" letter-spacing="0.4" text-anchor="middle" fill="#000">NA</text>
<rect x="388.3" y="342.2" width="70.45" height="70.06" fill="none" stroke="#000" stroke-width="0.85"/>
<path d="M388.3 412.26h-3.4M388.3 386.3h-3.4M388.3 360.34h-3.4" stroke="#000" stroke-width="0.85" fill="none"/>
<path d="M388.3 404.45h-1.7M388.3 399.87h-1.7M388.3 396.63h-1.7M388.3 394.12h-1.7M388.3 392.06h-1.7M388.3 390.32h-1.7M388.3 388.82h-1.7M388.3 387.49h-1.7M388.3 378.49h-1.7M388.3 373.92h-1.7M388.3 370.67h-1.7M388.3 368.16h-1.7M388.3 366.1h-1.7M388.3 364.36h-1.7M388.3 362.86h-1.7M388.3 361.53h-1.7M388.3 352.53h-1.7M388.3 347.96h-1.7M388.3 344.72h-1.7" stroke="#000" stroke-width="0.6" fill="none"/>
<path d="M423.31 412.26v3.4" stroke="#000" stroke-width="0.85" fill="none"/>
<g fill="none" stroke-linejoin="round" stroke-linecap="butt">
<path d="M49.7 438.4L50.2 438.4L50.7 438.4L51.2 438.4L51.7 438.4L52.2 438.4L52.7 438.4L53.2 438.4L53.7 438.4L54.2 438.4L54.7 438.4L55.2 438.4L55.7 438.4L56.2 438.4L56.7 438.4L57.2 438.4L57.7 438.4L58.2 438.4L58.7 438.4L59.2 438.4L59.7 438.4L60.2 438.4L60.7 438.4L61.2 438.4L61.7 438.4L62.2 438.4L62.7 438.4L63.2 438.4L63.7 438.4L64.2 438.4L64.7 438.4L65.2 438.4L65.7 438.4L66.2 438.4L66.7 438.4L67.2 438.4L67.7 438.3L68.2 438.3L68.7 438.4L69.2 438.4L69.7 438.4L70.2 438.5L70.7 438.4L71.2 438.4L71.7 438.4L72.2 438.4L72.7 438.4L73.2 438.4L73.7 438.3L74.2 438.3L74.7 438.3L75.2 438.3L75.7 438.3L76.2 438.4L76.7 438.4L77.2 438.4L77.7 438.4L78.2 438.6L78.7 438.8L79.2 438.9L79.7 439.1L80.2 439.3L80.7 439.3L81.2 439.6L81.7 439.7L82.2 440L82.7 440.2L83.2 440.5L83.7 440.8L84.2 441L84.7 441.2L85.2 441.5L85.7 441.7L86.2 441.9L86.7 442.1L87.2 442.3L87.7 442.5L88.2 442.4L88.7 441.9L89.2 441.4L89.7 441.1L90.2 441.1L90.7 441.2L91.2 441.7L91.7 441.9L92.2 442.4L92.7 442.8L93.2 443.3L93.7 443.7L94.2 444.1L94.7 444.6L95.2 445.2L95.7 445.7L96.2 446.3L96.7 446.7L97.2 447.4L97.7 448L98.1 448.7L98.3 448.9L98.4 449.3L98.6 449.5L98.8 449.9L98.9 450L99.1 450.2L99.3 450.3L99.4 450.6L99.6 450.7L99.8 450.8L99.9 451L100.1 450.9L100.3 450.8L100.4 450.8L100.6 450.7L100.8 450.7L100.9 450.8L101.1 450.5L101.3 450.7L101.4 450.6L101.6 450.7L101.8 450.9L101.9 451.6L102.1 451.3L102.3 451.3L102.4 451L102.6 449.8L102.8 450.5L102.9 450.8L103.1 450.3L103.3 451L103.4 451.3L103.6 451.3L103.8 451.6L103.9 450.6L104.1 450.7L104.3 451.2L104.4 450.8L104.6 451.3L104.8 451L104.9 450.6L105.1 450.1L105.3 450.4L105.4 450.6L105.6 449.8L105.8 450.7L105.9 450.6L106.1 450.3L106.3 450.9L106.4 451.3L106.6 451.3L106.8 451.3L106.9 450.9L107.1 451.1L107.3 450.9L107.4 450.5L107.6 451L107.8 451.8L107.9 451.3L108.1 451.2L108.3 451.1L108.4 450.5L108.6 450.8L108.8 450.9L108.9 451.3L109.1 451.8L109.3 452.2L109.4 452L109.6 451.5L109.8 451.4L109.9 451.9L110.1 451L110.3 451.3L110.4 451.3L110.6 450.9L110.8 451.3L110.9 451.2L111.1 451.3L111.3 451.8L111.4 451.7L111.6 451.6L111.8 451.8L111.9 451.5L112.1 451.7L112.3 452.2L112.4 452.3L112.6 451.4L112.8 451.6L112.9 451.4L113.1 451.1L113.3 450.5L113.4 450.8L113.6 450.9L113.8 450.9L113.9 450.9L114.1 451.3L114.3 451.1L114.4 451.1L114.6 450.9L114.8 451.2L114.9 451.4L115.1 452.1L115.3 452.1L115.4 452.2L115.6 452.2L115.8 452.2L115.9 452.1L116.1 451.1L116.3 451.7L116.4 450.7L116.6 450.4L116.8 450.7" stroke="#a8dca2" stroke-width="1.32"/>
<path d="M49.7 448.9L50.2 448.9L50.7 448.9L51.2 448.9L51.7 448.9L52.2 448.9L52.7 448.9L53.2 448.9L53.7 448.9L54.2 448.9L54.7 448.9L55.2 448.9L55.7 448.9L56.2 448.9L56.7 448.9L57.2 448.9L57.7 448.9L58.2 448.9L58.7 448.9L59.2 448.9L59.7 448.9L60.2 448.9L60.7 448.9L61.2 448.9L61.7 448.9L62.2 448.9L62.7 448.9L63.2 448.9L63.7 448.9L64.2 448.9L64.7 448.8L65.2 448.8L65.7 448.9L66.2 448.7L66.7 448.5L67.2 448.2L67.7 447.9L68.2 447.6L68.7 447.3L69.2 447L69.7 446.8L70.2 446.4L70.7 446.2L71.2 446L71.7 445.9L72.2 445.7L72.7 445.4L73.2 445.3L73.7 445.2L74.2 445.1L74.7 445.1L75.2 445.2L75.7 445.2L76.2 445.3L76.7 445.4L77.2 445.3L77.7 445.4L78.2 445.5L78.7 445.7L79.2 445.7L79.7 446L80.2 446L80.7 446.3L81.2 446.5L81.7 446.8L82.2 447.2L82.7 447.6L83.2 448L83.7 448.3L84.2 448.8L84.7 449.4L85.2 449.8L85.7 450.4L86.2 451L86.7 451.6L87.2 452.3L87.7 452.9L88.2 453.7L88.7 454.6L89.2 455.4L89.7 456.3L90.2 457.1L90.7 458.1L91.2 458.9L91.7 459.8L92.2 460.7L92.7 461.6L93.2 462.7L93.7 463.6L94.2 464.6L94.7 465.5L95.2 466.4L95.7 467.1L96.2 467.8L96.7 468.5L97.2 469.1L97.7 469.7L98.2 470.2L98.7 470.6L98.8 470.7L98.9 470.7L99.1 470.9L99.3 470.9L99.4 471.2L99.6 471.2L99.8 471.3L99.9 471.3L100.1 471.4L100.3 471.5L100.4 471.7L100.6 471.7L100.8 471.8L100.9 471.8L101.1 472L101.3 472.1L101.4 472L101.6 472.2L101.8 472.2L101.9 472.1L102.1 472.2L102.3 472.1L102.4 471.7L102.6 472.2L102.8 472.2L102.9 472.3L103.1 472.1L103.3 472.1L103.4 470.6L103.6 471.3L103.8 471.8L103.9 471.4L104.1 472.6L104.3 471.4L104.4 471.6L104.6 472.8L104.8 472.1L104.9 473.2L105.1 473.6L105.3 472.8L105.4 472L105.6 471.5L105.8 471.1L105.9 471.4L106.1 471.8L106.3 471.2L106.4 471.9L106.6 472.4L106.8 471.2L106.9 471.6L107.1 471.6L107.3 471.2L107.4 471.9L107.6 471.5L107.8 471.6L107.9 471.2L108.1 472.6L108.3 471.6L108.4 472L108.6 471.8L108.8 472L108.9 471.7L109.1 471.4L109.3 471.3L109.4 472.4L109.6 472.4L109.8 472.2L109.9 472.2L110.1 471.2L110.3 471.8L110.4 471.9L110.6 472.7L110.8 473.1L110.9 472.1L111.1 471.7L111.3 472.2L111.4 472.1L111.6 472.2L111.8 473.2L111.9 472.7L112.1 472.8L112.3 473.4L112.4 472L112.6 472L112.8 472.1L112.9 472L113.1 471.8L113.3 472.5L113.4 473.1L113.6 473.1L113.8 473.8L113.9 473.8L114.1 473.2L114.3 473.5L114.4 473L114.6 472.9L114.8 472.4L114.9 471.9L115.1 471.9L115.3 471.9L115.4 471.9L115.6 472.4L115.8 471.7L115.9 471.5L116.1 472L116.3 471.7L116.4 471.8L116.6 472L116.8 472.5" stroke="#68be70" stroke-width="1.32"/>
<path d="M49.7 450.6L50.2 450.6L50.7 450.6L51.2 450.6L51.7 450.6L52.2 450.6L52.7 450.6L53.2 450.6L53.7 450.6L54.2 450.6L54.7 450.6L55.2 450.6L55.7 450.6L56.2 450.6L56.7 450.6L57.2 450.6L57.7 450.6L58.2 450.6L58.7 450.6L59.2 450.7L59.7 450.9L60.2 451.1L60.7 451.4L61.2 451.6L61.7 451.8L62.2 452L62.7 452L63.2 451.9L63.7 451.8L64.2 451.6L64.7 451.4L65.2 451.1L65.7 450.8L66.2 450.6L66.7 450.3L67.2 449.9L67.7 449.6L68.2 449.3L68.7 449L69.2 448.7L69.7 448.1L70.2 447.7L70.7 447.2L71.2 447L71.7 446.7L72.2 446.4L72.7 446L73.2 445.8L73.7 445.5L74.2 445.2L74.7 444.9L75.2 444.6L75.7 444.4L76.2 444.1L76.7 444L77.2 443.8L77.7 443.6L78.2 443.5L78.7 443.2L79.2 443L79.7 442.9L80.2 442.8L80.7 442.7L81.2 442.7L81.7 442.8L82.2 443L82.7 443.3L83.2 443.7L83.7 444.2L84.2 444.6L84.7 444.9L85.2 445.6L85.7 446.3L86.2 447.2L86.7 448.1L87.2 448.9L87.7 449.9L88.2 450.8L88.7 452.1L89.2 453.3L89.7 454.5L90.2 456L90.7 457.4L91.2 458.8L91.7 460.2L92.2 461.9L92.7 463.7L93.2 465.4L93.7 467.1L94.2 468.6L94.7 469.9L95.2 471.3L95.7 472.6L96.2 473.9L96.7 474.9L97.2 475.9L97.7 476.7L98.1 477.1L98.3 477.3L98.4 477.4L98.6 477.5L98.8 477.7L98.9 477.9L99.1 478L99.3 478.2L99.4 478.4L99.6 478.4L99.8 478.5L99.9 478.6L100.1 478.7L100.3 478.6L100.4 478.6L100.6 478.7L100.8 478.8L100.9 478.7L101.1 478.6L101.3 478.7L101.4 479.1L101.6 479.3L101.8 479.5L101.9 479.3L102.1 479.1L102.3 479.7L102.4 479.3L102.6 479.4L102.8 479.1L102.9 479.7L103.1 479.2L103.3 479.3L103.4 479.2L103.6 478.8L103.8 479.5L103.9 478.6L104.1 478.3L104.3 478.6L104.4 477.9L104.6 478.8L104.8 478.8L104.9 478.4L105.1 478.9L105.3 479.3L105.4 479.7L105.6 480L105.8 480.4L105.9 480.4L106.1 479.7L106.3 479.3L106.4 479.9L106.6 479.6L106.8 479.4L106.9 479.7L107.1 479.4L107.3 479L107.4 478.9L107.6 479L107.8 477.9L107.9 477.7L108.1 478.1L108.3 477.7L108.4 478.2L108.6 478.4L108.8 479.5L108.9 479L109.1 479.1L109.3 479.7L109.4 478.9L109.6 479.5L109.8 479.1L109.9 479.7L110.1 479.3L110.3 478.8L110.4 479L110.6 478.7L110.8 478.4L110.9 478.5L111.1 478.9L111.3 479.3L111.4 479.5L111.6 479.7L111.8 479.3L111.9 479L112.1 479.6L112.3 478.3L112.4 478.9L112.6 479.1L112.8 478.5L112.9 479.4L113.1 478.7L113.3 479L113.4 479.4L113.6 479.5L113.8 479.5L113.9 479.6L114.1 478.9L114.3 479.4L114.4 478.5L114.6 478.5L114.8 478.3L114.9 478.2L115.1 478.2L115.3 478.9L115.4 478.7L115.6 479.3L115.8 478.9L115.9 478.6L116.1 478.6L116.3 477.6L116.4 477.3L116.6 477.6L116.8 477.2" stroke="#2b934b" stroke-width="1.4"/>
<path d="M49.7 453.4L50.2 453.4L50.7 453.4L51.2 453.4L51.7 453.4L52.2 453.4L52.7 453.4L53.2 453.4L53.7 453.4L54.2 453.5L54.7 453.5L55.2 453.5L55.7 453.5L56.2 453.6L56.7 453.6L57.2 453.6L57.7 453.7L58.2 453.8L58.7 454L59.2 454.2L59.7 454.4L60.2 454.6L60.7 454.8L61.2 455L61.7 455.2L62.2 455.3L62.7 455.5L63.2 455.7L63.7 455.8L64.2 456L64.7 456L65.2 456.1L65.7 456.1L66.2 455.9L66.7 455.7L67.2 455.4L67.7 455.1L68.2 454.8L68.7 454.5L69.2 454L69.7 453.5L70.2 453.1L70.7 452.5L71.2 451.8L71.7 451L72.2 450.4L72.7 449.7L73.2 449.1L73.7 448.5L74.2 447.8L74.7 447.1L75.2 446.4L75.7 445.6L76.2 444.9L76.7 444.3L77.2 443.9L77.7 443.2L78.2 442.6L78.7 442L79.2 441.5L79.7 441L80.2 440.7L80.7 440.4L81.2 440.2L81.7 440.1L82.2 440.1L82.7 440.1L83.2 440.1L83.7 440.1L84.2 440.1L84.7 440.4L85.2 441L85.7 441.5L86.2 442.2L86.7 442.9L87.2 443.9L87.7 445.1L88.2 446.4L88.7 447.9L89.2 449.5L89.7 451.1L90.2 453L90.7 455.1L91.2 457.4L91.7 459.9L92.2 462.4L92.7 464.8L93.2 467L93.7 469.3L94.2 471.7L94.7 473.9L95.2 475.9L95.7 477.6L96.2 479.2L96.7 480.7L97.2 482L97.4 482.5L97.6 482.9L97.7 483.1L97.9 483.3L98.1 483.6L98.2 483.8L98.4 483.9L98.6 484L98.7 484.1L98.9 484.3L99.1 484.4L99.2 484.5L99.4 484.5L99.6 484.7L99.7 484.9L99.9 485L100.1 485L100.2 485.2L100.4 485.2L100.6 485.2L100.7 485.2L100.9 485.1L101.1 484.9L101.2 485.4L101.4 485.4L101.6 485.8L101.7 485.6L101.9 484.5L102.1 485.7L102.2 485.1L102.4 484.8L102.6 485.4L102.7 485.6L102.9 485.3L103.1 484.9L103.2 485.1L103.4 485.3L103.6 485.4L103.7 485.9L103.9 486.3L104.1 486.8L104.2 486.3L104.4 486L104.6 485.3L104.7 484.8L104.9 485L105.1 484.2L105.2 484.4L105.4 484L105.6 484.6L105.7 484.9L105.9 484.1L106.1 485L106.2 486L106.4 486.4L106.6 487.2L106.7 486.6L106.9 486.1L107.1 485.3L107.2 485.6L107.4 485.9L107.6 485.8L107.7 485.2L107.9 485.4L108.1 485.4L108.2 485.9L108.4 486.1L108.6 485.7L108.7 485.7L108.9 484.8L109.1 484.9L109.2 484.4L109.4 484.6L109.6 484.4L109.7 484.1L109.9 484.9L110.1 484.2L110.2 484.4L110.4 483.8L110.6 484.8L110.7 485.7L110.9 485.9L111.1 486.4L111.2 485.9L111.4 485.2L111.6 484.8L111.7 485.7L111.9 484.9L112.1 485.4L112.2 485.2L112.4 484.5L112.6 485.1L112.7 485.1L112.9 485.2L113.1 485.8L113.2 485.2L113.4 485.1L113.6 484.8L113.7 485.3L113.9 485.1L114.1 484.6L114.2 484.9L114.4 485.1L114.6 484.6L114.7 485.5L114.9 486.3L115.1 486.7L115.2 486.4L115.4 486.2L115.6 486.2L115.7 485.9L115.9 486.1L116.1 485L116.2 484.9L116.4 485.4L116.6 485.2L116.7 485.8" stroke="#00682a" stroke-width="1.48"/>
</g>
<rect x="49.5" y="426.35" width="70.45" height="69.8" fill="none" stroke="#000" stroke-width="0.85"/>
<path d="M49.5 496.15h-3.4M49.5 470.29h-3.4M49.5 444.43h-3.4" stroke="#000" stroke-width="0.85" fill="none"/>
<path d="M49.5 488.36h-1.7M49.5 483.81h-1.7M49.5 480.58h-1.7M49.5 478.07h-1.7M49.5 476.03h-1.7M49.5 474.29h-1.7M49.5 472.79h-1.7M49.5 471.47h-1.7M49.5 462.5h-1.7M49.5 457.95h-1.7M49.5 454.72h-1.7M49.5 452.21h-1.7M49.5 450.16h-1.7M49.5 448.43h-1.7M49.5 446.93h-1.7M49.5 445.61h-1.7M49.5 436.64h-1.7M49.5 432.09h-1.7M49.5 428.86h-1.7" stroke="#000" stroke-width="0.6" fill="none"/>
<path d="M84.51 496.15v3.4" stroke="#000" stroke-width="0.85" fill="none"/>
<text x="44.6" y="499.65" font-size="9.1" text-anchor="end" fill="#000">10<tspan dy="-3.4" font-size="6.4" stroke-width="0.15">−3</tspan></text>
<text x="44.6" y="473.79" font-size="9.1" text-anchor="end" fill="#000">10<tspan dy="-3.4" font-size="6.4" stroke-width="0.15">−2</tspan></text>
<text x="44.6" y="447.93" font-size="9.1" text-anchor="end" fill="#000">10<tspan dy="-3.4" font-size="6.4" stroke-width="0.15">−1</tspan></text>
<text transform="translate(17.7 462.45) rotate(-90)" font-size="10.5" text-anchor="middle" fill="#000">uniform</text>
<text x="85.31" y="509.9" font-size="9.1" text-anchor="middle" fill="#000">10<tspan dy="-3.4" font-size="6.4" stroke-width="0.15">−2</tspan></text>
<g fill="none" stroke-linejoin="round" stroke-linecap="butt">
<path d="M134.4 438L134.9 438L135.4 438L135.9 438L136.4 438L136.9 438L137.4 438L137.9 438L138.4 438L138.9 438L139.4 438L139.9 438L140.4 438L140.9 438L141.4 438L141.9 438L142.4 438L142.9 438L143.4 438L143.9 438L144.4 438L144.9 438L145.4 438L145.9 438L146.4 438L146.9 438L147.4 438L147.9 438L148.4 437.9L148.9 437.9L149.4 437.9L149.9 437.9L150.4 438L150.9 437.9L151.4 438L151.9 437.9L152.4 438L152.9 437.9L153.4 437.9L153.9 437.9L154.4 438L154.9 438L155.4 438L155.9 437.9L156.4 438L156.9 438L157.4 438L157.9 437.9L158.4 437.9L158.9 437.9L159.4 437.9L159.9 438L160.4 437.9L160.9 438L161.4 438L161.9 438L162.4 438L162.9 438.1L163.4 438.2L163.9 438.3L164.4 438.3L164.9 438.5L165.4 438.5L165.9 438.6L166.4 438.6L166.9 438.6L167.4 438.6L167.9 438.7L168.4 438.6L168.9 438.7L169.4 438.6L169.9 438.5L170.4 438.4L170.9 438.3L171.4 438.3L171.9 438.3L172.4 438.3L172.9 438.4L173.4 438.7L173.9 438.9L174.4 439.2L174.9 439.5L175.4 440L175.9 440.5L176.4 440.8L176.9 441.3L177.4 441.9L177.9 442.5L178.4 443.1L178.9 443.7L179.4 444.4L179.9 445L180.4 445.9L180.9 446.6L181.4 447.4L181.9 448.2L182.4 448.9L182.6 449L182.7 449.2L182.9 449.4L183.1 449.6L183.2 449.6L183.4 449.6L183.6 449.8L183.7 450L183.9 450.1L184.1 450.2L184.2 450.2L184.4 450.3L184.6 450.4L184.7 450.4L184.9 450.5L185.1 450.7L185.2 450.5L185.4 450.6L185.6 450.6L185.7 450.5L185.9 450.7L186.1 450.9L186.2 450.8L186.4 451.2L186.6 451.1L186.7 451.2L186.9 450.7L187.1 450.6L187.2 450.2L187.4 450.7L187.6 450.8L187.7 451.4L187.9 450.9L188.1 450.7L188.2 450.8L188.4 451L188.6 450.2L188.7 450.4L188.9 450.3L189.1 450.7L189.2 450.2L189.4 450.5L189.6 450.3L189.7 450.3L189.9 450.4L190.1 450.4L190.2 450.8L190.4 450.4L190.6 450.7L190.7 450.1L190.9 449.7L191.1 449.3L191.2 448.8L191.4 449.3L191.6 450L191.7 449.6L191.9 449.8L192.1 450.2L192.2 449.7L192.4 450.4L192.6 450.1L192.7 450.3L192.9 450.2L193.1 450.3L193.2 450.9L193.4 451.1L193.6 451.5L193.7 451.7L193.9 452.2L194.1 452.1L194.2 452L194.4 452.3L194.6 451.7L194.7 451.7L194.9 452.2L195.1 452.6L195.2 451.8L195.4 451.8L195.6 451.8L195.7 451.9L195.9 451.7L196.1 451.4L196.2 452L196.4 451.2L196.6 451.5L196.7 451.6L196.9 452.2L197.1 451.6L197.2 451.6L197.4 452L197.6 452.1L197.7 452.4L197.9 452.3L198.1 451.4L198.2 451.7L198.4 452.1L198.6 451.5L198.7 451.8L198.9 450.9L199.1 451.6L199.2 451.4L199.4 451.7L199.6 452.5L199.7 452L199.9 452.1L200.1 451.4L200.2 451.6L200.4 451.4L200.6 451L200.7 451.3L200.9 451.4L201.1 451.8L201.2 452L201.4 451.9L201.6 451.5L201.7 452.3" stroke="#a8dca2" stroke-width="1.32"/>
<path d="M134.4 448.9L134.9 448.9L135.4 448.9L135.9 448.9L136.4 448.9L136.9 448.9L137.4 448.9L137.9 448.9L138.4 448.9L138.9 448.9L139.4 448.9L139.9 448.9L140.4 448.9L140.9 448.9L141.4 448.9L141.9 448.9L142.4 448.9L142.9 448.9L143.4 448.9L143.9 448.9L144.4 448.9L144.9 448.9L145.4 448.9L145.9 448.9L146.4 449L146.9 449.1L147.4 449.2L147.9 449.2L148.4 449.4L148.9 449.4L149.4 449.5L149.9 449.5L150.4 449.5L150.9 449.5L151.4 449.5L151.9 449.5L152.4 449.5L152.9 449.4L153.4 449.4L153.9 449.2L154.4 449.1L154.9 449L155.4 448.9L155.9 448.9L156.4 448.7L156.9 448.5L157.4 448.4L157.9 448.3L158.4 448.1L158.9 447.9L159.4 447.7L159.9 447.5L160.4 447.5L160.9 447.5L161.4 447.5L161.9 447.6L162.4 447.6L162.9 447.6L163.4 447.7L163.9 447.7L164.4 447.9L164.9 447.9L165.4 448L165.9 448.1L166.4 448.4L166.9 448.8L167.4 449.1L167.9 449.5L168.4 449.9L168.9 450.3L169.4 450.8L169.9 451.4L170.4 451.9L170.9 452.4L171.4 453L171.9 453.6L172.4 454.3L172.9 455.1L173.4 455.9L173.9 456.7L174.4 457.6L174.9 458.6L175.4 459.7L175.9 460.6L176.4 461.5L176.9 462.4L177.4 463.2L177.9 464.1L178.4 464.9L178.9 465.7L179.4 466.5L179.9 467.1L180.4 467.9L180.9 468.5L181.4 469L181.9 469.5L182.4 469.9L182.9 470.5L183.4 470.9L183.8 471.1L183.9 471.2L184.1 471.3L184.3 471.4L184.4 471.4L184.6 471.4L184.8 471.5L184.9 471.4L185.1 471.5L185.3 471.6L185.4 471.6L185.6 471.7L185.8 471.6L185.9 471.7L186.1 471.8L186.3 471.7L186.4 471.7L186.6 471.4L186.8 471.5L186.9 471.9L187.1 471.8L187.3 472L187.4 472.4L187.6 472L187.8 471.5L187.9 471.9L188.1 471.9L188.3 471.3L188.4 471.7L188.6 472.2L188.8 472L188.9 471.7L189.1 472L189.3 472.7L189.4 472.8L189.6 473.5L189.8 474L189.9 473.7L190.1 472L190.3 472L190.4 472L190.6 471.7L190.8 471.7L190.9 471.7L191.1 471.4L191.3 471.2L191.4 472.1L191.6 472.7L191.8 472L191.9 472.3L192.1 472.3L192.3 471.9L192.4 472.4L192.6 472.6L192.8 473L192.9 472L193.1 471.9L193.3 472.4L193.4 472.7L193.6 473.2L193.8 472.6L193.9 472.8L194.1 472.1L194.3 472.7L194.4 472.7L194.6 472.7L194.8 473L194.9 472.5L195.1 472.6L195.3 473L195.4 472.7L195.6 472.6L195.8 473.1L195.9 472.2L196.1 471.6L196.3 472.7L196.4 472.8L196.6 472.2L196.8 472.9L196.9 471.7L197.1 471L197.3 470.6L197.4 470.9L197.6 471.5L197.8 470.7L197.9 471.8L198.1 471.2L198.3 471.9L198.4 471.7L198.6 472.4L198.8 472.4L198.9 472.3L199.1 472.1L199.3 471L199.4 471.6L199.6 471.5L199.8 472L199.9 471.6L200.1 472L200.3 472.1L200.4 472.3L200.6 472.4L200.8 471.1L200.9 470L201.1 470.7L201.3 470.6L201.4 470.7L201.6 470.9L201.8 471.3" stroke="#68be70" stroke-width="1.32"/>
<path d="M134.4 450.2L134.9 450.2L135.4 450.2L135.9 450.2L136.4 450.2L136.9 450.2L137.4 450.2L137.9 450.2L138.4 450.2L138.9 450.2L139.4 450.2L139.9 450.2L140.4 450.2L140.9 450.2L141.4 450.2L141.9 450.2L142.4 450.2L142.9 450.3L143.4 450.4L143.9 450.5L144.4 450.6L144.9 450.7L145.4 450.8L145.9 451L146.4 451.1L146.9 451.1L147.4 451.2L147.9 451.2L148.4 451.1L148.9 451.1L149.4 451L149.9 450.9L150.4 450.8L150.9 450.7L151.4 450.6L151.9 450.4L152.4 450.3L152.9 450L153.4 449.8L153.9 449.6L154.4 449.3L154.9 448.9L155.4 448.6L155.9 448.3L156.4 448L156.9 447.6L157.4 447.4L157.9 447.2L158.4 446.8L158.9 446.6L159.4 446.2L159.9 446.1L160.4 445.8L160.9 445.5L161.4 445.4L161.9 445.2L162.4 445L162.9 444.9L163.4 444.7L163.9 444.5L164.4 444.3L164.9 444.2L165.4 444.2L165.9 444.1L166.4 444.1L166.9 444.3L167.4 444.5L167.9 444.9L168.4 445.1L168.9 445.6L169.4 446L169.9 446.6L170.4 447.2L170.9 447.9L171.4 448.8L171.9 449.7L172.4 450.7L172.9 451.6L173.4 452.7L173.9 453.9L174.4 455.2L174.9 456.7L175.4 458.1L175.9 459.5L176.4 460.9L176.9 462.4L177.4 464L177.9 465.5L178.4 467.2L178.9 468.6L179.4 470L179.9 471.2L180.4 472.5L180.9 473.7L181.4 474.9L181.9 475.8L182.4 476.7L182.9 477.2L183.1 477.3L183.3 477.5L183.4 477.7L183.6 477.8L183.8 477.9L183.9 478L184.1 478.1L184.3 478.2L184.4 478.4L184.6 478.5L184.8 478.6L184.9 478.6L185.1 478.6L185.3 478.7L185.4 478.9L185.6 478.8L185.8 478.6L185.9 478.7L186.1 478.6L186.3 478.7L186.4 478.7L186.6 479.2L186.8 479.6L186.9 479.7L187.1 479.4L187.3 479.1L187.4 478.9L187.6 479.1L187.8 479.2L187.9 479.4L188.1 479.7L188.3 478.9L188.4 479.3L188.6 479L188.8 478.6L188.9 479L189.1 478.2L189.3 478.2L189.4 477.8L189.6 478L189.8 478L189.9 478.3L190.1 478.8L190.3 478.4L190.4 478.7L190.6 480.3L190.8 479.6L190.9 480L191.1 479.5L191.3 479.7L191.4 479.6L191.6 478.3L191.8 478.7L191.9 478.5L192.1 478.8L192.3 478L192.4 479.9L192.6 479.8L192.8 480.4L192.9 479.7L193.1 479.3L193.3 478.6L193.4 478.4L193.6 478.6L193.8 478.6L193.9 477.8L194.1 478.5L194.3 479.2L194.4 479.2L194.6 480.7L194.8 480.8L194.9 480.3L195.1 480.5L195.3 480.5L195.4 479.3L195.6 478.9L195.8 478.6L195.9 479L196.1 478.8L196.3 479.6L196.4 479.5L196.6 479.6L196.8 480.2L196.9 479.9L197.1 479.8L197.3 479.7L197.4 480.2L197.6 480L197.8 480.1L197.9 479.8L198.1 479.6L198.3 479.6L198.4 479.2L198.6 479.1L198.8 478.7L198.9 479.7L199.1 478.9L199.3 478.8L199.4 479.2L199.6 478.7L199.8 479L199.9 478.7L200.1 478L200.3 479.3L200.4 479.5L200.6 479.5L200.8 479.9L200.9 480.4L201.1 479.6L201.3 479.1L201.4 479L201.6 479.5L201.8 478.8" stroke="#2b934b" stroke-width="1.4"/>
<path d="M134.4 453.9L134.9 453.9L135.4 453.9L135.9 454L136.4 454L136.9 454L137.4 454.1L137.9 454.1L138.4 454.2L138.9 454.2L139.4 454.3L139.9 454.4L140.4 454.6L140.9 454.7L141.4 455L141.9 455.2L142.4 455.5L142.9 455.7L143.4 455.9L143.9 456.1L144.4 456.3L144.9 456.4L145.4 456.4L145.9 456.5L146.4 456.5L146.9 456.5L147.4 456.6L147.9 456.6L148.4 456.6L148.9 456.7L149.4 456.6L149.9 456.5L150.4 456.4L150.9 456.1L151.4 455.8L151.9 455.4L152.4 455.2L152.9 454.9L153.4 454.5L153.9 454.1L154.4 453.6L154.9 453L155.4 452.5L155.9 451.8L156.4 451.3L156.9 450.6L157.4 450L157.9 449.3L158.4 448.6L158.9 447.9L159.4 447.1L159.9 446.4L160.4 445.8L160.9 445.1L161.4 444.7L161.9 444.1L162.4 443.6L162.9 443L163.4 442.4L163.9 442L164.4 441.6L164.9 441.3L165.4 441.1L165.9 440.9L166.4 440.7L166.9 440.5L167.4 440.3L167.9 440.1L168.4 440.3L168.9 440.5L169.4 440.9L169.9 441.3L170.4 441.7L170.9 442.2L171.4 442.8L171.9 443.8L172.4 444.9L172.9 446.3L173.4 447.7L173.9 449.2L174.4 450.9L174.9 452.8L175.4 454.8L175.9 457.2L176.4 459.5L176.9 461.7L177.4 463.9L177.9 466.3L178.4 468.8L178.9 471.3L179.4 473.5L179.9 475.6L180.4 477.3L180.9 479L181.4 480.7L181.9 482L182.4 483.1L182.6 483.3L182.7 483.5L182.9 483.6L183.1 483.9L183.2 484L183.4 484.2L183.6 484.2L183.7 484.5L183.9 484.5L184.1 484.7L184.2 484.8L184.4 484.9L184.6 485L184.7 484.9L184.9 485L185.1 485.1L185.2 484.9L185.4 485.2L185.6 485L185.7 484.8L185.9 485.1L186.1 485.6L186.2 486L186.4 485.6L186.6 485.1L186.7 484.7L186.9 484.2L187.1 484.9L187.2 485.3L187.4 485.2L187.6 485.2L187.7 484.7L187.9 483.7L188.1 484.4L188.2 484.6L188.4 485.8L188.6 486L188.7 485.2L188.9 485.9L189.1 485.8L189.2 485.4L189.4 485.1L189.6 484.7L189.7 484.8L189.9 484.9L190.1 485.8L190.2 485.6L190.4 485.5L190.6 485.4L190.7 485.2L190.9 485.4L191.1 485.7L191.2 485.7L191.4 486L191.6 485.4L191.7 485.4L191.9 485.3L192.1 484.4L192.2 485L192.4 484.6L192.6 484.6L192.7 484.9L192.9 485L193.1 485.4L193.2 485.6L193.4 486.1L193.6 485.9L193.7 485.3L193.9 485.9L194.1 485.6L194.2 485.6L194.4 485.1L194.6 485L194.7 486L194.9 485.9L195.1 486.5L195.2 485.8L195.4 485.8L195.6 485.7L195.7 485.5L195.9 486.3L196.1 485.5L196.2 485.1L196.4 485.5L196.6 485.9L196.7 486L196.9 485.5L197.1 486.2L197.2 486.1L197.4 485.5L197.6 485.8L197.7 485.8L197.9 485.6L198.1 486.1L198.2 485.6L198.4 484.9L198.6 485L198.7 484.8L198.9 485.8L199.1 485.3L199.2 485.1L199.4 484.8L199.6 485.1L199.7 485.5L199.9 485.7L200.1 485.5L200.2 485.7L200.4 485.9L200.6 485.9L200.7 485.9L200.9 485.6L201.1 484.8L201.2 484.7L201.4 484.6L201.6 484.7L201.7 485.1" stroke="#00682a" stroke-width="1.48"/>
</g>
<rect x="134.4" y="426.35" width="70.27" height="69.8" fill="none" stroke="#000" stroke-width="0.85"/>
<path d="M134.4 496.15h-3.4M134.4 470.29h-3.4M134.4 444.43h-3.4" stroke="#000" stroke-width="0.85" fill="none"/>
<path d="M134.4 488.36h-1.7M134.4 483.81h-1.7M134.4 480.58h-1.7M134.4 478.07h-1.7M134.4 476.03h-1.7M134.4 474.29h-1.7M134.4 472.79h-1.7M134.4 471.47h-1.7M134.4 462.5h-1.7M134.4 457.95h-1.7M134.4 454.72h-1.7M134.4 452.21h-1.7M134.4 450.16h-1.7M134.4 448.43h-1.7M134.4 446.93h-1.7M134.4 445.61h-1.7M134.4 436.64h-1.7M134.4 432.09h-1.7M134.4 428.86h-1.7" stroke="#000" stroke-width="0.6" fill="none"/>
<path d="M169.32 496.15v3.4" stroke="#000" stroke-width="0.85" fill="none"/>
<text x="170.12" y="509.9" font-size="9.1" text-anchor="middle" fill="#000">10<tspan dy="-3.4" font-size="6.4" stroke-width="0.15">−2</tspan></text>
<g fill="none" stroke-linejoin="round" stroke-linecap="butt">
<path d="M219 453L219.3 453L219.6 453L220 453L220.3 453L220.6 453L221 453L221.3 453L221.6 453L222 453L222.3 453L222.6 453L223 453L223.3 453L223.6 453L224 453L224.3 453L224.6 453L225 453L225.3 453L225.6 453L226 453L226.3 453L226.6 453L227 453L227.3 453L227.6 453L228 453L228.3 453L228.6 453L229 453L229.3 453L229.6 453L230 453L230.3 453L230.6 453L231 452.9L231.3 453L231.6 453L232 453L232.3 453L232.6 452.9L233 452.9L233.3 452.8L233.6 452.9L234 452.9L234.3 453L234.6 452.9L235 453L235.3 453L235.6 452.9L236 453.1L236.3 452.9L236.6 453L237 452.9L237.3 452.8L237.6 452.8L238 452.7L238.3 452.8L238.6 453L239 453.1L239.3 453L239.6 452.9L240 453.2L240.3 452.9L240.6 452.9L241 452.8L241.3 452.8L241.6 452.8L242 453L242.3 453.1L242.6 452.9L243 453.1L243.3 452.9L243.6 453L244 452.8L244.3 452.7L244.6 452.9L245 453L245.3 453L245.6 452.8L246 452.7L246.3 452.7L246.6 452.7L247 452.5L247.3 452.3L247.6 452.2L248 452.3L248.3 452.3L248.6 452.2L249 452.2L249.3 452.2L249.6 452.1L250 452.5L250.3 452.7L250.6 453.1L251 453L251.3 453.1L251.6 453.2L252 453.1L252.3 453.2L252.6 453.2L253 453.2L253.3 453.4L253.6 453.2L254 452.8L254.3 452.3L254.6 451.8L255 451.2L255.3 451L255.6 450.8L256 450.3L256.3 450.2L256.6 450L257 449.6L257.3 449.7L257.6 449.3L258 449.2L258.3 448.9L258.6 449.3L259 449L259.3 449.1L259.6 449.1L260 449.1L260.3 449.1L260.6 448.9L261 448.9L261.3 449.3L261.6 449.2L262 449.3L262.3 449.2L262.6 449.3L263 449.5L263.3 450.2L263.6 450.4L264 450.8L264.3 451L264.6 451.1L265 451.6L265.3 451.7L265.6 452.1L266 452.7L266.3 453.2L266.6 453.8L267 454.3L267.3 455.1L267.6 455.5L268 456L268.3 456.6L268.5 457L268.6 456.9L268.8 457.4L269 457.7L269.1 458L269.3 457.9L269.5 458.2L269.6 458.8L269.8 459.2L270 459.4L270.1 459.7L270.3 460.2L270.5 460.4L270.6 460.3L270.8 460.5L271 460.7L271.1 461.9L271.3 462.1L271.5 462.4L271.6 461.5L271.8 461.4L272 461.9L272.1 462.6L272.3 462.4L272.5 465.6L272.6 463.8L272.8 463.5L273 465L273.1 466.6L273.3 464.8L273.5 465.4L273.6 462.3L273.8 460.2L274 461.2L274.1 461L274.3 461.2L274.5 461.2L274.6 460.2L274.8 459.8L275 461.1L275.1 462.4L275.3 462L275.5 463.7L275.6 461.7L275.8 462.4L276 462.7L276.1 462.3L276.3 463.3L276.5 464.2L276.6 464.3L276.8 461.4L277 460.1L277.1 462.6L277.3 463L277.5 464.2L277.6 463.8L277.8 466.1L278 463.8L278.1 461.3L278.3 460.8L278.5 460.8L278.6 460L278.8 463.7L279 464.4L279.1 463.4L279.3 465L279.5 461.2L279.6 460.6L279.8 464.9L280 463L280.1 463.3L280.3 464.9L280.5 462.2L280.6 464.2L280.8 462.3L281 460.3L281.1 462.6L281.3 463.6L281.5 466.7L281.6 465.2L281.8 464.1L282 464.9L282.1 464.5L282.3 464.3L282.5 463L282.6 463.4L282.8 463.4L283 466.6L283.1 462.5L283.3 462.9L283.5 460.4L283.6 461.4L283.8 460.1L284 461.3L284.1 463.5L284.3 461.8L284.5 463.9L284.6 463.4L284.8 465.1L285 465.2L285.1 465.8L285.3 463L285.5 463.7L285.6 464.2L285.8 465.5L286 463.7L286.1 465.6" stroke="#a8dca2" stroke-width="1.32"/>
<path d="M219 453L219.5 453L220 453L220.5 453L221 453L221.5 453L222 453L222.5 453L223 453L223.5 453L224 453L224.5 453L225 453L225.5 453.1L226 453.1L226.5 453.1L227 453.1L227.5 453.1L228 453.1L228.5 453.2L229 453.2L229.5 453.2L230 453.2L230.5 453.2L231 453.3L231.5 453.3L232 453.4L232.5 453.5L233 453.5L233.5 453.6L234 453.6L234.5 453.6L235 453.6L235.5 453.4L236 453.1L236.5 452.8L237 452.4L237.5 452.2L238 451.9L238.5 451.6L239 451.4L239.5 451.1L240 451.1L240.5 450.9L241 450.6L241.5 450.4L242 450.2L242.5 450L243 449.9L243.5 449.6L244 449.5L244.5 449.3L245 449.1L245.5 448.9L246 448.4L246.5 448.2L247 448L247.5 447.8L248 447.7L248.5 447.5L249 447.5L249.5 447.6L250 447.7L250.5 448L251 448.2L251.5 448.5L252 448.8L252.5 449.2L253 449.5L253.5 449.9L254 450.4L254.5 450.8L255 451.4L255.5 452L256 452.7L256.5 453.4L257 454L257.5 454.8L258 455.7L258.5 456.5L259 457.4L259.5 458.3L260 459.2L260.5 460.1L261 461L261.5 461.9L262 462.9L262.5 463.9L263 464.8L263.5 465.7L264 466.5L264.5 467.3L265 468.1L265.5 469.1L266 469.9L266.5 470.5L267 471.2L267.1 471.4L267.3 471.6L267.4 471.7L267.6 471.9L267.8 472L267.9 472.2L268.1 472.3L268.3 472.5L268.4 472.5L268.6 472.7L268.8 472.7L268.9 472.8L269.1 472.9L269.3 473L269.4 472.8L269.6 473.1L269.8 472.9L269.9 473.7L270.1 473.3L270.3 473.6L270.4 474.1L270.6 472.5L270.8 474.1L270.9 474.2L271.1 474.1L271.3 473.8L271.4 473.4L271.6 473.1L271.8 471.2L271.9 471.4L272.1 474.8L272.3 473.7L272.4 474.4L272.6 473.5L272.8 473.9L272.9 474.5L273.1 474.2L273.3 473.1L273.4 475.1L273.6 474.8L273.8 473.1L273.9 473.4L274.1 474L274.3 473.1L274.4 474.1L274.6 472.9L274.8 471.8L274.9 472.9L275.1 473.1L275.3 473.2L275.4 474.1L275.6 473.8L275.8 474.1L275.9 472.4L276.1 471.9L276.3 472L276.4 473.9L276.6 476.2L276.8 476.9L276.9 476.6L277.1 473.6L277.3 473.7L277.4 474.5L277.6 473.8L277.8 475.3L277.9 475L278.1 472.7L278.3 472L278.4 470.5L278.6 470.6L278.8 471.8L278.9 472.2L279.1 474L279.3 474.8L279.4 473.5L279.6 473L279.8 471.3L279.9 470.9L280.1 473.6L280.3 473.4L280.4 473.7L280.6 473.9L280.8 472.5L280.9 475.5L281.1 475.4L281.3 473.4L281.4 474.3L281.6 473.2L281.8 473.8L281.9 475L282.1 476.5L282.3 475.4L282.4 473.6L282.6 474.7L282.8 473.9L282.9 473.3L283.1 474.2L283.3 474.1L283.4 473.1L283.6 473.8L283.8 474.7L283.9 473L284.1 475.2L284.3 474.2L284.4 474.1L284.6 474.5L284.8 474.3L284.9 474.8L285.1 476.2L285.3 474.9L285.4 474.4L285.6 474.2L285.8 474.5L285.9 475.6L286.1 475.6" stroke="#68be70" stroke-width="1.32"/>
<path d="M219 453.2L219.5 453.2L220 453.2L220.5 453.2L221 453.2L221.5 453.3L222 453.3L222.5 453.3L223 453.3L223.5 453.3L224 453.3L224.5 453.4L225 453.4L225.5 453.4L226 453.4L226.5 453.5L227 453.5L227.5 453.5L228 453.6L228.5 453.6L229 453.6L229.5 453.7L230 453.8L230.5 454L231 454.1L231.5 454.3L232 454.4L232.5 454.6L233 454.7L233.5 454.7L234 454.7L234.5 454.5L235 454.2L235.5 453.8L236 453.3L236.5 452.9L237 452.4L237.5 451.9L238 451.4L238.5 450.8L239 450.1L239.5 449.3L240 448.8L240.5 448.1L241 447.6L241.5 447.3L242 447L242.5 446.6L243 446.3L243.5 446.1L244 445.7L244.5 445.4L245 445.2L245.5 445.1L246 444.7L246.5 444.5L247 444.1L247.5 443.9L248 443.6L248.5 443.4L249 443.2L249.5 443L250 442.9L250.5 443L251 443.1L251.5 443.2L252 443.3L252.5 443.6L253 443.8L253.5 444L254 444.4L254.5 444.9L255 445.6L255.5 446.4L256 447.2L256.5 448.2L257 449L257.5 450L258 451.3L258.5 452.6L259 453.9L259.5 455.4L260 456.9L260.5 458.3L261 459.8L261.5 461.4L262 463.1L262.5 464.8L263 466.5L263.5 468L264 469.5L264.5 471L265 472.6L265.5 473.9L266 475.3L266.5 476.3L267 477L267.1 477.1L267.3 477.3L267.4 477.6L267.6 477.8L267.8 478L267.9 478.1L268.1 478.3L268.3 478.4L268.4 478.6L268.6 478.7L268.8 478.9L268.9 478.9L269.1 479L269.3 479.1L269.4 479.1L269.6 479.1L269.8 479L269.9 478.6L270.1 478.6L270.3 479.2L270.4 479.3L270.6 479.9L270.8 480.4L270.9 480.2L271.1 480.4L271.3 480.4L271.4 480.1L271.6 479.5L271.8 478.7L271.9 478.1L272.1 478.4L272.3 479.6L272.4 479.5L272.6 480.9L272.8 480.6L272.9 481.3L273.1 480.3L273.3 479.6L273.4 480.3L273.6 478.4L273.8 478.8L273.9 479.8L274.1 479.9L274.3 479.8L274.4 480.5L274.6 479.8L274.8 479.7L274.9 480.6L275.1 480L275.3 480.4L275.4 479.8L275.6 480.3L275.8 480L275.9 481.1L276.1 479.8L276.3 479.5L276.4 479.8L276.6 478.6L276.8 480.2L276.9 480.8L277.1 479.7L277.3 480.1L277.4 479.7L277.6 479L277.8 480.2L277.9 480.2L278.1 480.6L278.3 481.4L278.4 480.4L278.6 481.7L278.8 479.7L278.9 479L279.1 479.7L279.3 479.2L279.4 479.3L279.6 479.6L279.8 479.3L279.9 478.7L280.1 479.6L280.3 479.2L280.4 479.6L280.6 480.1L280.8 480.3L280.9 480.5L281.1 481.1L281.3 480.3L281.4 480.7L281.6 480.4L281.8 481.2L281.9 479.9L282.1 479L282.3 479.9L282.4 480.2L282.6 480.1L282.8 479.3L282.9 479.6L283.1 478.8L283.3 478.6L283.4 479L283.6 479.2L283.8 480.2L283.9 479.8L284.1 479.7L284.3 479.3L284.4 478.4L284.6 478.8L284.8 477.7L284.9 478.3L285.1 478.2L285.3 478L285.4 479L285.6 478.6L285.8 478.4L285.9 477.5L286.1 478.7" stroke="#2b934b" stroke-width="1.4"/>
<path d="M219 453.6L219.5 453.6L220 453.6L220.5 453.7L221 453.7L221.5 453.7L222 453.7L222.5 453.8L223 453.8L223.5 453.9L224 453.9L224.5 454L225 454L225.5 454.1L226 454.1L226.5 454.2L227 454.2L227.5 454.3L228 454.4L228.5 454.5L229 454.6L229.5 454.8L230 455L230.5 455.1L231 455.3L231.5 455.5L232 455.6L232.5 455.7L233 455.7L233.5 455.7L234 455.5L234.5 455.3L235 455.1L235.5 454.8L236 454.5L236.5 454.2L237 453.9L237.5 453.4L238 452.8L238.5 452L239 451.4L239.5 450.7L240 450.2L240.5 449.6L241 449.1L241.5 448.6L242 448.1L242.5 447.6L243 447.1L243.5 446.6L244 446.2L244.5 445.7L245 445.2L245.5 444.5L246 444.1L246.5 443.5L247 442.9L247.5 442.3L248 442L248.5 441.5L249 441.2L249.5 440.7L250 440.3L250.5 440L251 439.7L251.5 439.4L252 439.3L252.5 439.3L253 439.4L253.5 439.6L254 439.8L254.5 440.1L255 440.5L255.5 441L256 441.7L256.5 442.7L257 443.9L257.5 445.1L258 446.5L258.5 448.2L259 450L259.5 451.9L260 454L260.5 456.1L261 458.2L261.5 460.6L262 462.9L262.5 465.5L263 467.9L263.5 470.3L264 472.5L264.5 474.9L265 477.1L265.5 479.3L266 481.1L266.5 482.4L266.7 482.9L266.8 483.2L267 483.6L267.2 484L267.3 484.2L267.5 484.3L267.7 484.7L267.8 484.9L268 485.1L268.2 485.4L268.3 485.5L268.5 485.6L268.7 485.7L268.8 485.7L269 485.7L269.2 485.7L269.3 485.7L269.5 485.9L269.7 485.9L269.8 485.6L270 485.5L270.2 485.5L270.3 485.9L270.5 485.6L270.7 485.7L270.8 485.5L271 485.7L271.2 485.8L271.3 486.3L271.5 486.4L271.7 486.7L271.8 486.7L272 486.5L272.2 486.4L272.3 485.6L272.5 485.3L272.7 485.5L272.8 485L273 485L273.2 485.3L273.3 485.8L273.5 485.8L273.7 486.4L273.8 486.4L274 486.7L274.2 486L274.3 486.3L274.5 485.9L274.7 486.2L274.8 485.5L275 485.6L275.2 485.8L275.3 485.9L275.5 486.1L275.7 485.4L275.8 486.5L276 485.9L276.2 486L276.3 485L276.5 484.8L276.7 485.7L276.8 485L277 485.7L277.2 485.9L277.3 486.4L277.5 486.7L277.7 486.7L277.8 485.7L278 485.6L278.2 485L278.3 484.7L278.5 486.2L278.7 485.7L278.8 486.2L279 486L279.2 486.5L279.3 486.8L279.5 486.6L279.7 486.4L279.8 486.4L280 484.7L280.2 484.6L280.3 484.7L280.5 484.7L280.7 485.5L280.8 486L281 485.9L281.2 485.6L281.3 485.9L281.5 485.6L281.7 485.9L281.8 486.6L282 485.9L282.2 486.2L282.3 486L282.5 485.8L282.7 485.7L282.8 486.5L283 486.3L283.2 486.3L283.3 486.2L283.5 486L283.7 485.5L283.8 485.2L284 485.6L284.2 485.8L284.3 486.1L284.5 486.1L284.7 486.2L284.8 486.3L285 486.9L285.2 487L285.3 487.2L285.5 486.7L285.7 486.5L285.8 486.1L286 486.3L286.2 486.1" stroke="#00682a" stroke-width="1.48"/>
</g>
<rect x="218.9" y="426.35" width="70.49" height="69.8" fill="none" stroke="#000" stroke-width="0.85"/>
<path d="M218.9 496.15h-3.4M218.9 470.29h-3.4M218.9 444.43h-3.4" stroke="#000" stroke-width="0.85" fill="none"/>
<path d="M218.9 488.36h-1.7M218.9 483.81h-1.7M218.9 480.58h-1.7M218.9 478.07h-1.7M218.9 476.03h-1.7M218.9 474.29h-1.7M218.9 472.79h-1.7M218.9 471.47h-1.7M218.9 462.5h-1.7M218.9 457.95h-1.7M218.9 454.72h-1.7M218.9 452.21h-1.7M218.9 450.16h-1.7M218.9 448.43h-1.7M218.9 446.93h-1.7M218.9 445.61h-1.7M218.9 436.64h-1.7M218.9 432.09h-1.7M218.9 428.86h-1.7" stroke="#000" stroke-width="0.6" fill="none"/>
<path d="M253.93 496.15v3.4" stroke="#000" stroke-width="0.85" fill="none"/>
<text x="254.73" y="509.9" font-size="9.1" text-anchor="middle" fill="#000">10<tspan dy="-3.4" font-size="6.4" stroke-width="0.15">−2</tspan></text>
<g fill="none" stroke-linejoin="round" stroke-linecap="butt">
<path d="M303.7 439.3L304 439.3L304.3 439.3L304.7 439.3L305 439.3L305.3 439.3L305.7 439.3L306 439.3L306.3 439.3L306.7 439.3L307 439.3L307.3 439.3L307.7 439.3L308 439.3L308.3 439.3L308.7 439.3L309 439.3L309.3 439.3L309.7 439.3L310 439.3L310.3 439.3L310.7 439.3L311 439.3L311.3 439.3L311.7 439.3L312 439.3L312.3 439.3L312.7 439.3L313 439.3L313.3 439.3L313.7 439.3L314 439.3L314.3 439.3L314.7 439.3L315 439.3L315.3 439.3L315.7 439.3L316 439.3L316.3 439.3L316.7 439.3L317 439.3L317.3 439.3L317.7 439.3L318 439.4L318.3 439.3L318.7 439.3L319 439.2L319.3 439.2L319.7 439.3L320 439.2L320.3 439.2L320.7 439.1L321 439.2L321.3 439.2L321.7 439.2L322 439.2L322.3 439.3L322.7 439.2L323 439.3L323.3 439.2L323.7 439.2L324 439.3L324.3 439.4L324.7 439.2L325 439.2L325.3 439.4L325.7 439.4L326 439.5L326.3 439.4L326.7 439.3L327 439.4L327.3 439.4L327.7 439.6L328 439.5L328.3 439.5L328.7 439.4L329 439.5L329.3 439.5L329.7 439.8L330 439.6L330.3 439.7L330.7 439.7L331 439.8L331.3 439.8L331.7 440L332 440.3L332.3 440.1L332.7 440.4L333 440.4L333.3 440.3L333.7 440.4L334 440.5L334.3 440.6L334.7 440.6L335 440.6L335.3 440.8L335.7 440.7L336 440.5L336.3 440.8L336.7 440.8L337 441.1L337.3 441.1L337.7 441.1L338 441.2L338.3 441.5L338.7 441.7L339 441.6L339.3 441.8L339.7 442.4L340 442.8L340.3 443.3L340.7 443.5L341 443.8L341.3 444.2L341.7 444.4L342 444.5L342.3 444.8L342.7 445L343 445.2L343.3 445.4L343.7 445.3L344 445.6L344.3 445.6L344.7 445.9L345 446L345.3 446.4L345.7 446.5L346 446.6L346.3 446.7L346.7 446.7L347 446.9L347.3 446.8L347.7 447L348 447.1L348.3 447.3L348.7 447.5L349 447.6L349.3 447.7L349.7 448L350 448.2L350.3 448.2L350.7 448.4L351 448.5L351.3 449L351.7 449.1L352 449.6L352.3 449.7L352.7 449.9L353 450.1L353.3 450.4L353.7 450.5L354 450.9L354.1 450.9L354.3 451.2L354.5 451.2L354.6 451.3L354.8 451.5L355 451.6L355.1 452L355.3 452.2L355.5 452.6L355.6 452.7L355.8 452.7L356 452.9L356.1 453L356.3 453.4L356.5 453.9L356.6 453.8L356.8 453.6L357 453.6L357.1 453.6L357.3 454L357.5 453.6L357.6 453.7L357.8 454L358 453.8L358.1 453.6L358.3 454L358.5 452.9L358.6 453.5L358.8 453.4L359 453.6L359.1 452.6L359.3 452.9L359.5 453.2L359.6 453.4L359.8 453.8L360 453.9L360.1 453.6L360.3 453.9L360.5 453.2L360.6 453.8L360.8 453.3L361 453.3L361.1 453.3L361.3 453.3L361.5 454.3L361.6 453.9L361.8 453.9L362 453.6L362.1 452.9L362.3 453.3L362.5 453.7L362.6 454.1L362.8 454.2L363 454.1L363.1 453.2L363.3 453.1L363.5 453.2L363.6 454.1L363.8 453.8L364 452.9L364.1 452.9L364.3 453.5L364.5 453.6L364.6 454.4L364.8 454L365 452.8L365.1 452.3L365.3 452.4L365.5 453.3L365.6 452.8L365.8 453.2L366 452.7L366.1 453.1L366.3 454.4L366.5 454.6L366.6 454.3L366.8 454.6L367 453.1L367.1 452.6L367.3 453L367.5 452.8L367.6 452.7L367.8 451.5L368 452.1L368.1 452.2L368.3 451.9L368.5 453L368.6 452.5L368.8 452.4L369 452.4L369.1 452.1L369.3 453.4L369.5 453.5L369.6 453L369.8 453.4L370 453L370.1 453.2L370.3 453.9L370.5 453.2L370.6 453.1" stroke="#a8dca2" stroke-width="1.32"/>
<path d="M303.7 450.6L304 450.6L304.3 450.6L304.7 450.6L305 450.6L305.3 450.6L305.7 450.6L306 450.6L306.3 450.6L306.7 450.6L307 450.6L307.3 450.6L307.7 450.6L308 450.6L308.3 450.6L308.7 450.6L309 450.6L309.3 450.6L309.7 450.6L310 450.6L310.3 450.6L310.7 450.6L311 450.6L311.3 450.6L311.7 450.6L312 450.6L312.3 450.6L312.7 450.6L313 450.6L313.3 450.6L313.7 450.6L314 450.6L314.3 450.6L314.7 450.6L315 450.6L315.3 450.6L315.7 450.6L316 450.6L316.3 450.6L316.7 450.6L317 450.6L317.3 450.6L317.7 450.6L318 450.6L318.3 450.6L318.7 450.6L319 450.6L319.3 450.6L319.7 450.6L320 450.5L320.3 450.7L320.7 450.6L321 450.7L321.3 450.8L321.7 450.8L322 450.9L322.3 450.8L322.7 451L323 451.1L323.3 451.3L323.7 451.5L324 451.7L324.3 451.7L324.7 451.8L325 451.8L325.3 452L325.7 452.1L326 452.1L326.3 452.4L326.7 452.4L327 452.7L327.3 452.8L327.7 452.8L328 452.9L328.3 452.9L328.7 453.3L329 453.4L329.3 453.2L329.7 453.3L330 453.7L330.3 453.7L330.7 453.9L331 454L331.3 454.3L331.7 454.1L332 454.5L332.3 454.8L332.7 455L333 454.9L333.3 455.1L333.7 455.2L334 455.3L334.3 455.5L334.7 455.6L335 455.8L335.3 455.8L335.7 456.2L336 456.4L336.3 456.5L336.7 456.7L337 457L337.3 457.2L337.7 457.5L338 457.7L338.3 457.8L338.7 458.1L339 458.3L339.3 458.2L339.7 458.6L340 458.8L340.3 459.1L340.7 459.3L341 459.5L341.3 459.7L341.7 459.7L342 460.1L342.3 460.2L342.7 460.5L343 460.8L343.3 461.1L343.7 461.3L344 461.7L344.3 462.1L344.7 462.5L345 462.8L345.3 463.2L345.7 463.4L346 463.8L346.3 464.1L346.7 464.6L347 465L347.3 465.5L347.7 465.8L348 466.3L348.3 466.9L348.7 467.5L349 467.8L349.3 468.5L349.7 468.7L350 469.4L350.3 469.6L350.7 470.1L351 470.6L351.3 471L351.4 471.1L351.6 471.2L351.7 471.6L351.9 471.9L352.1 472.2L352.2 472.4L352.4 472.3L352.6 472.3L352.7 472.3L352.9 472.4L353.1 472.5L353.2 472.5L353.4 472.8L353.6 472.5L353.7 472.7L353.9 472.4L354.1 472.6L354.2 473L354.4 473L354.6 473.3L354.7 473.1L354.9 474L355.1 473.5L355.2 472.3L355.4 473L355.6 472.8L355.7 471.4L355.9 472.2L356.1 472.4L356.2 472.4L356.4 473.7L356.6 474.2L356.7 473.6L356.9 473.6L357.1 474.3L357.2 472.5L357.4 474.6L357.6 472.5L357.7 472.1L357.9 473.5L358.1 475L358.2 474.6L358.4 475.5L358.6 474.3L358.7 473.5L358.9 475.4L359.1 475.4L359.2 474.6L359.4 473.1L359.6 472.9L359.7 473.6L359.9 472.3L360.1 473.3L360.2 472.1L360.4 471.4L360.6 474.2L360.7 474.4L360.9 475.5L361.1 476L361.2 473.7L361.4 474.4L361.6 473.4L361.7 473.1L361.9 473.9L362.1 473.2L362.2 474L362.4 473.7L362.6 473.6L362.7 473.6L362.9 473L363.1 473.6L363.2 472.9L363.4 473L363.6 474.3L363.7 475.1L363.9 474.8L364.1 474.4L364.2 474.8L364.4 475.4L364.6 474.6L364.7 475.3L364.9 475.4L365.1 475.8L365.2 474.3L365.4 475.1L365.6 472.7L365.7 472L365.9 473.4L366.1 472.1L366.2 473.6L366.4 472.6L366.6 474.1L366.7 473.4L366.9 473.7L367.1 472L367.2 471.6L367.4 471.9L367.6 471.5L367.7 472.3L367.9 472.8L368.1 472.7L368.2 473.2L368.4 472.1L368.6 472.8L368.7 472.8L368.9 472.9L369.1 474.1L369.2 474.2L369.4 475.2L369.6 475.3L369.7 474.7L369.9 474.8L370.1 474.1L370.2 472.7L370.4 472L370.6 473.1L370.7 472.9" stroke="#68be70" stroke-width="1.32"/>
<path d="M303.7 458.8L304 458.8L304.3 458.8L304.7 458.8L305 458.8L305.3 458.8L305.7 458.8L306 458.8L306.3 458.8L306.7 458.9L307 458.9L307.3 458.9L307.7 458.9L308 458.9L308.3 458.9L308.7 458.9L309 458.9L309.3 458.9L309.7 458.9L310 459L310.3 459L310.7 459L311 459L311.3 459L311.7 459L312 459.1L312.3 459.1L312.7 459.1L313 459.1L313.3 459.2L313.7 459.2L314 459.3L314.3 459.4L314.7 459.4L315 459.5L315.3 459.6L315.7 459.7L316 459.8L316.3 459.8L316.7 459.9L317 460L317.3 460.1L317.7 460.1L318 460.1L318.3 460.2L318.7 460.3L319 460.3L319.3 460.4L319.7 460.5L320 460.5L320.3 460.6L320.7 460.4L321 460.5L321.3 460.4L321.7 460.4L322 460.5L322.3 460.6L322.7 460.6L323 460.6L323.3 460.5L323.7 460.6L324 460.6L324.3 460.7L324.7 460.7L325 460.5L325.3 460.7L325.7 460.5L326 460.6L326.3 460.5L326.7 460.4L327 460.2L327.3 460.2L327.7 459.9L328 460.1L328.3 460.3L328.7 460.3L329 460.3L329.3 460.2L329.7 460.3L330 460.3L330.3 460.3L330.7 460.6L331 460.8L331.3 460.9L331.7 460.8L332 461.1L332.3 461.4L332.7 461.6L333 461.9L333.3 461.9L333.7 462.1L334 462.3L334.3 462.5L334.7 462.6L335 462.6L335.3 463L335.7 463.1L336 463.3L336.3 463.6L336.7 463.8L337 463.9L337.3 464.1L337.7 464.5L338 464.7L338.3 465L338.7 465L339 465.4L339.3 465.5L339.7 465.8L340 466.1L340.3 466.4L340.7 466.7L341 466.9L341.3 467.1L341.7 467.4L342 467.8L342.3 468.2L342.7 468.5L343 469.2L343.3 469.4L343.7 469.7L344 470L344.3 470.5L344.7 471L345 471.5L345.3 472L345.7 472.5L346 472.9L346.3 473.6L346.7 474.3L347 474.7L347.3 475.2L347.7 475.6L348 476.1L348.3 476.4L348.7 476.8L349 477.3L349.3 477.7L349.7 478.1L350 478.4L350.3 478.8L350.7 479.1L350.7 479.1L350.9 479.3L351.1 479.5L351.2 479.4L351.4 479.4L351.6 479.6L351.7 479.4L351.9 479.8L352.1 479.8L352.2 480.1L352.4 480.1L352.6 480.3L352.7 480.3L352.9 480.3L353.1 480.6L353.2 480.7L353.4 480.6L353.6 480.7L353.7 480.7L353.9 480.4L354.1 480.7L354.2 480.3L354.4 480.2L354.6 480L354.7 480.6L354.9 480.1L355.1 480.5L355.2 480.9L355.4 480.8L355.6 481.2L355.7 481.5L355.9 480.9L356.1 480.3L356.2 479.7L356.4 479.1L356.6 480.1L356.7 478.3L356.9 479.9L357.1 480.8L357.2 479.5L357.4 481.6L357.6 480.5L357.7 479.8L357.9 480.6L358.1 481L358.2 480.6L358.4 480.1L358.6 480.4L358.7 480.9L358.9 480.9L359.1 481.2L359.2 480.9L359.4 481.9L359.6 481.6L359.7 480.8L359.9 480.2L360.1 480.8L360.2 481.4L360.4 481.1L360.6 481.5L360.7 481.6L360.9 480.5L361.1 479.4L361.2 480.5L361.4 480.1L361.6 480.5L361.7 481.5L361.9 481.4L362.1 479.1L362.2 480.5L362.4 480.9L362.6 480.4L362.7 481.4L362.9 480.3L363.1 479.9L363.2 478.7L363.4 480.1L363.6 479L363.7 478.2L363.9 478.4L364.1 478.3L364.2 479.3L364.4 479.1L364.6 480L364.7 480.1L364.9 479.8L365.1 480.3L365.2 479.5L365.4 481L365.6 481.6L365.7 481.3L365.9 481.7L366.1 481.3L366.2 481.1L366.4 480.4L366.6 480.8L366.7 479.9L366.9 480.2L367.1 479.6L367.2 480.9L367.4 480.7L367.6 480.9L367.7 480.6L367.9 480.8L368.1 481.9L368.2 481.2L368.4 482.8L368.6 481.8L368.7 481.4L368.9 481.4L369.1 480L369.2 480.2L369.4 480L369.6 481.4L369.7 481.1L369.9 481.2L370.1 479.6L370.2 481.1L370.4 482.2L370.6 480.9L370.7 481.5" stroke="#2b934b" stroke-width="1.4"/>
<path d="M303.7 469.3L304 469.3L304.3 469.3L304.7 469.2L305 469.2L305.3 469.1L305.7 469.1L306 469.1L306.3 469L306.7 468.9L307 468.9L307.3 468.8L307.7 468.8L308 468.7L308.3 468.7L308.7 468.6L309 468.5L309.3 468.4L309.7 468.3L310 468.2L310.3 468.1L310.7 468L311 468L311.3 468L311.7 468.1L312 468.3L312.3 468.5L312.7 468.9L313 469.2L313.3 469.6L313.7 469.9L314 470.2L314.3 470.5L314.7 470.7L315 470.9L315.3 471.1L315.7 471.3L316 471.5L316.3 471.7L316.7 471.8L317 472L317.3 472.1L317.7 472.3L318 472.4L318.3 472.5L318.7 472.7L319 472.6L319.3 472.7L319.7 472.7L320 472.8L320.3 472.8L320.7 473L321 473L321.3 472.8L321.7 472.7L322 472.6L322.3 472.9L322.7 472.8L323 472.7L323.3 472.8L323.7 472.9L324 472.7L324.3 472.9L324.7 472.8L325 472.9L325.3 473.1L325.7 473.2L326 473.3L326.3 473.3L326.7 473.4L327 473.5L327.3 473.4L327.7 473.6L328 473.6L328.3 473.7L328.7 474.2L329 474.4L329.3 474.4L329.7 474.5L330 474.7L330.3 474.8L330.7 475L331 475L331.3 475.4L331.7 475.8L332 475.9L332.3 476L332.7 476L333 476.2L333.3 476.4L333.7 476.7L334 476.9L334.3 477.2L334.7 477.4L335 477.8L335.3 477.9L335.7 478.1L336 478.2L336.3 478.6L336.7 478.7L337 479.1L337.3 479.6L337.7 479.7L338 479.8L338.3 480.1L338.7 480.4L339 480.7L339.3 480.7L339.7 481.1L340 481.2L340.3 481.4L340.7 481.8L341 482L341.3 482.3L341.7 482.8L342 483L342.3 483.2L342.7 483.5L343 483.8L343.3 483.9L343.7 484.1L344 484.4L344.3 484.6L344.7 484.8L345 485L345.3 485.3L345.7 485.5L346 485.7L346.3 485.9L346.7 486.3L347 486.4L347.3 486.6L347.7 486.9L348 487L348.3 487.2L348.7 487.2L348.8 487.2L349 487.3L349.2 487.5L349.3 487.6L349.5 487.6L349.7 487.8L349.8 487.7L350 487.7L350.2 487.8L350.3 487.7L350.5 487.6L350.7 487.8L350.8 487.9L351 488L351.2 487.9L351.3 487.9L351.5 488.1L351.7 487.9L351.8 488.4L352 488.4L352.2 488.7L352.3 488.3L352.5 488.2L352.7 488.2L352.8 487.6L353 487.8L353.2 488.7L353.3 487.6L353.5 488.6L353.7 487L353.8 487.7L354 487.1L354.2 488.1L354.3 488.1L354.5 488.5L354.7 488.9L354.8 488.7L355 490L355.2 489.1L355.3 488.4L355.5 488.1L355.7 487.8L355.8 487.4L356 488.8L356.2 487.9L356.3 488.8L356.5 488.3L356.7 489.5L356.8 489.9L357 488.5L357.2 487.7L357.3 487.1L357.5 487.8L357.7 489.2L357.8 489.3L358 489.2L358.2 489.5L358.3 488.3L358.5 488.7L358.7 487.3L358.8 487.4L359 487.9L359.2 488.6L359.3 488L359.5 488.3L359.7 487L359.8 487.4L360 488.4L360.2 488.2L360.3 488.2L360.5 488.9L360.7 488.5L360.8 488.4L361 488L361.2 488.9L361.3 488.7L361.5 488.6L361.7 488.2L361.8 488.7L362 487.9L362.2 489L362.3 489.1L362.5 489.4L362.7 488.7L362.8 486.6L363 486.3L363.2 486.5L363.3 487.4L363.5 488.6L363.7 488L363.8 488L364 488.4L364.2 488.6L364.3 489.1L364.5 488.4L364.7 488.1L364.8 488.1L365 486.9L365.2 488.2L365.3 488.3L365.5 488.3L365.7 488.9L365.8 489.4L366 488.5L366.2 489.1L366.3 488.9L366.5 490L366.7 489.7L366.8 489.1L367 489L367.2 487.9L367.3 487.1L367.5 486.4L367.7 487L367.8 486.9L368 486.3L368.2 487.4L368.3 487.5L368.5 487.9L368.7 487.5L368.8 488.1L369 489.8L369.2 489L369.3 488.9L369.5 489.1L369.7 487.4L369.8 487.9L370 487.8L370.2 488.1L370.3 488.2L370.5 487.6L370.7 488.1" stroke="#00682a" stroke-width="1.48"/>
</g>
<rect x="303.6" y="426.35" width="70.5" height="69.8" fill="none" stroke="#000" stroke-width="0.85"/>
<path d="M303.6 496.15h-3.4M303.6 470.29h-3.4M303.6 444.43h-3.4" stroke="#000" stroke-width="0.85" fill="none"/>
<path d="M303.6 488.36h-1.7M303.6 483.81h-1.7M303.6 480.58h-1.7M303.6 478.07h-1.7M303.6 476.03h-1.7M303.6 474.29h-1.7M303.6 472.79h-1.7M303.6 471.47h-1.7M303.6 462.5h-1.7M303.6 457.95h-1.7M303.6 454.72h-1.7M303.6 452.21h-1.7M303.6 450.16h-1.7M303.6 448.43h-1.7M303.6 446.93h-1.7M303.6 445.61h-1.7M303.6 436.64h-1.7M303.6 432.09h-1.7M303.6 428.86h-1.7" stroke="#000" stroke-width="0.6" fill="none"/>
<path d="M338.64 496.15v3.4" stroke="#000" stroke-width="0.85" fill="none"/>
<text x="339.44" y="509.9" font-size="9.1" text-anchor="middle" fill="#000">10<tspan dy="-3.4" font-size="6.4" stroke-width="0.15">−2</tspan></text>
<g fill="none" stroke-linejoin="round" stroke-linecap="butt">
<path d="M388.3 437L388.8 437L389.3 437L389.8 437L390.3 437L390.8 437L391.3 437L391.8 437L392.3 437L392.8 437L393.3 437L393.8 437L394.3 437L394.8 437L395.3 437L395.8 437L396.3 437L396.8 437L397.3 437L397.8 437L398.3 437L398.8 437L399.3 437L399.8 437L400.3 437L400.8 437L401.3 437L401.8 437L402.3 437L402.8 437L403.3 437L403.8 436.9L404.3 437L404.8 437L405.3 436.9L405.8 437L406.3 437.1L406.8 437.1L407.3 437.1L407.8 437.1L408.3 437.1L408.8 436.9L409.3 436.8L409.8 436.8L410.3 437L410.8 437L411.3 437L411.8 437.1L412.3 437.1L412.8 437L413.3 437.1L413.8 437.1L414.3 437.1L414.8 437.1L415.3 437L415.8 437.1L416.3 437L416.8 437.2L417.3 437.2L417.8 437.1L418.3 437.2L418.8 437.2L419.3 437.3L419.8 437.4L420.3 437.5L420.8 437.5L421.3 437.7L421.8 437.8L422.3 437.8L422.8 437.9L423.3 438L423.8 438L424.3 438.3L424.8 438.4L425.3 438.6L425.8 438.8L426.3 439.1L426.8 439.2L427.3 439.5L427.8 439.9L428.3 440.3L428.8 440.6L429.3 441.1L429.8 441.6L430.3 442L430.8 442.5L431.3 443L431.8 443.4L432.3 444L432.8 444.5L433.3 445.1L433.8 445.6L434.3 446.3L434.8 446.8L435.3 447.4L435.8 447.9L436.3 448.3L436.8 448.6L437.3 448.9L437.8 449.3L438.3 449.8L438.5 449.9L438.6 450L438.8 450.2L439 450.2L439.1 450.3L439.3 450.2L439.5 450.2L439.6 450.2L439.8 450.4L440 450.6L440.1 450.5L440.3 450.5L440.5 450.8L440.6 450.9L440.8 450.9L441 450.8L441.1 450.8L441.3 450.9L441.5 450.6L441.6 450.5L441.8 450.7L442 450.7L442.1 451.3L442.3 451.2L442.5 450.8L442.6 451.3L442.8 450.5L443 450.4L443.1 450.6L443.3 451.3L443.5 450.7L443.6 450.8L443.8 450.2L444 450.1L444.1 451.4L444.3 451.1L444.5 451.6L444.6 451.7L444.8 451.1L445 450.8L445.1 450.7L445.3 451.1L445.5 451.1L445.6 451.1L445.8 450.3L446 450.7L446.1 451.6L446.3 451.4L446.5 451.2L446.6 451.9L446.8 451.6L447 450.9L447.1 451.4L447.3 451.3L447.5 452.1L447.6 451.6L447.8 451.5L448 451L448.1 450.9L448.3 451L448.5 450.8L448.6 451L448.8 451.4L449 451.7L449.1 451.4L449.3 451.2L449.5 451.5L449.6 450.5L449.8 450.9L450 450.2L450.1 450.6L450.3 450L450.5 450.5L450.6 451L450.8 450.9L451 451.1L451.1 451.7L451.3 451.9L451.5 451.2L451.6 452L451.8 451.2L452 451.8L452.1 451.8L452.3 451.5L452.5 452.3L452.6 451.7L452.8 451.1L453 451.6L453.1 451L453.3 450.7L453.5 450.3L453.6 450.6L453.8 450.4L454 451.1L454.1 451.5L454.3 450.9L454.5 451.1L454.6 451.5L454.8 451L455 451.2L455.1 451.2L455.3 452.2L455.5 451.6" stroke="#a8dca2" stroke-width="1.32"/>
<path d="M388.3 445.7L388.8 445.7L389.3 445.7L389.8 445.7L390.3 445.7L390.8 445.7L391.3 445.7L391.8 445.7L392.3 445.7L392.8 445.7L393.3 445.7L393.8 445.7L394.3 445.7L394.8 445.7L395.3 445.7L395.8 445.7L396.3 445.7L396.8 445.7L397.3 445.7L397.8 445.7L398.3 445.7L398.8 445.7L399.3 445.7L399.8 445.7L400.3 445.7L400.8 445.7L401.3 445.8L401.8 445.9L402.3 446.1L402.8 446.2L403.3 446.3L403.8 446.5L404.3 446.6L404.8 446.8L405.3 446.8L405.8 446.9L406.3 446.9L406.8 446.9L407.3 446.8L407.8 446.7L408.3 446.6L408.8 446.6L409.3 446.5L409.8 446.7L410.3 446.5L410.8 446.6L411.3 446.3L411.8 446.5L412.3 446.6L412.8 446.8L413.3 446.9L413.8 447L414.3 447.2L414.8 447.4L415.3 447.6L415.8 447.9L416.3 447.9L416.8 448.2L417.3 448.4L417.8 448.5L418.3 448.5L418.8 448.9L419.3 449.1L419.8 449.2L420.3 449.5L420.8 449.6L421.3 449.8L421.8 450L422.3 450.3L422.8 450.5L423.3 450.7L423.8 451L424.3 451.4L424.8 451.7L425.3 452.1L425.8 452.3L426.3 452.7L426.8 453.1L427.3 453.4L427.8 453.8L428.3 454.4L428.8 454.9L429.3 455.3L429.8 455.9L430.3 456.5L430.8 457.3L431.3 458L431.8 458.7L432.3 459.3L432.8 459.9L433.3 460.8L433.8 461.7L434.3 462.6L434.8 463.5L435.3 464.3L435.8 465.4L436.3 466.6L436.8 467.6L437.3 468.7L437.8 469.4L438.3 470.1L438.5 470.2L438.6 470.3L438.8 470.5L439 470.8L439.1 471L439.3 471.3L439.5 471.4L439.6 471.6L439.8 471.7L440 471.7L440.1 471.8L440.3 472.1L440.5 472.2L440.6 472L440.8 472L441 472L441.1 472.4L441.3 472.3L441.5 472L441.6 471.8L441.8 471.9L442 472.5L442.1 472.7L442.3 472.8L442.5 472.8L442.6 471.3L442.8 472L443 472.5L443.1 472.3L443.3 473.2L443.5 473.3L443.6 472.4L443.8 472.7L444 471.9L444.1 471.7L444.3 471.3L444.5 472L444.6 472.1L444.8 472.5L445 472.4L445.1 472.9L445.3 473.7L445.5 472.7L445.6 473.6L445.8 472.6L446 473L446.1 472.9L446.3 473.1L446.5 473.2L446.6 473.6L446.8 472.5L447 471.8L447.1 472.6L447.3 471.5L447.5 472L447.6 471.2L447.8 471.2L448 472.3L448.1 471.6L448.3 473.4L448.5 472.7L448.6 473.4L448.8 472.6L449 471.5L449.1 471.9L449.3 471.5L449.5 472.1L449.6 472.1L449.8 471.5L450 472.7L450.1 472.9L450.3 472L450.5 472.8L450.6 471.6L450.8 471.6L451 471.8L451.1 472.1L451.3 471.2L451.5 472L451.6 471.1L451.8 471.6L452 472.1L452.1 472.5L452.3 472.3L452.5 471.7L452.6 471.1L452.8 471.4L453 472.8L453.1 473.9L453.3 473.3L453.5 472.5L453.6 473.1L453.8 472.3L454 472.7L454.1 472.5L454.3 472.4L454.5 471.1L454.6 471.2L454.8 471.8L455 469.7L455.1 470L455.3 471L455.5 471.2" stroke="#68be70" stroke-width="1.32"/>
<path d="M388.3 453.4L388.6 453.4L388.9 453.4L389.3 453.4L389.6 453.4L389.9 453.4L390.3 453.4L390.6 453.4L390.9 453.4L391.3 453.4L391.6 453.4L391.9 453.4L392.3 453.4L392.6 453.4L392.9 453.4L393.3 453.4L393.6 453.4L393.9 453.4L394.3 453.4L394.6 453.5L394.9 453.5L395.3 453.6L395.6 453.7L395.9 453.8L396.3 453.9L396.6 454L396.9 454.1L397.3 454.2L397.6 454.3L397.9 454.4L398.3 454.5L398.6 454.6L398.9 454.7L399.3 454.8L399.6 454.9L399.9 455L400.3 455.1L400.6 455.2L400.9 455.3L401.3 455.4L401.6 455.5L401.9 455.6L402.3 455.7L402.6 455.8L402.9 455.9L403.3 456L403.6 456.1L403.9 456.2L404.3 456.3L404.6 456.4L404.9 456.6L405.3 456.7L405.6 456.7L405.9 456.7L406.3 456.8L406.6 456.8L406.9 457L407.3 456.9L407.6 457.1L407.9 457.2L408.3 457.3L408.6 457.2L408.9 457.6L409.3 457.4L409.6 457.6L409.9 457.7L410.3 457.8L410.6 458L410.9 457.9L411.3 458.2L411.6 458.2L411.9 458.3L412.3 458.4L412.6 458.5L412.9 458.7L413.3 458.8L413.6 458.7L413.9 458.8L414.3 459.1L414.6 459.1L414.9 459.3L415.3 459.5L415.6 459.7L415.9 459.6L416.3 459.9L416.6 459.9L416.9 459.9L417.3 459.9L417.6 460.1L417.9 460.4L418.3 460.5L418.6 460.6L418.9 460.8L419.3 461.3L419.6 461.3L419.9 461.6L420.3 461.7L420.6 461.9L420.9 461.9L421.3 462.1L421.6 462.3L421.9 462.4L422.3 462.5L422.6 462.9L422.9 463.1L423.3 463.6L423.6 463.7L423.9 464.2L424.3 464.3L424.6 464.6L424.9 464.8L425.3 465.3L425.6 465.4L425.9 465.6L426.3 466L426.6 466.4L426.9 466.9L427.3 467.1L427.6 467.4L427.9 467.9L428.3 468.4L428.6 468.7L428.9 468.9L429.3 469.3L429.6 469.6L429.9 470L430.3 470.4L430.6 471L430.9 471.4L431.3 471.8L431.6 472.2L431.9 472.7L432.3 473.1L432.6 473.7L432.9 474.2L433.3 474.7L433.6 475.1L433.9 475.5L434.3 475.9L434.6 476.4L434.9 476.8L435.3 477.2L435.6 477.5L435.9 477.7L436.3 477.9L436.6 478.2L436.7 478.4L436.8 478.7L437 478.6L437.2 478.7L437.3 479L437.5 479.2L437.7 479.3L437.8 479.2L438 479.4L438.2 479.4L438.3 479.7L438.5 479.6L438.7 479.6L438.8 479.8L439 479.7L439.2 479.6L439.3 479.7L439.5 479.5L439.7 479.4L439.8 479.7L440 479.9L440.2 479.8L440.3 479.8L440.5 480.1L440.7 480.1L440.8 480.2L441 480.1L441.2 480.3L441.3 479.7L441.5 478.4L441.7 479.4L441.8 478.8L442 479.4L442.2 480.8L442.3 480.3L442.5 480.7L442.7 480.8L442.8 479.9L443 480.4L443.2 479.8L443.3 479.8L443.5 480.3L443.7 480.6L443.8 480.4L444 480.2L444.2 479.1L444.3 480.2L444.5 480.4L444.7 479.9L444.8 479.2L445 479.2L445.2 478.2L445.3 479.4L445.5 478.6L445.7 480.1L445.8 480.6L446 479.8L446.2 480.2L446.3 479.5L446.5 479.8L446.7 479.8L446.8 478.7L447 479.8L447.2 480.3L447.3 479.6L447.5 479.8L447.7 480.1L447.8 480.8L448 482.3L448.2 480.4L448.3 480.6L448.5 479.4L448.7 479.6L448.8 480.8L449 480.9L449.2 479.7L449.3 479.4L449.5 478.5L449.7 478.2L449.8 479.7L450 480.6L450.2 480.4L450.3 479.4L450.5 479L450.7 479.3L450.8 479.5L451 481L451.2 480.2L451.3 480.2L451.5 480.3L451.7 479.6L451.8 479.9L452 479.9L452.2 481.2L452.3 480.8L452.5 480.3L452.7 479.3L452.8 480L453 480.3L453.2 480.4L453.3 480.5L453.5 479.6L453.7 479.9L453.8 479.3L454 479.1L454.2 479.2L454.3 479L454.5 479.9L454.7 479.8L454.8 479.9L455 480.3L455.2 479L455.3 479.2" stroke="#2b934b" stroke-width="1.4"/>
<path d="M388.3 462.1L388.6 462.1L388.9 462.1L389.3 462.1L389.6 462.1L389.9 462.1L390.3 462.2L390.6 462.2L390.9 462.2L391.3 462.2L391.6 462.3L391.9 462.3L392.3 462.4L392.6 462.4L392.9 462.4L393.3 462.5L393.6 462.5L393.9 462.6L394.3 462.7L394.6 462.8L394.9 462.9L395.3 463.1L395.6 463.2L395.9 463.4L396.3 463.6L396.6 463.7L396.9 463.9L397.3 464.1L397.6 464.2L397.9 464.3L398.3 464.4L398.6 464.5L398.9 464.5L399.3 464.6L399.6 464.6L399.9 464.6L400.3 464.7L400.6 464.7L400.9 464.7L401.3 464.7L401.6 464.7L401.9 464.7L402.3 464.8L402.6 464.8L402.9 464.8L403.3 464.9L403.6 464.9L403.9 465L404.3 465.1L404.6 465.2L404.9 465.2L405.3 465.3L405.6 465.2L405.9 465.4L406.3 465.5L406.6 465.7L406.9 465.9L407.3 466.1L407.6 466.2L407.9 466.1L408.3 466.3L408.6 466.4L408.9 466.5L409.3 466.7L409.6 466.9L409.9 467.2L410.3 467.6L410.6 467.7L410.9 467.9L411.3 468.1L411.6 468.2L411.9 468.3L412.3 468.5L412.6 468.6L412.9 468.9L413.3 469L413.6 469.2L413.9 469.4L414.3 469.6L414.6 469.7L414.9 469.8L415.3 470.1L415.6 470.1L415.9 470.2L416.3 470.4L416.6 470.4L416.9 470.5L417.3 470.8L417.6 471.1L417.9 471.3L418.3 471.6L418.6 471.8L418.9 471.9L419.3 472.3L419.6 472.6L419.9 472.8L420.3 473L420.6 473.2L420.9 473.3L421.3 473.4L421.6 473.6L421.9 473.9L422.3 474.3L422.6 474.5L422.9 475.1L423.3 475.5L423.6 475.7L423.9 475.8L424.3 476L424.6 476.6L424.9 476.8L425.3 477.5L425.6 477.8L425.9 478.2L426.3 478.7L426.6 479.3L426.9 479.7L427.3 479.8L427.6 480.2L427.9 480.7L428.3 481L428.6 481.1L428.9 481.5L429.3 482L429.6 482.1L429.9 482.6L430.3 482.8L430.6 483.5L430.9 483.9L431.3 484.2L431.6 484.4L431.9 484.6L432.3 485L432.6 485.2L432.9 485.4L433.3 485.8L433.6 486.4L433.9 486.8L434 486.6L434.1 486.7L434.3 486.6L434.5 486.7L434.6 486.8L434.8 487L435 487.4L435.1 487.5L435.3 487.5L435.5 487.3L435.6 487.4L435.8 487.5L436 487.2L436.1 487.4L436.3 487.5L436.5 487.7L436.6 487.5L436.8 487.6L437 487.6L437.1 487.3L437.3 487.5L437.5 487.5L437.6 487.3L437.8 488L438 487.3L438.1 487.8L438.3 487.7L438.5 487.7L438.6 487.9L438.8 487.5L439 487.6L439.1 488L439.3 488.3L439.5 488.6L439.6 488.2L439.8 487.9L440 487.7L440.1 488.7L440.3 487.9L440.5 488.5L440.6 488.9L440.8 488.4L441 487.9L441.1 488.3L441.3 489.4L441.5 489.3L441.6 489.7L441.8 490.3L442 489.1L442.1 488.5L442.3 487.3L442.5 486.9L442.6 487.7L442.8 487.7L443 487.8L443.1 488L443.3 487.8L443.5 488.5L443.6 488.6L443.8 488.1L444 488.5L444.1 487.9L444.3 488L444.5 487.9L444.6 488.1L444.8 487.8L445 487.9L445.1 487.4L445.3 488.3L445.5 488.5L445.6 488.3L445.8 487.9L446 488.6L446.1 488.1L446.3 488.4L446.5 487.5L446.6 487.7L446.8 487.7L447 486.3L447.1 486.3L447.3 486.8L447.5 486.1L447.6 486.5L447.8 487.2L448 487.1L448.1 488.3L448.3 489L448.5 488.7L448.6 489.2L448.8 487.8L449 488.3L449.1 487.2L449.3 487.2L449.5 486.8L449.6 486.9L449.8 487.6L450 487.1L450.1 487.1L450.3 487.7L450.5 487.2L450.6 487.8L450.8 486.8L451 487.2L451.1 486.5L451.3 486.5L451.5 486.3L451.6 486.8L451.8 486.5L452 487.1L452.1 487.8L452.3 487.8L452.5 488.6L452.6 488.2L452.8 487.9L453 487.9L453.1 487.9L453.3 488L453.5 487.2L453.6 488.2L453.8 487.6L454 488L454.1 487.3L454.3 488L454.5 488L454.6 487.3L454.8 486.9L455 487.7L455.1 487.6L455.3 487.8L455.5 488.1" stroke="#00682a" stroke-width="1.48"/>
</g>
<rect x="388.3" y="426.35" width="70.45" height="69.8" fill="none" stroke="#000" stroke-width="0.85"/>
<path d="M388.3 496.15h-3.4M388.3 470.29h-3.4M388.3 444.43h-3.4" stroke="#000" stroke-width="0.85" fill="none"/>
<path d="M388.3 488.36h-1.7M388.3 483.81h-1.7M388.3 480.58h-1.7M388.3 478.07h-1.7M388.3 476.03h-1.7M388.3 474.29h-1.7M388.3 472.79h-1.7M388.3 471.47h-1.7M388.3 462.5h-1.7M388.3 457.95h-1.7M388.3 454.72h-1.7M388.3 452.21h-1.7M388.3 450.16h-1.7M388.3 448.43h-1.7M388.3 446.93h-1.7M388.3 445.61h-1.7M388.3 436.64h-1.7M388.3 432.09h-1.7M388.3 428.86h-1.7" stroke="#000" stroke-width="0.6" fill="none"/>
<path d="M423.31 496.15v3.4" stroke="#000" stroke-width="0.85" fill="none"/>
<text x="424.11" y="509.9" font-size="9.1" text-anchor="middle" fill="#000">10<tspan dy="-3.4" font-size="6.4" stroke-width="0.15">−2</tspan></text>
<text x="508.62" y="464.85" font-size="8.5" letter-spacing="0.4" text-anchor="middle" fill="#000">NA</text>
<rect x="473.4" y="426.35" width="69.95" height="69.8" fill="none" stroke="#000" stroke-width="0.85"/>
<path d="M473.4 496.15h-3.4M473.4 470.29h-3.4M473.4 444.43h-3.4" stroke="#000" stroke-width="0.85" fill="none"/>
<path d="M473.4 488.36h-1.7M473.4 483.81h-1.7M473.4 480.58h-1.7M473.4 478.07h-1.7M473.4 476.03h-1.7M473.4 474.29h-1.7M473.4 472.79h-1.7M473.4 471.47h-1.7M473.4 462.5h-1.7M473.4 457.95h-1.7M473.4 454.72h-1.7M473.4 452.21h-1.7M473.4 450.16h-1.7M473.4 448.43h-1.7M473.4 446.93h-1.7M473.4 445.61h-1.7M473.4 436.64h-1.7M473.4 432.09h-1.7M473.4 428.86h-1.7" stroke="#000" stroke-width="0.6" fill="none"/>
<path d="M508.17 496.15v3.4" stroke="#000" stroke-width="0.85" fill="none"/>
<text x="508.97" y="509.9" font-size="9.1" text-anchor="middle" fill="#000">10<tspan dy="-3.4" font-size="6.4" stroke-width="0.15">−2</tspan></text>
<text x="296.5" y="522.4" font-size="10.5" text-anchor="middle" fill="#000">Relative episodes</text>
<rect x="305.2" y="178" width="71.5" height="56.2" rx="1.6" ry="1.6" fill="#fff" fill-opacity="0.8" stroke="#cccccc" stroke-width="0.8"/>
<path d="M308 186H326.5" stroke="#a8dca2" stroke-width="1.32" fill="none"/>
<text x="334" y="189.2" font-size="8.8" fill="#000">5 cells</text>
<path d="M308 199.3H326.5" stroke="#68be70" stroke-width="1.32" fill="none"/>
<text x="334" y="202.5" font-size="8.8" fill="#000">25 cells</text>
<path d="M308 212.6H326.5" stroke="#2b934b" stroke-width="1.4" fill="none"/>
<text x="334" y="215.8" font-size="8.8" fill="#000">50 cells</text>
<path d="M308 225.9H326.5" stroke="#00682a" stroke-width="1.48" fill="none"/>
<text x="334" y="229.1" font-size="8.8" fill="#000">100 cells</text>
</svg>
</body>
</html>
